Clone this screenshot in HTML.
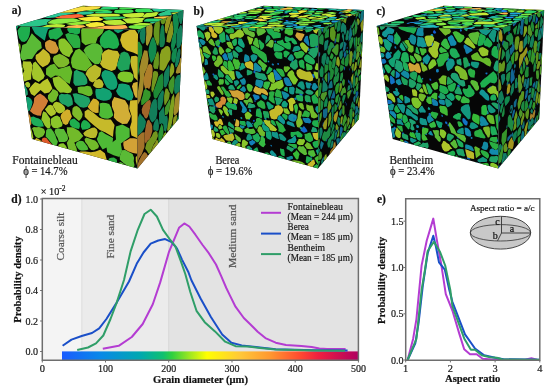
<!DOCTYPE html>
<html><head><meta charset="utf-8"><title>Figure</title>
<style>html,body{margin:0;padding:0;background:#fff;width:550px;height:389px;overflow:hidden}svg{display:block}text{font-family:"Liberation Serif",serif;stroke:#1a1a1a;stroke-width:0.22px}text.g{stroke:#555}</style>
</head><body>
<svg width="550" height="389" viewBox="0 0 550 389">
<defs>
<linearGradient id="cbar" x1="0" x2="1" y1="0" y2="0"><stop offset="0.000" stop-color="#1a5cff"/><stop offset="0.128" stop-color="#0a88e8"/><stop offset="0.263" stop-color="#00a8b0"/><stop offset="0.341" stop-color="#10c070"/><stop offset="0.371" stop-color="#30d040"/><stop offset="0.432" stop-color="#a0e820"/><stop offset="0.489" stop-color="#ffff00"/><stop offset="0.601" stop-color="#ffc838"/><stop offset="0.702" stop-color="#ff9830"/><stop offset="0.803" stop-color="#ff4a30"/><stop offset="0.864" stop-color="#f02040"/><stop offset="0.931" stop-color="#d01050"/><stop offset="1.000" stop-color="#b00060"/></linearGradient>
<clipPath id="kaf"><polygon points="16,26 138,30 137.5,168.5 32,139"/></clipPath>
<clipPath id="kar"><polygon points="138,30 183.5,10 178.5,119 137.5,168.5"/></clipPath>
<clipPath id="kat"><polygon points="83,5.7 183.5,10 138,30 16,26"/></clipPath>
<clipPath id="kbf"><polygon points="196.5,26 318.5,30 318,168.5 212.5,139"/></clipPath>
<clipPath id="kbr"><polygon points="318.5,30 364,10 359,119 318,168.5"/></clipPath>
<clipPath id="kbt"><polygon points="263.5,5.7 364,10 318.5,30 196.5,26"/></clipPath>
<clipPath id="kcf"><polygon points="376.7,26 498.7,30 498.2,168.5 392.7,139"/></clipPath>
<clipPath id="kcr"><polygon points="498.7,30 544.2,10 539.2,119 498.2,168.5"/></clipPath>
<clipPath id="kct"><polygon points="443.7,5.7 544.2,10 498.7,30 376.7,26"/></clipPath>
</defs>
<polygon points="16,26 138,30 137.5,168.5 32,139" fill="#060606"/>
<g clip-path="url(#kaf)">
<path fill="#12a272" d="M116,91.1l1.8 3.4 2.9 2.6 3.8 1.2 3.8 2.3 3.6-.7 1.5-3.2-.7-4-1.9-3.9-1.5-3.6-3.6-1.2-3.6-.4-3.5 .5-.8 3.7zM115.2,18l-1.7 4-.1 4.2 .9 4.7 3.7 2.4 4-2 3.6-2.5 3.8-2.7-1.3-4.2-2.1-3.6-3.5-3.3-4.1 .3zM22.9,95.9l-2.1 1.4 .5 3.7-.3 3.3 1 3.3 2.8 1.9 2.7 1.9 2.1-.9 1.3-2.4 1-3.1 .6-2.9-1.4-3.2-2.6-1.8-2.7-.2zM7.5,15.4l-.7 3.1-.2 3.2 0 3.5 2.2 2.3 2.7 1.7 2.8 1.4 2.5-1 1.3-2.8 1.3-2.8-1.3-3.6-2.5-2.7-2.4-1.2-2.6-.4zM95.8,88.7l-.5 3.1 .3 3.3 1.1 3.4 3.6 1.4 3.2 .9 3.3-.3 3-.9 1.8-2.7 .4-3.2-2-3.1-3.7-1.8-3.4-1-3.1 1.3zM101.3,75.7l1.6 4 1.6 3.9 2.3 3.8 3.5 2.4 3.4-.1 2.8-1.9 1.1-4.2-1-4.3-1.5-3.9-2.6-3.2-3.8-1.5-3.7-.6-2.8 1.9zM32.8,22.2l-.9 5.6 3.1 5.7 5 3.8 4.8 3.4 1.6-6.7 1.6-4.7 4.4-2 4.1-3.1-1.2-6.9-5-4.4-5.4 .7-2.5 5.7-4.8 1.4zM148,13.5l-.5 5.5 2.1 4.9 1.1 5.1 2.3 5.3 4.8-.7 2.7-4.5 1.7-4.6 1-5.5-1.9-5.1-4.2-3.4-5-.7zM16.6,13.6l.3 3.4 1.8 3.2 2 3.2 2.8 .8 2.5-1.3 .3-3.4-2.6-2.9-2.4-2.7-2.5-1.4z"/>
<path fill="#2aae42" d="M108.1,166.4l1.4 2.4 2.7 1.4 2.4-.1 .7-2.9 .8-2.4 1-2.4-.3-3-2.9-1.8-2.9 .1-2.1 .7-.5 2.6-.4 2.8zM136.9,21.6l-1.4 4.4 2 4.5 2.3 4.3 4.3 1 4.3-.2 2.3-3.4-.6-4.7-1.4-5-2.8-4.2-4.8 .7zM59.1,15.6l-.8 3.6 1.7 3.6 1.4 3.9 3.2 .5 2.8-.7 2.8-2.2 3.2-1.9 .9-3.7-1.6-3.9-1.7-3.9-3.1-1.3-3 2-2.6 2.4zM68.2,32.9l-3 1.5 1.6 4.3 1.9 3.1 2.4 3.1 2.4 3.2 2.9 0 3.7-.4 .3-4.1-.3-4.1-1.4-3.7-3.4-1.6-3.5-.2z"/>
<path fill="#d2ae36" d="M128.3,105.4l-3.2-5.2-5.5-1.8-5.4-1.5-2.3 4.9 .1 4.9 2.2 5.5-.4 5.2 3.4 3.7 5.2 3 4.8-.3 2.4-4 1.4-3.9-2.2-5.3zM133.4,83l-1.5 3.2 1.1 4 .9 3.9 1.6 3.4 3.4 .7 2.9-1.5 2.8-2 2.8-2.4 1.7-2.9-.7-3.9-4.1-1.7-3.8-1.7-3.7-.1z"/>
<path fill="#d2ba2a" d="M103.5,166.6l3.9-2.5-1-5.7-1.5-5.2-4.7-3.5-4.7 1.8-4.6 .7-5.5-.6-5.6-.2-.7 4.4 3.4 4.2 5.9 3.1 5 1.8 5.3 1.2zM36.4,137.9l-1.5 1.5 .4 2.8 1.3 3.1 1.4 2.7 1.4 3.3 2.5 .8 1.7-1.4 1.6-1.4-.7-2.7-1.6-2.5-1.5-3-2.2-1.6zM146.6,113.9l-3.1-8.5-6-5.5-7.3 .6-1 7.9 2.4 7.5 0 6-1.6 5.4 1.4 8.1 6.8 3.1 6.2-.4 4.5-3.8 .3-6.9-2.4-6.8zM122.5,46.8l4.2 3.8 6.4 1.8 5.8 2.7 7 3.7 2.7-6.7 2.8-5.9-3.2-6.6-5.9-1.8-4.6-4-4.3-6.2-5.7 3.5-5.9 2.9-1.7 6.1z"/>
<path fill="#72ba2a" d="M49.6,101.2l2.5 1.5 2.2-1.4 2-1.2 .8-2.8 1.4-2.6-.8-3.2-2.7-1.8-2.3-.6-1.6 2.8-1.6 1.6-1.5 1.8-.2 3zM66.8,127.2l.3 5.8 2.1 5.8-2.4 3.9 1.4 5.5 1.5 6.7 4.5 2.6 3.6-2.5-1.2-6.8-2.3-5.8 5-2 4-4.3-4.4-5.4-6.2-3.4zM33.9,126.9l-1.9 1.4 1.5 3.3 .7 2.9 1.7 2.5 2.6 1.3 2.3-1 2.1-1 1.2-1.9 1.1-2.5-1.2-2.8-2.5-1.3-2.5-.8-2.6 .2zM86.4,137.6l-1.9 1.4 .7 3 2.2 2.8 1.7 2.9 2.2 2.3 2.6 .2 2-1 2.3-.9 .8-2.4-1.6-3.1-2.2-2.3-2.7-.8-2.8-1z"/>
<path fill="#d29636" d="M22.5,119.4l1.1 2.5 2 1.8 2.4 1.7 2.4 .2 1-1.8-.4-3.1-.2-3-1-2.6-2-2.2-2.1 .4-1.1 1.9-.9 2.1zM45.1,42.6l-.1 3.4 .9 3.2 2.7 2.2 2.2 2.1 2.6 .3 2.7-.4 1.8-1.7 .9-2.9-1.9-3.5-1.4-3.3-2.8-1.1-3-1.2-2.4 1.1z"/>
<path fill="#d27e36" d="M29.9,110.9l3.5 3 4 1.6 3.5 .3 .9-4.3 2.4-3.2 2-3 2-4.5-3.9-4.6-4.2-2.7-3.1 1.8-2.8 2.8-.4 4.5-1.5 3.9z"/>
<path fill="#aec62a" d="M19.7,77.3l1.8 3 3.3 1.3 3-1.4 3.3-.8 .2-4.7 .7-4.5 .7-5-2.2-3.8-3.8 .1-3.7-.2-.5 4.5 1.8 4.9-1.5 3.1zM54,102.7l-1.2 2.5 1.7 3.4 1.9 3.3 2.7 1.6 2.4-.5 2.4-1.2 1.4-2.2-.7-2.9-2.2-2.3-3.1-1.8-3-.9zM52.9,105.8l-2.6-1-2.2 .7-1.5 1.9-1.7 1.9 1.8 2.8 2.1 2.4 2.3 2 2.2-1.2 2-1 .8-2.4-1.9-2.8z"/>
<path fill="#66ba2a" d="M75.4,50.2l-2.1 4-1.9 3.8-.4 4.7 1.4 4.8 4.4 1.9 4.4 .8 4.6 1.1 2.9-3.2 3.7-3.2-3.1-5-2.5-4.6-3.7-3.2-3.7-3.7zM81.6,42l3.9 3.2 4.8-1.5 5.4-.1 2-6.2 4.8-4.1 2.3-6-5-4.7-4-4.6-4.7-.7-3.6 3.6-3.4 4.4-3 4.7 .2 6zM77.7,87.2l0 2.8 .7 2.9 3.7 .8 3 1.2 3.5 1.4 2.5-.6 1.6-2.3-.5-3.5-1.7-3.4-3.3-.8-2.9 .7-3.4 .2zM54.3,63.8l-4.1 1.2-4.1 3.5-.1 6 4.9 3.5 4.3-2.4 4.6 .4 5.6 5.8 4.3 2.1 1.3-5.4 1.3-6.5-2.5-6.2-6.1 1.7-5.3 1.4z"/>
<path fill="#96c62a" d="M52.5,77.7l.7 4.4 1.2 3.9 2.5 3.6 3.1 3.1 3.6-.1 4 .6 3.2-.7 1.3-3.3-3.1-3.8-3.2-3.3-3.4-3.2-3.4-3-2.9 1zM46.1,112.4l-2.8-1.2-1 2.8-.4 2.9-.6 2.7 1.9 3 1.7 3.2 2.7 2.6 2.5-.6 .6-2.8-.8-3.6 .2-3-1.9-2.7z"/>
<path fill="#bac62a" d="M31,94.1l3.4 1.9 3-3.1 3.2-2.9 4 3.5 4.7-1.1 3.1-3.9-2-5.1-2.9-5-4.5 2.5-3.1 3.2-4.7-2-3.2 3.2-3 3.7z"/>
<path fill="#4eba36" d="M116,139.5l-4.9 3.8-4.6 4.2 .8 4.8 6.3 2.9 5.8 1.7 2.6-6.1-1.1-7.4 4.7-3.5 4.1-2.9-.1-8.5-7.3-3.9-6.4 1.9-.4 6.3zM76.6,142.5l-1 2 1.5 2.7 1.7 2.4 2.4 1 2.6-.1 2.3-.2 2.3-.9-1-2.9-2.1-2.7-2-2.6-2.5-.5-2.4 .6zM48.1,128.5l-1.9 1.7-.3 3.3-.3 2.9 2.8 2.8 2.2 2.9 2.6 2.8 2.6 1.3 1.4-2.1 .7-2.5-1.5-3.2-1.1-3.4-1.8-3.3-2.5-3.1zM101.6,131.2l-2.7 1.5-.6 3.3-1.5 2.9 1.5 3.8 1.9 3.1 2.4 3.7 3-1.5 2.6-1.4 2.5-2.4 2-2.5 .4-3.7-4.2-2.2-3.5-1.8zM102.5,102.7l-3.1 .7 .6 4.4-.3 3.4-.7 3.8 2.3 2.6 3.2 .9 3.5 .2 3-1.2 2.3-2.3-1.2-4-1-3.8-1.9-3.4-3.3-1z"/>
<path fill="#8ac62a" d="M51.2,125l1.7 2.4 2.3 .9 2.6-.4 2.3-.7 2-1 .5-2.5-1.5-3-1.2-3.5-2.7-1.8-2.6 .8-2 1.3-1.9 1.5 0 3.1zM58,147l-.2 2.6 2.7 2.3 2.5 2.6 2.7 2.3 2.3-.1 .6-2.2-.8-2.9-.6-3-1.3-2.9-2.4-2.5-2.7 .3-2.1 1.1zM58.6,40l-.2 3.8 .3 3.5 1.6 3.8 2.3 3.2 3.3 1.7 3.4 1.3 1.6-3.2 2.1-2.6-.9-3.9-2.4-3.5-2.6-3.1-2.6-2.5-3.1-.1z"/>
<path fill="#5aba36" d="M19.7,56.3l2.9 4.4 5-1.6 4.5-.1 2.5-3.9 2.9-4 4.3-3.1-.8-5.8-4.5-4.3-4.7-4.6-3 5.7-2.6 4.6-3.9 1.5-1.1 5.6zM55.3,129.2l-.8 2.5 1.4 3.3 1.8 3.1 1.3 3.9 3.1 0 2.6 0 2.3-1 1.1-2.3-.5-3.2-2-3.3-1.8-3.2-2.8 0-3.2-.7zM119.8,175l2.9 .1 2.1-1.3 2.1-1.1 3-1.2-1.6-2.9-2.6-2.2-2.3-2.8-2.9-1.7-2.2 1.2-1.1 2.2-1.1 2.5-.2 2.6 1.2 2.6zM85.8,47l-2.3 3.3 2.2 4.3 3.1 3.9 3 3.2 3.4 2.6 3.8-.4 2.2-3.1 .3-5 1.4-4.8-1.6-5-4-2.6-4.1-.1-4.1 1.8zM119.7,156.5l.2 3.3 3.3 3 3.3 2.5 3.3 2.8 3.8 .5 .9-3.5-.8-3.8 .4-3.5-1.5-3.8-3.8-2.1-3.6-1.9-3.3 .3-1.1 3.3z"/>
<path fill="#baba2a" d="M94.1,82.3l-1.1 3.2 2.8 2.3 3.3 .4 3.4-.8 1.2-3.1-1.5-3.5-2.9-2.1-3.1 1.3zM86.9,70.8l-1.4 3.4 2.4 3.3 1.7 3.4 2.8 1.6 2.9-1.5 2.2-2.8 2.4-2.2 .9-3.5 .6-4.1-3.4-1.8-3.1-2.1-3.2 1.8-2.7 2zM97,129.4l-2.3-2-2.7 .3-2.6 1.3-2.4 1.1-1.8 1.2-2 1.9 1.6 2.7 2.8 1.1 2.8 1 3 0 2.4-.5 1-2.3 .9-2.9zM95.4,11.4l.9 3.6 2.3 3.2 2.5 3 2.3 3 2.7 1.9 3.7 .7 2.2-3.2-.8-4.7-1.3-3.2-3.4-2.5-3.1-2.5-3-1.9-2.9-.2zM154.2,165.7l3.1-2.6-1.8-4.6-2.2-4.5-4.5-2.5-4.1-.2-3.1 2.1-3.6 1.3-2.3 2.5 .1 3.9 1.1 3.9 4.4 1 4.1 .5 4.3-.8z"/>
<path fill="#1eae4e" d="M68.1,26.1l-.9 3.6 2.1 3.3 3.9 .4 3.7 1.3 2.9-1.5 .5-4.1 .2-4.2-3.1-2.5-3.5-.5-3.1 1.8zM17.5,30.8l.6 3.5 1.1 3.9 2.3 3.2 2.9 .5 2.3-1.3 1.7-2.7 1.2-3.3 .4-3.4 0-4.5-3.1-1.7-2.8-.4-2.7 1.4-2.2 2.1zM80.9,126.8l1.4 3 2.8-.2 2.5-.7 2.4-1.2 .8-2.3-1.7-2.7-2.7-2.1-2.6-.5-1.8 1.6-.9 2.3zM74.2,118.6l-2.5 .6-1.9 1.6-.2 2.7 1.1 2.5 2.5 1.5 2.9 1.1 3 .3 .8-2.6-.3-3.3-2.7-2.3zM100.4,37.6l-.8 3.9 1.2 4.3 3.7 2.7 4.3-.7 4.4 1.3 4-.9 2.1-3.6-1-5.1-2.1-4.5-3.3-3-3.7-2.2-3.8 1.5-2.9 2.9zM49.3,30.3l-.9 2.7 .3 3.2 1.6 2.7 3.1-.1 2.7 1 2.4-1.6 2.2-1.7 2.5-2.5-1.6-3.3-1.3-3.1-3.2 .3-2.6 .5-2.5 1z"/>
<path fill="#1ea272" d="M22.7,83.2l-2.1 .5-.8 2.5-.1 2.9-.1 2.8 1.7 2.2 2.4 1.1 2.6 .5 1.6-1.3-.2-2.8-1-3.1-1.8-3.2zM133.6,169.9l0 2.9 2.8 2.8 2.7 2.8 2.9 2.1 3.7 2.4 2.3-1.9 2.2-1.7-1-3.4-1.6-3.3-1.8-3.4-3.5-1.3-3.2 .3-4.1-.8z"/>
<path fill="#7eba2a" d="M72.6,108.3l-.3 2.6-.1 3 1.6 2.7 2.4 1.8 2.8 2.5 1.9-1.8 1.2-2.1 .6-2.7-1.3-3.4-1.8-3-2.8-1.8-2.5 .5zM54.1,55.9l-1.3 2.5 .8 3.4 2.3 3.1 2.7 2.7 3-.2 3.2-.7 2.7-1.4 2-2.2-.7-3.8-2.9-2.2-2.9-1.9-3.4-1.5-2.9 1.2zM15.1,54.9l2.1 2.3 1.4-2.4 .7-2.3 1-2.5 .4-2.9-.3-2.7-2-1.5-1.9 .4-1.7 1.5-1.6 1.7-.6 2.8 1.3 2.8zM17.4,72.6l1.9 1.8 2.2 .3 1.2-2.6 .6-2.7-1.3-3.2-1.3-2.9-2.1-2-2.1 .3-1.5 1.6 .3 3.1 1.4 3.2z"/>
<path fill="#7ec62a" d="M120.1,72.3l-2.3 2.1-.2 3.7 2.9 2.7 3.4 1.3 3.9 .5 3.7-.6 1.9-3 0-3.9-2.9-2.9-3.7-.4-3.7-.4z"/>
<path fill="#de5a2a" d="M42.2,138.5l-.6 2.1 2 2.9 1.6 2.5 1.6 2.9 2.5 1.6 2.2 .4 1.7-1 1.5-1.6-1.9-2.9-2.2-2.3-2-2.3-2.2-2.8-2.3-.4z"/>
<path fill="#c6ba2a" d="M100,63.8l2.8 3.6 4.1 1.8 4.6 1.8 3.9-1.6 1.8-4.5 1-5 1.6-4.8-2.3-4-4.6-.7-4.5-1.1-3.9 1.7-2.7 3.1 .2 5zM136,55.7l-4.8 .6-1 4.9 1.1 5.9 1.7 4.7 1.2 5.7 4.1 3.9 5.5 1.7 4.4-2 .7-5.5 2.3-4.6-1.6-5.4-3.8-4.9-5.2-1.4zM99.3,117.8l-5.9-5.1-5.4-3.5-3.4 2.3 .1 5.3 4.7 4.8 5.3 4.4 5.1 4.1 5.7 2.5 7.5 4.3 .5-6 1.1-6-3.7-5.4-6.2-.1zM35.8,55.1l-.3 3.4 1.9 3.4 2.6 3 2.8 2.3 2.4-1.3 2.8-1.3 1.9-2.9 .6-3.6-1.2-4.1-3.1-2.9-3-2.3-2.5 2.7-2.3 1.9z"/>
<path fill="#1ea25a" d="M124.1,51.4l-3.4 1.7-1.2 4.3-1.3 3.9-1.3 4 1.3 3.4 3 2.6 4.1-1.2 3.9-.7 .5-4.2 .8-4.1-.6-4.4-1.9-3.7z"/>
<path fill="#1ea266" d="M61.3,93.8l-2.3 1.6-.2 3.1 .8 3 2.1 2.2 3.3 1.3 3 1.9 2.4-.9 2.5-1.5-.2-3.3-.7-3.3-1.6-3.2-3.1-.7-2.9 .3zM4.8,27.4l.6 3.9 1.4 2.9 1.2 3 1.9 3.1 1.9 2.4 2.6 1.1 1.5-2.5 1.8-2-1.2-3.4-1.3-3-2.5-1.6-2.5-1.9-2.3-.8zM76.1,93.3l-3.6 .5 1.5 4.3 .5 3.7 2.8 2.8 2.8 2.5 3.4 .6 3.4-.6 2-2.9 1.4-2.9-1-3.5-3.4-1.5-3.3-1.3-3.3-.7zM76.4,69.8l-2.4 1.8-.4 3.7-.1 3.6-.2 3.8 1.9 3.1 3.3-.1 3-.5 3.5-.2 2.4-1.8-.2-3.7-1.6-3.7-2.4-3-3.3-1.4z"/>
<path fill="#d2ae2a" d="M63,123.4l2.7 1.5 2.2-.8 1.1-2.8 1.6-2.1 1.3-2.7-1.1-2.8-.9-3.5-2.8-.9-2.3 1.5-2.1 1.7-1.6 1.9-.6 2.5 1.2 3zM96.4,99.3l-3.2-.8-2.1 2.7-1.7 2.7-1.8 2.9 2.2 3 3 2.1 3 1.1 2.8-.3 0-3.7 .1-3.3 .4-3.8z"/>
<path fill="#a2c62a" d="M33.4,137.6l-.9-4.4-1.4-4.8-3.8-2.5-4.2-3-1.6 3.5-.3 3.9 .5 4.1-1.9 3.3 .6 4.1 4.1 2.1 3.8 3.8 1.9-3 1.2-3.9zM32.8,78.4l3.1 1.8 2.8 1.7 2.2-1.6 2.5-1.5 1.4-3.1-1.9-3.9-1.9-3.5-2.5-3.2-3-3.7-2.4 1.7-.2 4.1-.8 3.4-.1 3.9zM30.1,86.5l.1-2.7-2-2-2.1 .4-1.2 1.9 1.4 2.7 2.1 .9z"/>
<path fill="#1eae5a" d="M33.5,116.5l-2.4 .4-.2 3 .7 3.1 2 2.3 2.4 .8 2.6 .7 2.4-.1 2.9-.1-.9-3.2-1.2-3-3-1.8-2.7-.9z"/>
<path fill="#d2a236" d="M123.4,141.7l-.1 3.4 1 3.9 4.3 2.6 4.4 1.5 4.2 .7 3.7-1.5 3.6-2-.4-4-2.1-3.9-3.1-3.2-4.9-1-4 .1-3.1 2z"/>
<path fill="#42ba36" d="M153.8,91.6l-4 1.2-2.9 2.2-2.4 2.5-2.5 2.4 1.1 3.3 1.3 3.9 3.3 2.5 3.6-.9 3.8-.3 2.8-2.2 .8-3.4-1.6-3.7-.6-3.9zM35.6,142.9l-2.1-2.4-1.8 1.3-1.2 1.5-.9 2.3-.6 2.2 1.1 2.5 2.2 1.4 2.4 1 2.6 .5 1.3-1.5-.9-3-.8-3z"/>
</g>
<polygon points="138,30 183.5,10 178.5,119 137.5,168.5" fill="#060606"/>
<g clip-path="url(#kar)">
<path fill="#72961e" d="M165.6,88.6l-.9 3.7-.6 3.7 0 3.8 .1 3.4 .6 2.2 1.3-1.5 1.3-2.3 1.3-2.2 .8-3.1 .3-3.4-1.1-1.3-.7-2.3-1.1-.8zM146.6,142.5l-1.5 6.1 1.9 2.4 1.4 2.6 1.8 .2 1.7-5.1 1.9-4.8 2.3-3.1 1.9-4.9-.7-3.8-1.6-1.1-2.4 1.5-1.7 4.1-2.4 2.8zM154.7,70.8l-1.5 1.3-.7 4.4-.4 4.4-.5 4.3-.3 4.4 .8 2.9 1.6-2.3 1.2-4.5 1.2-3.2 1.1-3.5 1.1-4.4-.7-2.9-1.5-.5z"/>
<path fill="#8a961e" d="M172.9,121.2l-.1 3.4 .2 3 .5 1.9 .9 .3 .8-4.3 .9-3.3 .8-3.9 .1-3.6-1.1 .3-1.2 1.2-1.2 1.2zM153.2,145.7l-1.4 4.1-1.7 5.2-.8 5.3 .8 2.8 2-2.2 1.6-1.9 1.7-3 1.6-2.7 .9-4.5 .3-4.4-.3-3.6-1.1-1.4-1.9 3.9zM166.8,36.9l-.4 5 1.6 .3 1.3 .9 1.4-1.5 1.1-3.8 1.2-3.9 .4-4.8-.6-3.6-.3-4.3-1.3 .3-1.1 2.8-1.1 3.9-1.3 4.4z"/>
<path fill="#2a962a" d="M133.7,95.2l1.6 1.8 1.8-3.3 1-5.7-.5-4.4-2.1 1.1-1.7 4.7z"/>
<path fill="#127e5a" d="M178,7.9l-.9 4.4 .4 4.1 1.2 2.6 .6 3.1 .9 2 1.3 0 1-3.7 .7-4 .4-4.3-.5-3.5-.9-2.3-1.2-1.3-1.4 1.9zM154.2,122.3l-1 3.7 .1 3.4 1.1 1.1 1.3 0 1.3 .9 1.5-1.3 .5-4.1-.3-3.2-.5-2.9-1.1-1.3-1.4 1.2zM159,112.7l0 6.7 .4 5.1 2.4-1.2 1.4 1 .8 5.9 1.8 1.9 1.7-6.2 .3-7.1-.7-3.2-2.1 .6-.6-4.9-.5-5-2.1 2.6zM176.4,76.5l-1.4 3.2-.8 5.2-.1 5.1 .6 3.3 1.3 .8 1.7-1.5 1.6-1.2 1.4-4.2 .5-5-.1-4.5-.3-3.4-1.6 .8-1.4-.2zM139.7,-30.2l-3.7-3.4-.2 14.8-.5 11.1 .4 12.5-.8 12.9 .4 9.2 1.7 8.7 3.8-5.1 3.1-9.9 .7-9.4-.6-10.1-1.4-11.3-1.5-10.1zM163.7,86l1.1 1.6 1.4-.7 1.4-2.8 1.3-3.4 .3-4.7 .5-4.9-.1-4.1-.8-2.4-1.6 2.9-1.5 2.2-1.4 2.9-.7 4.4 0 4.7zM164,92.2l-.8-2-1.3 .4-1.6 2.6-1.5 2.7-1.1 3.4-.2 3.9 .1 4.1 .7 2.4 1.1 .9 1.5-2.4 1.4-3.1 1-4 .2-4zM153.3,99.7l-1.7 3.4-1.4 5-1.3 6 .7 4.2 1.2 2.5 1.4 1.8 1.9-1.7 2-2.2 1.1-4.7 .2-4.5-.4-4.4-.2-5.2-1.6-1.1zM177.4,30.1l-.7 4.9 0 4.6-.3 5.3 .8 3.4 1.4 .2 1.5-1.8 1.4-3.3 1-4.7 0-4.9-.2-4.8-.6-3.6-1.3-.7-1.5 3.3zM142.7,43.9l1.8-1.1 .8-4.9 .3-5.6-.3-4.9-1.6-1.3-2 2.5-1.9 4.3 0 5.2 1.2 3.6zM178.4,49l-1.1 3.2-1 4-.8 4.3-.5 4.1 .4 2.7 1-.1 1.3-1.6 1.1-3.4 .9-3.5 .5-4.1 .2-4.4-.8-2zM136.2,132.6l.6 3.9 2.3-2.1 2-1.5 2-2.3 2-3.8 .9-5.3-1.4-2.5-1.4-1.7-1.6-1.7-1.7-2.3-1.7 3.7-.9 5-.7 5.4z"/>
<path fill="#a27e2a" d="M180.1,3.4l1.5-5.2-.4-7.9-.2-8-.7-5.8-.1-9.7-2 2.6-1.1 7.9-1.3 7.4-1 8.1-1.3 7.9 .3 6.1 2 1.4 2.2-1.8z"/>
<path fill="#42962a" d="M171.4,94l1.3-.3 1-4 .4-4.5 .5-4.6-.2-3.5-.8-1.4-1.2 1.1-1.4 2.3-1.5 1.8-1.1 3.9 .3 3.5 .7 2.3 1 1.7zM170.2,103.4l.2-4-1.3 .3-1.4 3.1-1.3 2.2-1.5 2.8 0 3.8 .1 3.6 1.4-.5 1.2-.5 1.2-2.7 .9-4.1z"/>
<path fill="#1e8a36" d="M135.9,41.6l-1.8 8.3 .2 8.1-.9 8.3-3.7 7-3 8.9 3.1 3.5 3.7 0 3.4-6.2 2.2-7.9 .3-8.3 2.7-8.3 .2-8.6-2.9-4.6zM167.8,135.3l-.9 4.6 .7 2.1 .9 1.2 1.1-.3 1.4-3.2 1.1-3.4 1-3.9-.4-3 0-4-1-.6-1.4 4.1-1.1 3.2zM153.2,92.1l.5 4.3 1.2 2.3 2.1-.7 2.1-4 1.9-2.8 2.2-3.2 .1-5.5-.1-5-.5-4.6-2.2 1.8-1.8 1.8-1.6 5.1-1.8 5z"/>
<path fill="#a2962a" d="M148.4,20.7l-1.8 2.4-.5 5.5 .2 5.4-.5 5.5 .2 4.9 1.4 1.5 1.7-3 1.3-3.4 1.6-3.4 .5-4.6 .1-4.5-1-2.9-1.4-2.7z"/>
<path fill="#a28a2a" d="M134,109.9l-4.2 4-4.6 6.2-4.9 5.3-5.4 6-3.2 6.9 2.1 5.4 3.7 .5 5-1.2 4.8-1.2 3.8-2.9 4.3-4.8 1.4-11.1 1-11.1zM173.4,112.7l.8 2.8 1.5-.7 1.5-1.8 1.5-2.1 .8-5.1 .1-4.3 .1-4.5-.2-4.7-1.3 0-1.6 2.1-1.3 3-.8 4.6-.5 5.2zM137.2,106.1l3.1-5.7 2.7-10.3 .8-8.2 .5-7.9 3.3-7 1-8-1.2-8.3-3.3-.5-2.8 9.3-2 10.2 .7 8-1.4 9.7-1.9 11.3zM181.3,45.3l-.4 4.2-.1 4.1 .4 3.2 1.1 .9 1.1-.3 1.1 .1 .8-3.3 .3-4.4 .3-3.8-.4-2.7-.8-1.7-1.2 0-1.1 .8zM176.7,68.2l-1 4.4 1.2 1.2 1.2-.2 1.3-.5 1.3-.3 1.1-2.9 1.2-3.9 .8-4.5-1.1-1.6-1-1.9-1.4 0-1 5.1-1.3 2.7z"/>
<path fill="#a2662a" d="M149,119.6l-1.8 1.2-1.4 5.3-.8 5.1 0 4.4-.5 5.7 1.2 2.1 2-2.9 1.9-1.2 1.5-3.8 1.2-4.5 0-4.6-.8-2.9-1.2-1.5zM143,105.7l-1.3 3.9 .4 3.7 1.3 1.6 1.2 2.6 1.5 1.2 1.7-1.7 1.3-4.1 1-5 .8-5-.7-3-1.6 .4-1.9 1.1-1.9 2.3z"/>
<path fill="#a2722a" d="M131.6,171.9l2.5 0 2.4-6.1 2.5-7.4 2.9-4.3 2.6-7 .1-7.1 .2-7.8-2.7 .2-3.2 2.9-3.3 4.1-.7 8.6-2.2 7.9-.4 7.1zM142.2,177.4l3.1-4.2 2.2-5.4 1.3-6.7-.7-5-1.7-3-2.2-1.2-2.6 3.6-2.7 5.2-2.6 7.3-1.3 6.8 .2 5.9 .8 5.6 3.2-4.2z"/>
<path fill="#128a4e" d="M174.9,129.7l-.3 3.6 1.1-.7 1.1-1.2 .9-3 .7-3.5 .7-3.3 .4-3.9-.4-2.6-1.1 1-.9 3-.8 3.4-.6 3.5zM174.4,11.5l-1.7 4.8 .5 7.9 .6 7.3-1.9 7.2-1 6.8 1 6.2 2.6-4.2 1.8-5.8 0-7.1 1.6-5.2 1-5.8-.7-6.9-1.7-3.1zM149.2,45.7l-.8 5.4 .7 4.8 .8 3.8 1.2 3.3 1.9-1.9 1.7-3.2 1.4-4.5 .5-4.8-.3-4.3-1.2-3.3-1.1-3.5-1.7 .1-1.7 3.3zM172.5,51.2l-.9 3.2-.3 4 .6 2.7 1.1 1.1 1.1 .9 1.2-2.2 .9-4 .5-3.8 .4-3.9-.7-2.2-1.4 1.5-1.3 .4z"/>
<path fill="#127e4e" d="M159.3,43.7l.8 3.3 1.6 .2 1.6-.5 1.4-2.8 .4-4.4-.5-4.1-.2-3.9-.3-4.4-1.1-2.6-1.6 1-.9 4.1-.4 4.2-.5 4.8z"/>
<path fill="#96961e" d="M170.2,9l-1.4 3.4-1.2 3.4-1.4 3.9-1.2 4.7-.2 5.3 .8 3.3 1.3 .4 1.2-3.8 1.1-3.7 1.2-4.2 .8-4 1.2-5.3-.6-3.5z"/>
<path fill="#8aa21e" d="M163.6,70.9l2.4-3.5 1.9-4.1 2.4-3.9 .5-7.1-1.1-4.9-1.8-1.5-2.2 .3-2.1 2-2.2 1.6-1.6 5.4-.3 7.3 0 7 2.1 .7zM172,62.8l-1.1 1.4-.7 3.6-.4 4-.1 4 .8 1.9 1.3-1.9 1.2-1.5 1.2-2.6 .1-3.6-.5-2.6-.8-1.6z"/>
<path fill="#66961e" d="M160.2,11.5l-1.2 4.9 1.2 3.9 1 3.1 1.7 1.2 1.7-1.2 1.5-3.5 1.1-4.6 1.3-4.4 0-4.9-1.8-.9-1.3-1.6-1.7 3.4-1.8 1.8zM156.6,44.2l1.6 1.8 1.1-5 .2-5.3 0-5 .4-5.2-.3-5.2-1.5-.9-1.7 2.2-1.8 2.4-.8 5.2-.2 5.1 .8 4 1.2 2.8zM158.9,54.2l-.9-3.2-1.6 2.5-1.4 4.1-1.3 4-.5 4.8 1.3 2.5 1.7-.1 1.7 .3 1-4.8 0-5.2z"/>
<path fill="#7ea21e" d="M162.9,136.1l-1 4.2 .6 3.1 .5 2.8 1.1 .3 1.5-1.5 1.2-3.8 .2-4.1-.4-3-.8-2.2-1.5 1.4zM172.9,117.3l.6-6.4 .7-6.8 .4-5.6-.8-5-2.1 4-1.3 6.4-1.4 6.9 0 6.1-.9 6.4-1 6.2 1 2.5 1.7-2.7 2-5.5z"/>
<path fill="#ae7e2a" d="M144.9,73.8l-1.5 5.6 .6 5.2 1.1 4.4 2.3-1.2 1.8 1.4 1.6-3.6 .6-5.5 1-5.6 .3-5.4-.7-3.8-1.6-1.6-1.9 .9-2 4.6z"/>
<path fill="#36962a" d="M145.6,88.5l-1.9 2.3-1 4.9-1.6 4.8 .1 4.6 1.9-.4 2.1-1.9 2-1.6 1.9-1.8 1.7-3.6-.4-4.1-1.7-.9-1.5-.9z"/>
<path fill="#2a9636" d="M157.9,150.7l1.4 .3 1.7-.1 1.6-3.4-.5-4.9-.6-3.5 1.8-4.6 .2-4.6-.7-3.6-1.2-2.8-1.9 5.7-1.4 4.8 0 5.6 .3 4.3z"/>
</g>
<polygon points="83,5.7 183.5,10 138,30 16,26" fill="#060606"/>
<g clip-path="url(#kat)">
<path fill="#2ac68a" d="M164,11.8l-3.9 1.3-2.3 1.7 2.7 1.3 9.6-.8 1.9-1-1.7-1.7 6.3-.6 7.6-.6 5.4-1.2-3.2-1-5.9-.8-8.6 .8-5 1.1zM52.1,19.5l-7-.4-9.5 .7-9.4 1-8 1 .6 1.4 1.2 1.4-3.3 1.6 8.6 .3 8.5 .3 7.6-1 6.4-1.4-.8-1.6 1.7-1.6z"/>
<path fill="#2ac696" d="M54.3,12.5l-8.4 .5-5.9 1-.9 1.1 .8 1.2 3.5 .9 4.5 .8 6.9-.5 3.6-1.3 5.7-1 6.3-1 5.6-1.1-6.2-.5-8.6 .2zM156.3,8l-4.6 .4-.3 .7 1.7 .8 .2 .9 1.5 .7 3.8 .3 4.1-.4 2.3-.7 2.7-.8 3.2-.8-2.2-.6-3.4-.4-4.5 0zM152.5,21.7l-2.7 .7 .8 .7 3.5 .4 3.9 .5 4.5-.5 3.3-.6 3.9-.8 .6-.8-4-.3-4.1 .1-5.1 .3zM87.2,11.4l-4.7 0-3.5 .8-2.6 .7 .3 .8 2.8 .5 3.4 .5 4.8-.3 4.1-.7 2.2-.7-.2-.8-2.4-.6z"/>
<path fill="#36d266" d="M106.6,16.9l-4.1 .6 .2 .8 1.7 .7 1.8 .8 5 0 5.5-.5 5-.6 4.1-.8-1-.8-3.2-.5-4.4-.2-5.5 .3z"/>
<path fill="#36de5a" d="M135.9,9l-.4 1-.8 .8 1.1 .9 2.2 .8 5.6-.2 5.4 0 4.5-.6-1.3-.9-.4-.8-1.7-.8-.9-.8-3.8-.4-5 .4z"/>
<path fill="#c6ea36" d="M98.8,16.7l6.3 0 6.3-.3 7.2-.2 2-1-1.6-.9-3.7-.5-6.6-.1-6-.2-6.3 .1-5.8 .7-4.4 1 .5 1 6.2 .2zM174.8,12.5l-3.8 .5 1.1 .8 1.9 .7 1.1 .7 2.9 .7 4.6-.2 3.8-.5 2.2-.7 .9-.7-1.7-.7-1.2-.8-3.3-.3-4.5 0zM53.9,5.2l-6.2 .8 6.2 .5 5.1 .5 6.8 .2 5.6 .4 6.5-.5 7.1-.6 1.6-1-2.8-.9-3.7-.6-6 0-7.3 .3-7.4 .4zM125.5,13.7l-3.3 .9 1 1 1 1 2.9 .7 4.7 .5 6.3-.3 4.3-.7 .9-1.1 1-1.1 .1-1-1.8-.8-6.1 .1-5.3 .4z"/>
<path fill="#36d25a" d="M55.4,6.9l-4.8 .5-1.2 .7-.1 .8 .7 .9 1.1 .8 2.4 .6 5.6-.3 4.7-.6 4.1-.8 3.3-.9-2.6-.6-4-.3-4.5-.2z"/>
<path fill="#42de4e" d="M121.4,6.8l-1.4 .7-.6 .7-.3 .7 3.5 .4 5.1-.2 4.7 0 3.6-.5 3.1-.6-1.1-.6-1.8-.6-3.4-.3-3.2-.5-4.2 .3zM115.4,10l-1.1 .9-.2 .9 .1 .8 2 .7 4.7 .2 5.1-.3 5.3-.5 2-.8 .4-.8-.8-.8-1.7-.7-5.3 0-5.4-.1zM89.9,10.1l-3.8 .7 3.3 .5 3.5 .3 5.1-.2 4.6-.3 4.5-.2 4.2-.6-1.9-.6-3.8-.3-3.7-.2-4.2 .1-4.2 .3z"/>
<path fill="#2ad266" d="M103.8,5.3l1.4 .6 3.9 .3 3.7 .1 3.8 .3 4.7-.2 2-.6-.8-.6-1.4-.5-2.1-.5-2.6-.4-3.7-.3-3.2 .6-2.2 .6z"/>
<path fill="#ff6636" d="M61.6,15.6l-2.5 1-4.3 1 2.2 .7 5.3 .1 5.8-.1 6.1-.3 5.6-.6 4.6-.9-1.4-.9-1.1-.9-3.4-.7-6.3 .4-5.3 .5z"/>
<path fill="#2ad272" d="M108,6.3l-4.3 .4-1.8 .7-1.5 .8 1.1 .7 3.8 .4 4.3 .2 4.2 0 4-.4 .1-.8 .5-.8-2.5-.5-3.4-.4zM151.6,18.5l-4.7 .3-2.3 .9-.4 .9-.3 1 4.4 .2 5-.2 5.4-.3 5.3-.4 1.3-.8-.2-.9-4.7-.3-4.3-.3zM98.7,11.5l-4.2 .7 1.5 .7 4.4 .3 4.8 .1 6-.1 .9-.9 .6-.8-3.5-.5-5.3 .1z"/>
<path fill="#baea36" d="M39.9,27.4l.8 .9 4.9 .4 4.1 .5 6.1-.8 5.5-.6 2.9-1 .9-1-.1-.9-3.6-.6-5-.3-5.9 .4-4.2 .8-2.5 1.1zM15.9,26.9l-5.7 .4-2.3 1-3.9 1 2.2 .7 3.3 .6 6.3-.3 5.9-.3 6-.8 4.2-.8-2.3-.7-3.4-.4-5.5-.1zM145.1,18.4l-3.6-.7-6.7 .3-6 .2-6.6 .5 1.2 1.2 1.4 1 .9 1.1 1.4 1.3 4.9 .1 5.9-.5 4.9-.9-.3-1.3 1.1-1.1zM159,12.8l-2.5-.7-5.5 .6-4.3 .4-1.7 .9-.8 .9-.8 .9-1.5 1.2 2.6 .7 5.6-.7 4.4-.6 2.2-.9 .3-.8 .7-.9zM103.1,21l-.5 1.1 2.3 .9 .8 1.1 3.4 .6 6 .3 6.8-.3 4.5-.9-.8-1.1-1.5-1-2.1-.9-1.4-1.1-5.7 .2-6.4 .3z"/>
<path fill="#f6ea36" d="M100.6,22.5l-3.7-.6-4.9 .6-3.3 1-3.3 1 .6 .9 .9 .9 2.5 .7 5.1 0 5.2-.5 4.6-.8 .4-.9-.3-.9-1.7-.8zM94.7,21.1l5.8-.4 2.1-1 .5-.9-3.1-.8-.8-1-4.8-.4-6 .3-5.7 .5-4.3 .8 .1 .9 2.9 .9 2.9 .7 4.7 .6z"/>
<path fill="#ffae4e" d="M72.3,30.4l6.5 .9 12.6-.5 8.8-.2 9.6-.5 9.1-.5 8.8-1.3-.6-1.8-1.8-1.4-10.5 .4-8.9 .3-8.4 1.4-8.5 .3-9.9 1z"/>
<path fill="#ffba4e" d="M81.9,27.8l4.1-1.3-2.4-1.2-6.8-.3-8.4 .7-2.8 1.5-4.9 1.1-10.3 1-3.5 1.5 2.5 1 7.8-.1 8.5-.2 5.6-1.5 3.4-1.4z"/>
<path fill="#aeea36" d="M135.9,23.7l-3.4 .9 3.6 .5 5.6 .1 4.3 .2 4.6 .2 4.3 0 4-.5-.1-.8-2.4-.5-4.3-.3-4-.3-3.8-.3-4.5 .2z"/>
<path fill="#ffc642" d="M154.1,17.3l-.1 1 6.1 .3 5.5 .4 1.9 1.2 5.1 .7 6.3-.4 3.5-1.1 3.4-1.2-1.1-1.2-5.4-.7-5.9-.3-6.6 .2-6.5 .3z"/>
<path fill="#8aea42" d="M58.2,18.8l-5.8 .9-2.2 1.2-2 1.3 0 1.2 5.9 .5 7.7-.1 6.8-1 7.2-.8 5.8-1-2.7-1-2.1-1-3.7-.7-7.5 .3z"/>
<path fill="#f6de42" d="M59,11.4l.2 1.3 10.4-.1 9.3-.8 5.2-1.1 8-1 7.1-1.1 1.3-1.3 1.1-1.4-8.9 0-8.9 .9-7.9 .8-4.7 1.3-4.9 1.2z"/>
<path fill="#96ea36" d="M84.8,21.2l-5.4 .5-4.9 .6-4.8 .7-3.9 .8 2.3 .7 3.4 .4 5.2 0 5.5-.4 3.6-.8 3.6-.8 2.1-.9-2.3-.5z"/>
<path fill="#72ea42" d="M135.8,25l-5.5 .4-1.7 1.1-.1 1 1.8 .8 3.2 .5 4.4 .3 5.1-.2 3.9-.9 3.6-.8 4.1-1-4.1-.5-5-.1-4.5-.3z"/>
</g>
<polygon points="196.5,26 318.5,30 318,168.5 212.5,139" fill="#060606"/>
<g clip-path="url(#kbf)">
<path fill="#128aa2" d="M206.8,82.5l.9 .9 .1 .8-.4 .7-.8-.6-.2-.9zM212.4,138.5l.8 .7 .5 .8-.5 .4-.7-.2-.3-.9zM285.4,103.3l-.7 .6-.8-.5-.3-.8 .4-.9 .9 .7zM264.8,124.1l-1.1 .3-1.4-.7 0-1.6 1.2-.5 1.2 1.1zM215.7,28.9l.4 .7-.3 .7-.7 .3-.2-1 0-1zM311.8,157.7l-1.2-1-.8-1.1 1-.3 1.2 .2 .5 1.2zM251.1,111.9l-1.3 .2-.9-1.3 0-1.3 1.2-.4 1 1.4zM256.2,79.6l-.6 1.5-.2 1.9-.2 1.9 1.5 1.2 1.8 .7 1.8 1.5 1.5-1 .9-1.5 .3-1.9 .6-2.1-1.7-1.6-2-.2-1.9-.4zM235.1,119.2l.2 .9-.4 .6-.7-.4-.4-.8 .5-.5zM260.8,135.8l1.1-.6 1.5 .8 .2 1.6-1.2 .2-1.1-.7zM238.1,68l-1.1-1.5 .8-1.3 1.3 0 .8 1.5-.3 1.6zM263.6,114.5l-.6-1 .1-1 .9 .2 1 .7-.6 .8zM318.5,109.4l1.1 1.4-.1 1.6-1.5 0-1.9-1 1-1.4zM199.3,39.4l.3 1.4 .6 1.4 1 1.5 .9 1.2 1 .1 1.1-.3 .7-1 .7-1.2-.6-1.3-1.1-1-1.3-.8-1.2-.4-1-.1zM240.4,124.9l-.7 1 .4 1.3 1.2 1 1.3 .6 .9-.5 1.1-.8 0-1.2-1.3-.6-1.4-.2zM302.7,28.3l.9-.6 .5 1.1-.2 1.1-1 .1-.5-.9zM266,117.9l.8 1.1-.6 1-1.2-.4-.7-1.1 .4-1.2zM254,63.4l-.2 2 0 2.1-.3 2.2 1.1 1.5 1.8 .1 1.9 .5 2 .3 .8-1.6 .8-1.9-1.4-1.8-1.5-1.4-1.7-1.6-1.7-1.4zM288.8,114.9l-.5 1.8 0 2.1 1.1 1.5 1.8 1 2 .5 1.6-.2 1.2-1.3 .7-1.8 .2-1.6-.7-1.8-2.1-.7-1.9-.8-1.7 .7zM243.2,86.2l-.9 .5-.6 1.2-1.1 .7-.8 1 1 1 1.2 .7 1.3 .4 1.3 .5 .8-.9 .6-.8-.2-1.4-.7-1.3-.6-1.2zM209.5,124.6l-.2 .8 0 1.1 0 1.2 .6 .8 .9 .3 1 .1 .7-.3 .3-.9 .1-1.1 .2-1-.9-.7-.9-.3-.9 0zM312.9,83.4l-.4 1.4-.4 1.4-.5 1.5 .6 1.3 1.3 1 1.4 .5 1.1-1 .8-1.2 1.3-.8-.6-1.4-1-1.3-.8-1.6-1.4-.1zM244.1,61.1l1 1.1 1.5-.4 1.5-.4 1.3-.6 .3-1.4-.2-1.7-.7-1.7-1.5-.9-1.4-.9-1.2 .2-.3 1.6-.3 1.7-.1 1.9zM281.7,91l-.2 1.5 .9 2.1 .4 1.7 .6 1.7 1.3 1 1.6 .2 .9-1.5 1.4-1 .8-1.4-1.2-1.5-1.4-.9-1.7-1-1.6-.3zM300.6,167.9l-.9 .8 .4 1.7 .5 1.5 1.4 1.1 1.7 .9 1.3-.1 .2-1.4-.2-1.6-.2-1.5-1-1.3-1.7 0zM239.9,79.7l.2 1.4 .9 1.4 .9 1.3 1.3 1 1.3-.1 .9-.7 .4-1.4 .1-1.3-.5-1.5-.7-1.4-1.2-.4-1.2 .9-1.1 .5z"/>
<path fill="#1266c6" d="M253.5,71.1l1-.7 1.1 1.1-.1 1.3-1 .7-1.1-1.1zM218.6,39.6l1.4-.1 1 1 .1 1.6-1.2 .3-1.4-.8zM235.5,102.9l.8 1.4-.5 1.3-1.3-.6-.8-1.3 .5-1.1zM231.2,140l.7 .2 .3 .7 0 .7-.7-.1-.3-.8zM215.6,110.7l-.3 .4-.6-.3-.2-.8 .5-.4 .5 .6zM311.1,85.7l-1.6-.1-1.6-1.5 1.3-1.4 1.6 .3 1 1.3zM300,95.7l-.8-1.6 .9-1.3 1.7 .5 1.1 1.7-1.1 1.5zM230.6,132l1 1 .6 1.2-.8 .4-1.2-.4-.4-1.5zM315.2,46.6l.2-1.4 1.3 .5 1.1 .9-.8 1.2-1.4 .2zM247.3,125.3l1.3 .3 1 1.3-.7 .8-.9-.1-.7-.9zM215,105.7l.8 1.2-.7 .7-1.1-.2-.7-1.4 .6-1zM213.6,73.5l.9 .8 0 1.3-1 .1-1-.9 .1-1.3zM280.2,125.8l.1-.8 .8 .1 .6 .7-.1 .8-.8-.2zM294.3,119.8l-.9-.9-.1-1 .7-.9 .9 1.1 .2 1zM292.7,90.9l-1.6-1.6 0-2 1.9-.7 1.4 1.7-.1 1.8zM242.5,84.8l-.8 0-.2-1 .3-.7 .8 .4 .5 .8zM258.7,97.3l.4 .7 .1 .9-.8 .2-.6-.8 .2-.8zM216.9,99.4l1 1-.3 1-.7 .4-.7-.9-.2-1.1zM208.1,98.7l.1 .6-.3 .6-.6-.5 0-.7 .3-.3zM312.7,78.4l-1.9-1.6 .7-2.1 2-.9 1.3 2-.3 1.7zM206,27.5l.7-.3 .6 .4 0 .9-.4 .6-.6-.7zM278.7,25.8l.5 1.5-.8 1.4-1.4-.7-1.1-1.7 1.5-.8zM304.5,126.4l-1.2-.2-.7 1.4-1.1 .8-.6 .9-.4 1.3 1.5 .9 1.4 1 1.4 .2 1.1-.6 1.5-.4-.1-1.3-.9-1.4-1-1.2z"/>
<path fill="#127eba" d="M260.5,109.3l.3 1.3-.7 .8-1.4-.4-.3-1.5 .6-1.5zM307.1,102.4l-1.5-1.4-.5-1.9 1.7-.8 1.6 1.3 .3 1.9zM287,83.1l-1.1-1.2 .1-1.5 1.3 0 1.2 .7-.2 1.5zM235.7,10.4l0 1.7 1.6 1.7 1.4 1.9 1.6 1.3 1.5 1.9 1.5 .4 .1-2.2-.4-2.2-.6-2.5-.9-2.2-.9-2.3-1.8 .5-1.9 .7zM249.3,141.3l-.2 1.3 .6 1.4 1 1.2 1.1 .2 .9-.4 .9-.7 1-.7 .9-.7-.4-1.3-1.5-.9-1.1-.9-1.1 .7-1 .4zM196.2,34.8l1.3-.3 .8 1.7 0 1.8-1.4 0-.8-1.6zM230.2,135.9l-1.2-.2-1.1-.5-.2-1.5 1.1-.1 .9 .9zM269,62.5l-.8-.2-.5-.8 .4-.9 .9 .3 .4 .9zM215.6,43.8l-.1 .9-.5 .1-.5-.4-.2-.9 .7-.4zM257.4,133.2l.5 .8-.4 .8-.9-.6-.5-.8 .5-.5zM232.8,80.1l-.9-.2-.4-.9 .2-.9 .9 .2 .7 1zM271,144.8l.7 .5 .5 .9-.7 .4-.9-.6-.2-.9zM291,64.9l1 .8-.1 1.1-.9 .3-.8-.7-.4-1.3zM294.9,99.5l-1-1.3 1.2-.8 1.5 .1 .2 1.6-.6 1.1zM298.2,162.9l.8-1.1 1.4 .4 1.2 1.1-.6 1.4-1.5-.6zM252.5,95.1l.9 1.7 .6 1.6 .8 1.5 1 .7 1.1-.5 .9-.8 1.3-.7 .5-1.2-.5-1.6-1.5-.5-1.5-.4-1.5-.6-1.1 .1zM208.6,110.7l-.2-.7 .3-.7 .7 .5 .3 .9-.4 .4zM246.5,133.1l-.5 .1-.4-.7 0-.8 .8 .2 .5 .8zM222.1,55.5l.5 1.6 .8 1.4 .8 1.5 1.3 0 1.4 .5 1.3-.3-.2-1.6-.5-1.6-.6-1.6-.5-1.4-1.2-.9-1.2 .5-.8 1.1zM212.3,45.1l-1.3-.5-.5-1.5 .6-1 1.1 .2 .7 1.4zM275,154.7l0 1.2-1 .4-1.1-1 .2-1 .8-.3zM273.1,70.1l.5 2.6 .7 2.5 .2 2.4 .6 2 1.4 1.1 1.9-.8 2.3-.2 1.2-1.4-1.3-1.9-1.4-1.9-1.6-1.8-1.5-1.9-1.6-1.6z"/>
<path fill="#125ad2" d="M254.5,121.6l-.8 .5-.6-1.1 0-1 1-.3 .8 1.1zM248.3,122.8l.7 1.6-.6 1-1.3-.1-1-1.5 .8-1.1zM238.4,55.7l-1 .8-1.4-.8-.3-1.9 1.3-.8 1.5 1zM214.8,28.2l-.6 .9-.9 .1-.3-1.2 .2-1 .9 .1zM229.2,98.5l.3-1 .8-.7 .7 1.2 .3 1.3-1.1 0zM255.3,101.9l-.6-.1-.6-.8 .4-.7 .9 .1 .3 1zM216.1,43.8l.9 .4 .6 .9-.4 .8-.9 .1-.3-1.1zM217.5,106.7l0 .9-.7 .2-.8-.7 0-1.1 .8-.2z"/>
<path fill="#127eae" d="M272.7,65.6l-1-.7 .2-1.4 1.1 0 1.1 .9-.4 1.2zM206,78.1l.7-.3 .9 .2 0 1-.5 .5-.7-.4zM223.1,117.7l-1-.6 .1-1.1 .7-.3 .8 .7 .3 1.2zM209,103.3l.6-.2 .6 .9-.3 .7-.6-.1-.7-.7zM293.7,61l.3 1.5-1.2 .8-1.1-1-.4-1.5 1.2-.8zM322,166.4l-.6 1.2 .1 1.5-.5 1.4 .7 1.4 1.8 .8 1.7 .8 1.6 .7 1.1-.7 .2-1.5 .1-1.4-1.1-1.1-1.7-.8-1.5-.8zM283.5,78.6l.5 2.1 .6 2 .9 1.9 1.5 1.4 1.9 0 1.9-.1 1.4-.7-.5-1.7-1.3-1.9-.8-2-1.2-1.7-1.7-.7-1.7 .3zM306.5,35.7l-1.1 .8-.8 1.8-.9 1.6 .2 1.7 1.5 1.1 1.2 1.4 1.4 1.5 1.6 .4-.4-2.3-.2-1.7-.4-2-.4-1.7-.2-2.3zM303,117.8l-.5 1.1 .9 1.7 1 1.6 1.4 .9 1.7-.1 2 .6 1-.7 .9-1.3-.7-1.7-1.2-1.3-1.5-.8-1.7 .3-1.7-.2z"/>
<path fill="#1272c6" d="M199.2,41.9l-1.1 1-1.3-1.4 .4-1.6 .9-1 1.4 1.3zM275.8,42.5l-.8-.1-.8-.9 .7-.9 1 .2 .4 1zM278.5,63.1l.7 .9-.6 1-1-.3-.5-.9 .5-.9zM253.2,124.3l-.7-.2-.5-.7 .4-.6 .7 .1 .4 .7zM269.5,134.7l1.1 .2 .9 .7-.2 .9-.8 .1-.9-.7zM232.3,28.1l.4 1.8-1.4 .8-1.3-1.2 0-1.8 1.2-.3zM250.7,147.6l1.1 .4 .6 1.2-.6 .9-1.1-.6-.9-1.3zM224,99.1l.1-.5 .6-.1 .5 .7-.1 .8-.8-.1zM218.4,47.4l-1.1-1.1 .1-1.5 1.1-.2 .8 1-.1 1.2zM222.5,134.9l-.5 .3-.6-.6-.1-.8 .5-.2 .5 .6zM317.3,73.7l-.2 1.1-1.2 .1-.7-1 .4-1 1 .1zM309.1,48.2l.7 1.3-.7 1.4-1.5-.3-.8-1.5 .6-1.9zM191.6,41.8l.7 1.7 .5 1.6 1.1 1 1.3 1.3 1-.7 .4-1.2-.4-1.8-.1-1.7-.2-1.8-1.2-.4-1.2 .5-1.1 .4z"/>
<path fill="#128aae" d="M233.9,82l.3-1.1 1.2-.4 1 1.6-.7 1-1 .2zM220.5,47.4l-.9 .7-1.1-1 .1-1.3 .9-.3 .8 .5zM294.3,51l-.9-1.1 .2-1 .8-.4 1 .5 0 1.4zM241.4,101.3l-1.7 .2 .3 1.9 1.2 2 1.2 2.2-.4 1.9-.6 2.6 2 1.2 1.7-.5 1.6-1.3 .2-2.2-.9-1.9-1.6-1.8-1.6-2.5z"/>
<path fill="#1266d2" d="M234.5,27.8l-1-1.6 .6-1.9 1.4 .7 1 1.1-.3 1.9zM293.2,147.5l.6-.8 1.3-.1 .8 1.4-.8 .8-1.3 0z"/>
<path fill="#129696" d="M240.7,117l.9 0 .8 .9-.2 .9-.9 .4-1-1.1zM269.8,151.9l.2 1.3 1.1 1.6 .8 1.5 1.4 1.1 1.4 0 1.6 .3 .3-1.4-.2-1.4-1-1.4-1.4-1.3-1.1-1.4-1.3-.5-1 .6zM279.3,115l-.9 1.3-.7 1.4-.5 1.6 1.6 1.3 1.4 1.3 1.7 1.4 1.6 1.1 1.2-.7 .4-1.8-.4-1.6-1.1-1.5-1.3-1.5-1.3-1.4zM217.5,120.3l.4-.7 .8 .6 .6 .8-.5 .6-.7-.4zM240.8,26.6l.5 1.9-.8 1.2-1.5-.1-.7-1.9 1-1.1zM306,82l-.6 1.3 .7 1.9 .1 1.7 .7 1.3 1.5 .4 1.7-.1 .3-1.8 0-1.7 .4-1.6-1.4-.5-1.6-.5zM287.1,121.8l-.6 1.3 .9 1.3 1.3 .6 1.5 .6 1.6 .6 1.5 .6 1.7 .5-.6-1.7-.5-1.5-.8-1.3-1.6-.5-1.5-.5-1.7-.8zM266.5,156.9l.1 1.2 .3 1.3 .8 1.1 1.1 1.1 1.4 .4 .4-1.2 .5-1.1 .3-1.1-.8-1-1.3-.2-1.4-.3zM195.7,20l.8 1.4 1.1 1.5 1 1.4 .9-.1-.2-1.7-.3-1.7-.5-1.6-.7-1.7-1.3 .3-1.1 .4zM294.9,143.1l.9-1.5 .7-1.8-.6-1.8-.5-2.5-1.6 .7-1.4 1.5-1.4 1.2-1.7 .3-1.3 1-.8 1.6 1.6 .9 2 .2 2.1 .2zM206.8,72.5l-1.1 .5-.7 1.4-.9 1-.8 1.2-.5 1.2 .6 1.6 1.6 .4 1.2 .1 1.2-.2 1.2-.5 0-1.4-.3-1.8-.6-1.9zM334.2,50.1l-1.5 1-1.1 1.6-1.3 1.2-1.8 1.4 .7 1.8 1.9 .6 1.8 .5 2-.1 1.1-1.1 .7-1.7 .7-1.9 .1-1.7-1.5-.8zM227.3,148.1l.9 1 .7 1 .7 1 .9 .5 .7-.6 .5-.6 .1-.8-.5-1.1-.8-1-.9-.3-.8 .3-1 0zM235.5,71.3l.2 1.7 .3 1.7 .6 1.8 .8 1.5 1.4 .9 1.3-.8 1.4-.5 1.3-.6-.7-1.7-1.4-1.4-.9-1.7-1.5-.8-1.6-.5z"/>
<path fill="#12968a" d="M300.5,75.3l0-1.5 1-.8 1.3 .8-.1 1.3-.9 .5zM299.6,126.8l1.5 .1 1.6 .9-.7 1.3-1.2 .4-1-1.1zM301.5,64.6l-.8 .9-1.1-.7-.2-1.2 .9-.7 1.2 .5zM230.6,59.6l.3 1.1 0 1.2-1.1-.2-.7-1.2 .5-.9zM220.7,141.2l.8 1.2-.6 .7-1.1-.4-.5-1.2 .5-.7zM191.5,50.2l.4 1.3 .6 1.4 .6 1.6 .8 .9 .8-.6 .5-1.4 .5-.9-.4-1.5-.4-1.4-.5-1.6-1.2-1-.7 1.2-.8 .7zM322,47.1l1.6 1.8 .8 1.9 1.4 1.2 1.2 1.8 1.6-.7 1.5-1.5 .8-1.8 .5-1.6-1.2-1.7-1.5-1.7-2.1 .3-1.9-.1-2.2 0zM251.8,9.7l-.3 1.4 .7 1.8 .9 1.4 .5 2.1 1.1-.2 .6-1.4 .5-1.8 .5-1.5-.2-1.8-.6-1.6-1.3 0-1.3 .8zM246.2,121.7l.4 1.7 .5 1.5 .5 1.5 1.4 .7 1.2 0 1.2 0 1.3-.2 0-1.3-.8-1.5-.9-1.2-1.3-1.2-1.2-.5-1.3-.2zM226.4,34.3l-.5 1 0 1.3 .3 1.5-.1 1.5 .7 .9 1-.1 1.3 .4 1-.4-.5-1.5-.6-1.4-.7-1.4-.7-1.1zM289.4,86.9l-.4 1.5 .2 1.7-.2 1.8 .7 1.6 1.5 .7 1.6 .4 1.2-.7 .3-1.6 .2-1.7 .1-1.8-.4-1.4-1.6-.4-1.6-.3zM250.3,55.9l.5 1.8 .2 1.9 1.2 1.3 1.3 1.2 1.3-.7 .9-1.2 1-1.2 .5-1.4 .3-1.8-1.5-.9-1.6-.6-1.6-.1-1.2 .7zM227.3,53.2l.2 1.8 .4 1.8 .6 1.7 .6 1.8 1.4 .3 1.2-.4 .8-1.3 .6-1.3-.3-1.8-.5-1.9-.6-1.9-1.5 .8-1.3 .3zM316,106.4l-.6 1.5-.2 1.8 1.1 1.6 1.2 1.6 1.5 1.5 1.5 1.1 1-1.4 .8-1.6 .1-1.7-.5-1.7-1.1-1.6-1.4-1.3-1.7-.1zM261.3,95.6l.4 1.5 1 1.1 1.1 .9 1.2 .9 1.1-.5 .9-.7 .2-1.4-.6-1.1-1.1-.8-1.3-.4-1.3-.7-1.1 0zM271.7,131.5l-.1 1.7 .3 1.7 .6 1.6 1.6 .7 1.7 1.1 1.6 .4 1.8 .4-.8-2.1 .1-1.6-.6-1.8-.9-1.5-1.7 .2-1.7-.4z"/>
<path fill="#1272ba" d="M210.7,105.3l-1-.6-.3-1.3 .9-.4 1.1 .7-.2 1.1zM227.2,108.9l1.1 1.1 .8 1.5-1.2 .5-1.4-.7 0-1.5zM230.9,126.1l-.5-1.1 .4-.7 .8 .1 .5 .9-.4 .6zM260.6,154.5l-1.1-1 .3-1.2 1.2 .1 .7 1 .2 1.3zM207.8,51.9l-.7 .2-.5-.8 0-1 .8 0 .5 .7zM311.9,161.5l-1.1-1.1 .7-.9 .9-.1 .7 .8 .3 1.3z"/>
<path fill="#128a96" d="M224.3,58.6l-.9-.5-.3-1.1 .6-.7 .8 .6 .5 1zM310.2,159.8l-.6-1.2 .1-1.1 1.2 .2 1 1-.5 .9zM286.3,157.5l.4 1.2 .6 1.3 1.1 .2 1.2-.3 1.2-.5 1.3-.3 .9-.4 0-1.2-.7-1.4-1.5 0-1 .2-1 .5-1.3 .2zM247.3,118.3l.1-1.5 1.5 .2 1.3 1.3-.5 1.6-1.5-.3zM205.6,58.8l-.7 .6-.2 1.4 .1 1.5-.4 1.4 .4 1.2 1 .3 1.1-.4 1.1-.2 .1-1.2-.2-1.5-.3-1.4-.8-1.4z"/>
<path fill="#a2c62a" d="M326.6,160.3l.4 1.7 .8 1.5 .9 1.8 1.2 1.6 1.2 1.8 1.7-.6 1.3-.5-.4-1.8-.3-1.8-.4-1.7-.5-2-2 .2-2-.3zM209.4,145.7l2.2 .7 2.3 .4 .9-1.8-.8-2.1-.3-2.5 0-2.6-2.2-1.9-2.3-.9-.1 2.7 .7 2.2 2.1 1.6 .1 1.4-1.5 1.3zM211.7,21.5l-1.4 1.9 1.8 2.4 1.6 2.2 .7 2.6 1.8 1.9 2.3 1.5 2.3-.7 1.8-2 .7-2.5-2.2-2.2-2.5-1.9-2.2-1.5-2.3-.7zM233.9,98.3l-.2 1.4-.2 1.1-.5 1.3 .8 .8 1.1 .7 1.1 .5 .8-.2 .5-1 .2-1.1 .5-1.2-.6-1.4-1.2-.7-1.1-.3zM204.3,32.6l.5 2.1 .3 1.9 .9 1.6 .4 2.4 1.3 .5 .9-1.9 .9-1 1-1.2-.2-2-.2-2-1.5-1.1-1.5-.4-1.2 .9z"/>
<path fill="#1eae4e" d="M202.8,16l-2 .4-1 1.5-.3 2.5 .6 2.8 1.7-.1 1.5-1.3 1.7 .9 1.8 1.3 1.5-1.4 1.1-2-1.2-2.2-1.8-1.2-1.8-1.5zM256.7,108.8l-.5 1.5-.3 2 0 1.9-.1 2.1 2 .4 1.8 .8 2 .9 .5-1.4-.2-1.8-.1-2-.7-1.8-1.2-1.7-1.7-1.2zM306.3,156.3l-.2 1.7-.1 1.3-.3 1.5 .2 1.5 1.3 1.2 1.1-.8 1.1-1 1-.9 1.1-1 .9-1-1.4-1-1.5-.9-1.7-.7zM292.7,166.1l.4 1.5 1.4 1.4 1 1.3 1 1.8 1.5 .5 1.4-.4 .2-1.4-.4-1.6 .2-1.5-1.1-1.4-1.4-.8-1.5-.4-1 .9zM297.2,137l2.6 .6 2.1-.3 .8-2.3-2-2.3-2.7-1.8-2.2 .9-2.5 .1-2.6 0-.2 2.3 .6 2.7 1.9 .1 1.5-1.7 1.6-.8zM314.9,147.9l2.5-.3 2.5-.8 1.4-2.2 1.8-1.6 2.2-1.7 .9-2.3-3.1-1.2-2.2 .6-2 1.4-2.2 1.2-2.3 .3-2 1.3 .6 2.8zM240,120.7l-.4 1.1 .3 1.7 .8 1.2 1.5 .4 1.5 .6 1.5 .4 .9-.5-.5-1.7 0-1.6-1.1-1.3-1.6 .1-1.3-.1zM271.5,119.8l-.5 1 0 1.5 .7 1.4 1.3 1 1.3 .6 1.1 .7 .8-.4-.6-1.6-.7-1.5-.6-1.6-1.3-.7zM311.6,95.9l0 2 .3 2 .6 1.8 .7 1.9 1.8 .2 1.8-.2 1.9-.4 .3-2-.2-1.7-1.5-1.7-1.1-1.8-1.4-2-1.5 1.1zM281.9,114.8l.1 1.3 1.3 1.3 1.1 1.1 1 1.4 1.1-.3 .8-.8 .2-1.3 .2-1.5-.9-1.2-1.4-.5-1.4-.8-1.2 .5zM274.1,53.9l.7 1.8 1.2 1.7 1.3 1.2 1.8 .1 1.7 .3 1.7-.5-.3-2.1 .2-2.1-.6-1.9-1.8-.2-1.7 0-2-.4-1.3 .6zM269.5,66.5l-1 .9-.6 1.5-.6 1.4-.7 1.4-.5 1.5 1.1 1.3 1.4-.9 .9-.9 1-.8 1-.9 .9-1-.1-1.5-1.4-.8zM313.1,120.5l-.9 1.4-.2 1.8 .8 1.6 1.8 1.2 1.9 .4 1.7 .1 .9-1.6 1.1-1.4 .3-1.8-.2-1.6-1.6-.6-1.9 .3-1.9-.1zM317.5,80.9l.5 2.1 1.5 2.2 1.8 1.8 2.4 .2 2.5-.1 2.4-.7 0-2.5-.1-2.4-.1-2.3-2.1-.7-2.3-.6-2.2 1.1-1.9 1zM280.4,148.3l-.5 1 .3 1.7 .2 1.6 .4 1.4 .8 1.2 1.5 .8 1.5 .3 .1-1.4 0-1.6-.3-1.6-.1-1.4-.8-1.2-1.5-.2zM203.1,139.7l-.2 .9 .5 1.3 .9 .8 .9 .6 1.1 .3 1 .5 .5-.5-.4-1.3 0-1.1-.3-1.3-1.1-.2-1 .2-.9-.1zM299.1,60.8l-.5 1.3 .4 2 .4 1.8 1 1.5 1.7 .3 1.9 1.6 .7-1.5-.3-2-.2-1.7 .2-2.1-1-1.6-1.3-1-1.6 .5zM282.6,39.6l-2.2 .9-3.3 .5-.2 2.1 2.4 1.4 3.1 1.5 2.5 1.7 2.7 1.5 2.8 .3 .6-3.2-.4-2.8-1.8-1.9-2.4 1.5-2.1-.1zM224.5,27.5l1.6 .9 2.2-.7 2-.2 2.1-.6 .8-2.2 .5-2.7 0-2.8-1.8-1.4-2.1 .1-1.5 1.2-.1 2.7-1.6 1.7-1.5 1.5zM248.7,26.5l-.5 1.8 1 1.7 1.5 .4 1.6 .3 1.5 .4 1.7 .3-.2-2.3 .6-1.9-.1-1.8-1.1-1.5-1.6 .6-1.5 .6-1.3 .9zM224.8,79.1l0 1.3 .1 1.4 .2 1.4 .8 1.1 1 .8 1.1 .2 .9-.7 .8-.8-.9-1.2-1-1-1-1.2-1.1-1.1zM283.4,51.8l0 1.7 .4 1.5 0 1.8 1.3 .4 1.4 .5 .8-1.6 1.1-1 1.1-1.2 .2-1.3-1.2-.9-1.4-.8-1.4-.5-1.1 .5zM270,157.1l.3-2.4-2.4-2.3-2.5 .2-1.4 1.4-3-.7-2.4 .2 .1 2.5 .8 3.1 2.2 2.2 2.4-.6 2-1.2-.6-2.9 2 .1zM321.2,101.1l-.9 1.7 .4 1.8 1.4 1.8 2.3-.1 1.9-.3 2-.4 2.4-.4 .6-1.6-.7-2-1.9-1.2-2.1-.5-2.2-.8-2.2 .5zM272.9,29.8l-1.6-4.4-2-4.3-2.4 2.8-2.4 2.4 1.7 3.3 1.7 3.7 3.1 2.3 2.2 3.2 3.2-.6 4.3-.4 .2-4.2-2.4-1.4-4-.4zM259.2,39.4l-.9 .8 .3 1.9 .7 2.2 .3 1.9 .5 1.7 .6 2.2 1.4-.5 1.1-1.3 .9-1.6 .2-1.7-.6-1.8-1.7-1-1.4-1.6zM203.4,122.4l.4 1.7 1.1 1.9-.4 1.3 .2 1.5 1.2 2.1 1.3 1 1-.6 0-2 .3-1.5-.4-1.9-.4-1.8-1.2-1.8-1.4 .5zM218.2,16.3l-.3 2.3-.1 2.2 .6 1.7 1.4 1.4 1.4 1.4 1.7 1.7 .7-1.8 .4-1.8-.8-2.3-.4-2.1-.4-2.4-1.2-1.8-1.6 .3z"/>
<path fill="#12967e" d="M279.6,133.7l-1 .5 .8 2 .1 1.6 .5 1.8 1.8 .7 1.7 .8 1.4 .1 .8-1 .8-1.2-1.1-1.5-1.5-1.4-1.2-1.3-1.8-1.1zM213.9,75l-.4 1.1 0 1.3 1 .9 1 1 1 .7 1 .1 .3-1.2 .5-1-.8-1.4-.6-1.3-1-.6-.9 .4zM208,99.4l-.3 1.3 1 1.8 .7 1.6 1 1.2 1.4 0 1.4 .2 1.4 0-.2-1.9-.8-1.8-.6-1.8-1.2-1.4-1.4 .1-1.5 .1zM292.2,50.8l.9 1.1 1.6-.4 1.7-.4 1.8-.4 1.8-.6 .8-1.3-1.1-1.8-1.4-1.2-1.7 .3-1.8 .2-1.3 1.2-.3 1.7zM291.9,54.3l-1.3 0-1.1 1.2-1 1.5-1 1.5 1 1.6 1.6 .9 1.4-.2 1.4-.7 1.3-1.2-.4-1.6-.8-1.8zM300.2,81.6l-1.3 .8-.9 1.6-.8 1.6 1.2 1.2 1.7 .8 1.4 1.4 1.6 .7 1.5-.5 .1-1.9-.1-1.8-.7-1.7-.5-2-1.6-.5zM196.9,21.9l-1.2 1.5 .1 2.3 1.5 1.8 2.1 .8 2 1.5 1.8 .9 1.6-1 1.1-1.6-.7-2.7-1.5-2.2-1.8 .6-1.7 1.6-1.4-1zM234.4,82.1l-.3 1.3 .5 1.3 .7 1.5 1 .4 .7-1.3 .8-.6 .7-.9 .9-.8-.6-1.4-.8-1.2-1.2-.3-.9 .3-.8 .9zM196.4,39.2l.1 2.1 0 1.6 .2 1.8 .4 1.6 1 1.1 1.4-.1 1.3 0 1-.4-.4-1.6-.8-1.5-1-1.6-.9-1.6-.9-1.1zM232.1,142.9l-.8 1.9-.5 1.9 1.7 2 1.7 1.4 2.3 .9-.2-2.3-.9-2.4-.1-1.7 1.7-1 1.3-1.5-1.9-2.2-1.9 0-1.3 1.4zM323.6,23.5l.3 2 1.1 2.1 1 2 1.9 .2 2.1 .2 1.6-1.1 1.3-1.5-.1-2.3-.2-2.3-2.1-.8-1.9-.9-2.2-1.1-1.1 2.1zM247.8,134.3l-.6 1-.4 1.3-.5 1.2 .1 1.4 1.2 1.3 1.4 0 1.1-.5 1-.6 1.4-.3-.3-1.6-.7-1.5-.9-1.5-1.5-.5zM278.7,160.7l-.3 1.1 .3 1.3 1.4 .9 1.2 .4 1.4 .4 1-.6 .8-.9 .4-.9 .5-1.1-1.3-.3-1.5 0-1.2-.1-1.3 0zM204.1,114.4l.5 1.3 1 1.3 .8 1.3 1.1 .8 .9-.6 .9-.4-.6-1.5-.5-1.4-.8-1.3-1.2-.8-1-.1-1.1 0z"/>
<path fill="#d2ae36" d="M255.5,86l-1.4 2.3-1 2.8 1.9 1.9 2.4 1.1 2.9 .7 1.3-2 2.5 1.1 3.6 1.9 .4-2.5-1.9-3-2.3-1.7-2.8-.2-2.7-.7zM236.3,119.1l-.5 1-.2 1.5-.3 1.4-.4 1.3-.1 1.5 1.2 .7 1.3 .3 1.4-.2 .4-1.5 .2-1.3-.1-1.4-.3-1.6-1.2-1z"/>
<path fill="#4eba36" d="M260,59.5l-1.6 1-.8 2.2 1.7 1.8 1.5 1.6 1.2 1.9 0 1.8 2 1.7 1.3-1.4 .6-2.3 1.4-1.8-1.7-1.7-1.8-1.4-1.9-1.4zM246.5,86l.5 1.7 .4 1.8 1 1.4 1.5 1.1 1.3-.4 .9-1 .2-1.8 .7-1.5-.5-1.4-1.3-1.1-1.7-.9-1.4-.2-1 .9zM218.3,81.6l.4 1.5 .3 1.6 1.4 .1 1.1-.3 1.3-.1 .7-.9 .4-1.3-.1-1.7-.6-1.4-1.4 .1-1.2-.3-1.2 .2-.5 1.3zM209.3,9.3l-1.8 1-2.1 1.1-1.2 2.4 1.7 1.9 2.4 1.2 1.8 2.2 2.2 1.6 2.6 1.1 1.1-1.8 0-3-1.1-2-2.2-1.1-2-1.7zM292.7,167.5l-1.1 .4-.7 1-1.2 .8 .9 1.4 1.4 1.1 1.4 1.3 1.4 1 1.5 .4 .4-1.4-.7-1.6-1.3-1.4-1-1.4zM226.8,149.1l-.9 0-.7 .6-.5 .9-.9 .6-.3 .8 .8 .9 1.1 .9 1.2 .7 .8-.6 .7-.6 .6-.8-.1-1.1-.7-1.3zM254.7,38.3l-.5 2.1-1 1.6-.3 1.9 1.2 1.4 1.6 1.2 1.5 .7 1.7 1.4 .5-1.4-.5-2.1-.4-2.1-.4-2.2-.5-2.2-1.4-.9zM247.5,127.5l-1.3 .9-1.9 1 .4 2.2 2 1.3 2.2 .5 1.9 .7 1.8 0 1.9-.6 1.2-1.1-.9-2.1-1.3-1.8-2.3 .4-1.9 .1zM322.8,121.2l-1.1 1.1-.4 1.8 .6 1.8 .9 1.6 1.6 1.4 1.4 2 1.5 .4 1.2-1.2-.2-2 .4-1.8-.3-1.9-1.8-1.3-1.8-.6zM308.4,150.6l-.2 1.4-.2 1.5 .6 1.6 1.7 .7 1.7 .7 1.7 .5 1.1-1 1.2-1-1-1.8-.5-1.6-.9-1.7-1.9 .4-1.6 .2zM273.7,29.1l0 1.9 1.5 .5 1.7-.1 1.8 .5 1.3-.3-.2-1.6-1.2-1.5-1.1-1.6-1.4-.1-1.2 .9z"/>
<path fill="#72ba2a" d="M220.8,142.5l-1 .1-.9 .6-.7 .7-.9 .4-.4 .7 .9 1 .8 1.2 1.1 1.1 1 .2 .1-1.1 0-1.1 .1-1.1 .1-1.2zM217,87.4l.6 1.5 1 1.4 .9 1.5 1.1 1.4 1.1 1.6 1.4 .2 .5-1.4-.5-1.6-.8-1.4-1.1-1.4-1-1.9-1.1-1.2-1.3 .2zM306.3,104.3l-.1 2.8 .8 3 2.8 1.5 .8 2.3 .5 3.3 2.9 1.2 2.7-.9 1.4-1.5-1.8-2.2-2.3-2.5-.5-2.8-.9-3-2.9 0zM204.6,133.8l.8 2 1.1 1.7 1.3 1.8 .3 1.7 .5 2 1.1-.4 1.4-.5-.5-1.6-1.7-1.3-.4-1.5 .2-1.7-.7-1.9-1.5 .4zM221.4,63.9l1.4-1.9-.2-2.3-1.2-2.4-1.8-1.8-1.9 .3-.7 1.9-.4 2.4-1.7 1.5-1.1 1.8 1.1 2.3 2 1.2 1.8-.1 1.1-1.8zM226.8,42l-.3 1.5 1.1 1.8 .8 1.6 1.4 .8 1.4 1.1 1.7 .5 .6-1.6-.9-1.9-.5-1.9-1-1.6-1.4-.7-1.5 .3zM202.1,75.2l.9 .4 .7-1.5 .7-.9 .8-.9 .5-1.3-1.1-1.4-.6-1.9-1.1-1.1-1.1 .8-.5 1.3 .2 1.7 .3 1.5 .1 1.6zM201.7,64.3l.7-.4-.5-1.7-.2-1.3-.2-1.5-.4-1.5-.9-.2-.8 .9-.6 1 .3 1.2 .8 1.1 .9 1.1zM202.5,47.6l.3 2.2 .6 2.1 1.8 .7 1.6 .7 1.9 1 1.6 .6 .8-1.3-.9-2-1.3-1.8-1.1-1.9-1.3-1.6-1.4-.4-1.4 .7zM315.4,92.2l-.3 2 1.7 1.9 1.4 2 1.6 1.9 1.9-.6 1.3-1.6 0-2.1-.5-2.2 .2-2.5-.8-1.8-2-1-1.6 1.3-1.7 1.2zM261.4,126.7l-2-.8-1.1 1.4-.8 1.8-.2 1.6 1.3 2.1 1.2 2.1 1.6 1 2.1 .7 1.3-.6 .1-1.8 .1-2-1.7-1.3-.9-2.1zM298.5,103.5l.2 1.3 .3 1.4 .9 1.4 1.2 1.2 1.1 .8 1.2 .1 .9-1-.6-1.6 0-1.4-.5-1.3-.7-1.2-1.5-.1-1.3 .2zM218.7,48l0 1.4 .1 1.7 .5 1.7 .8 1.4 1.4 .7 .9-1.3 1-.7 1.1-1-.7-1.7-.9-1.3-1-1.3-1.1-1.1-1.1 .6zM196.7,80.8l.2 1.3 .7 1.2 .8 1.1 1 .7 1 .4 .6-.3 .1-1.3 .2-1.3 0-1.4-.8-.9-1-.2-1.1 0-1-.1zM289.4,161.4l.6 2.2 2.6 2.3 2.6-1 2.3 .2 2.4 1.5 2.7 .4 2.7-.7-.6-2.5-2.6-1.7-3-1-2.7-.6-2.3-.3-2.4 .6zM306.9,142l-.8 1.4-1.1 1-.5 1.3 1.3 1.4 1 1.7 1.6 .3 1.8 .2 1.5-.4 1.9-.1-1.4-1.9-1-1.5-.8-1.7-1.6-.8z"/>
<path fill="#36ba42" d="M225.6,49.7l-.1 1.5 1 1.2 1.2 .3 1.3-.3 1.1-.6 1.2-.5-.2-1.5-1-1-1.4-.6-1.2-.1-1 .7zM264.9,138.5l-1.8-1.5-2.3-.5-.4 2.2 0 2-1.1 1.4-.9 1.5 1.7 1.6 1.9 1.5 1.6 .6 1-1.6 1.1-1.3-.8-1.7 .2-2.2zM195.8,99.6l.8 1.3 .8 1.2 .9 .8 1 .5 1.2 .9 .7-.8-.1-1.3-.7-1.4-.3-1.5-.8-1.2-1 .1-1 .3-.8 .4zM264.3,82l-.6 1.7-.4 1.7-.1 1.6 1.3 1.2 1.6 1 1.6 .3 .6-1.7 1-1.3 .3-1.7 .9-1.7-1-1.6-2 .1-1.6 0zM231.5,152.5l.5 1.4 .7 1.5 1.6 .9 1.5 .8 1.4 .4 .5-1 .3-1.3 .3-1.3-1.1-1.5-1.2-1-1.4-.2-1.4-.3-.8 .9zM205.7,98.3l-.9 .3-.3 1.4-.1 1.4-.3 1.1 .5 1.1 1.1 .7 1.2 .5 1.2 .7 1.2 0-.5-1.6-.9-1.6-.6-1.4-.6-1.4zM294.1,105.5l-.1 1.5 .3 1.6 .3 1.6 .4 1.5 .7 1.7 1.3-.1 .3-1.4 .3-1.3 .3-1.6 .1-1.4-.4-1.8-.8-1.9-1.5 .5zM306.6,62.9l-.8 1.3 .3 1.9 .2 1.7 .1 1.9 1.5 .7 1.8-.4 1.7 0 1.1-1.2-.1-1.9-.6-1.4-1.8-.7-1.6-.7z"/>
<path fill="#1eae5a" d="M323.6,13.5l1.3 2.6 .9 2.5 2.3 1.3 2.4 1.3 2.5 .4 1.7-2.1 .9-2.6 1.3-2.2-2.2-1.6-1.8-1.8-2.3-1.2-2.8 .5-2.4 .8zM278.5,156.3l-.8 1-.1 1.2 .8 1.3 1.4 .2 1.3 .3 1.3-.1 1.6 .2 1.5-.1-.7-1.5-.7-1.4-1.6-.7-1.5-.6-1.5-.3zM228.1,101.6l-1.4 1.1-1.4 1.7 1.7 2.3 1.8 1.9 2.2-.2 2.2 1.1 2.2 .5 1.5-.2 .2-2.2-.8-2.3-2.4-1.2-2.2-.4-1.8-.6zM283.3,165.1l.9 1.7 1.2 1.6 1 1.6 1.6 .2 1.3-.6 .7-1.3 1.1-1.1 0-1.4-1.4-1.6-1.6-1.5-1.6-.8-.9 1.2-1 1.1zM234.2,25.4l0 2 1 1.8 1.4 .4 1.5-.5 1.4-.9 .9-1.3 .7-1.8-.2-1.7-1.3-.9-1.8-.5-1.7-.8-1.1 .8-.5 1.6zM253.5,149.4l.2 1.3 1.3 1 1.4 .9 1.1 .2 1.2-.2-.2-1.5-.3-1.4-.4-1.3-.6-1.1-.9 .2-.9 .6-.9 .7zM295.7,95.8l.2 1.5 .9 1.7 .9 1.7 1.6 .3 1.7 .5 1.7-.1 .5-1.4-.2-1.8 .2-1.8-1.5-.8-1.6-.4-1.8-.2-1.5 .1zM232.1,41l-.1 1.5 .8 1.5 .6 1.7 1.2 .4 1.1-.7 1-.9 .2-1.5 0-1.5 0-1.7-.5-1.4-1.1 0-1.2 .9-1.1 .8zM225.1,77.5l1.2 1.5 1.4 1.2 1.2 1.6 1.2 .8 1.5 .6 1.3-.4-.3-1.8-1.3-1.6-1-1.6-1.1-1.4-1.1-1.4-1.5-.2-1.1 1zM285.4,36l-.8 2.2 .3 2.6 1.8 2 2.2-1.4 2.2-1 1 2.4 2.3 1.7 2.9-.5-.9-2.8-1.9-2.2-2.1-1.5-2.1 .6-2.4-1zM304,57.4l.2 2.2 1.5 2 2.2 1.1 2.2 1.1 2 .8 1.9-.3 1.1-2-.5-2.3-1.5-1.7-2.2-1.7-2.1-1.6-1.9-.8-1.7 1.3zM303.7,14l-2.5 1.7 1.6 3.9 1.3 3.1 .5 3.1 .2 3.8 1.2 2.8 3-.4 2.7-1.2 .1-3.2 .5-3.4 0-3.8-2.9-1.7-2.8-2.7zM202.9,53.2l.8 1.7 .9 1.5 1 1.2 1.3 .6 1.2 .3 .8-.9 1-.8 .4-1.2-1.4-.7-1.1-.6-1.3-.5-1.4-.7-1.3-.6zM197.9,37.5l1.4-.2 1.4 0 1.9 1.3 1.2 .5 .6-1.2-.2-1.9-1.1-2.4-1.4-1.6-1.4-1.6-1.5-.1-1.3 1-1.1 1.6 .8 2.4zM286,86.8l-1.1 .6-.7 1-.7 1.1 .6 1 1.5 .6 1.4 .7 1.1-.3-.3-1.6 0-1.4-.4-1.4zM275,43.1l-1.2 1.5-.3 2.3 .1 2.3 .6 2.3 2.3-.1 2.2 0 2.1-.1 1.5-.8 2.4-1.4-1.3-1.9-2.2-1.1-2.1-1-2.1-1.3zM325.9,162.3l-1.2-.2-.6 1.2-.6 .9-.8 1 .9 1 1.4 .8 1.3 .7 1.6 1.2 1-.4 .2-1-.6-1.3-.9-1.3-.8-1.5zM252.3,135.6l.5 2 .7 1.9 1.7 1.4 1.7 1.6 1.5-.5 1-1.1 .4-1.6 .5-1.8-1.1-1.7-.8-2.1-1.5-.1-1.5 .7-1.3 .8zM218.9,34.9l.3 2.2 .4 2.2 1 2.3 1.4 1.4 1.8-.8 1.7-.4 0-2.3-.2-2.3-.2-2.3-.3-2.1-1.4-1.5-1.5 1.8-1.5 .7z"/>
<path fill="#1ea266" d="M323.7,89l-.7 2 .1 2.6 .6 2.4 .4 2.7 2.7 .7 2.6-.2 1.7-1 .7-2.2 .6-2.5-.6-2.5-1-2.4-2.4-.6-2.6 0zM195.2,56.6l.4 1.1 1 .7 1.1 .5 .9-.7 .6-.9 .6-.9 .2-1-.6-.8-1.3-.1-1.1-.5-.6 .9-.6 .8zM216.3,96.5l-.9 .4-.6 .9-.6 .9 .2 1.3 .5 1.3 .6 1.3 .9-.5 1-.4 1-.6 .6-.7 .1-1.3-.5-1.3-1.2-.7zM198.1,91.5l.5 1.5 .6 1.6 .6 1.8 1.3 .4 1.3-.2 1.2-.2 .6-.9-.2-1.6-.3-1.6-.8-1.6-1.2 0-1.2 0-1.1 .5zM209.1,107.3l.5 1.8 .3 1.8 1.3 1.2 1.3 1.1 1.3 .2 .9-.8 .4-1.3 0-1.6 .2-1.6-1-1.6-1.5 0-1.4 0-1.6-.5zM228.5,127l-.4 .7 .7 1.5 .3 1.3 .6 1.3 .9 1 1.1-.2 1.2 .1 1-.5 .1-1.4-.6-1.3-1.5-.5-1.1-.6-1.2-.9zM247.3,69.4l-.5 1-.1 1.5 .2 1.5-.1 1.7 1.1 .3 1.1-.3 1.2-.3 1.2-.6 .9-.9 .2-1.5-1.1-1-1.5-.3-1.3-.6zM246.4,146.8l.3 1.3 .2 1.3 .3 1.4 1 1.1 1.1-.1 .9-.7 .8-.7 .6-.6-.3-1.3-.7-1.3-1.1-1.1-1.1-.3-1 .5zM310.3,48.6l-.7 2.4-1.7 2.1 2 1.7 1.9 1.5 2 2.1 1.7-1.2 1.3-1.6 .8-2.6 .7-2.3 .8-2.2-1.4-1.2-2.4 .1-2.5 .6zM291,62.6l-1.2 1.8 .3 2.1 1.8 1.4 1.6 1.5 1.8 .4 1.5-1.5 1.2-1.3-.2-2-.4-2.1 0-2.4-1.6-1.6-1.8 1.5-1.5 1.1zM232.4,52l.4 1.7 .4 1.7 .4 1.7 1.3 .7 1.3-.2 1.7 .7 .1-1.8 .3-1.6-.7-1.5-1.1-1.2-1.3-1-1.2-1-1.1 .4zM287.7,145.6l-.8 .8-.3 1.3 .1 1.3 1.7 .8 1.3 .8 1.4 1.2 1.1-.4 .8-1 .9-.8 .1-1.1-1.8-.7-1.5-.6-1.5-1zM275.4,97.3l-.9 .9 .9 2.1 .4 1.7 .1 2.2 1.6 .7 1.7-.2 1.3-1.1 .8-1.5 1.2-1.4 0-1.6-1.8-.7-1.9-.6-1.8-.2zM229.3,121.4l-.8 .7-.4 1.2 0 1.5 .4 1.1 1.5 .6 1.2 .9 1.2 .5 1.6 1 .4-1.2-.6-1.7-.7-1.2-1.4-1-1.1-1zM247.7,153.2l-.9 .8-.5 1.1-.8 .8-.3 1.1 .9 1.4 1.2 .5 1.2 .5 1.4 .1 1.4 0 0-1.1-.4-1.2-1.1-1.4-.9-1.2zM296.4,87.3l-.6 1.3 .1 1.8-.6 1.6 .5 1.6 2 0 1.6 .2 1.7 .3 1.9 .2 .9-1.3-1.3-1.7-1.2-1-1.7-.8-1.5-.8zM242,8l.1 1.8 .4 2 .7 2 .5 1.8 .8 1.8 1.4-.9 .8-1.3 .5-1.7 .2-2 0-1.8-1.2-1.3-1.5-1.3-1.6-.4zM266.6,35.8l-.5 1.5-.1 1.7-.6 1.7 0 1.3 0 2 1.3-1.2 1-1 1.1-1 1-1.1 .8-1.2-.5-1.4-.8-1.4-1.4-.7zM195.5,73l.2 1.3 .7 1.6 .7 1.4 .9 1.1 1.1-.1 1.3 .4 .8-.4-.1-1.4-.9-1.1-.9-1.1-1.1-1.1-1.2-1.2-1.1-.6zM214.7,126.6l-.6 .5-.1 1.2-.5 .9 .4 1.2 .9 1.1 1 .3 1 0 .9-.2 .6-.5 0-1-.5-1.2-1.1-.8-1-.9z"/>
<path fill="#66ba2a" d="M338.4,65l-1.4-2.5-2-1.8-2.7-.3-1.9 1.1-.9 1.9 2 1.9-.6 2.5-.5 2.3 .4 2 2 .2 2-.6 2-1.7 .3-2.6zM325.5,20.1l-1.9-2.9-2.9-2-3.6 1.5-2.2 2.6 2.2 2.1 3.1 2.6-1.1 4-1 3.4 1 3.5 3.1-2.1 3.3-1.8-1.5-4.1-1.3-3.4zM269.9,19.8l.5 1.8 .7 1.7 .8 1.4 .7 1.6 1.2 .5 1-1.2 .6-1.6 .2-1.5-.6-1.9-.5-1.6-.8-1.7-1.6 .5-1.5 .3zM283.7,67.8l.1 1.7 .8 1.8 1.1 1.3 1.3-.6 1.2-1.2 1-1.3 1.2-1.3-1.2-1.5-1.5-.4-1.6 .1-1.8-.1zM208.2,41.6l.9 1.4 .9 1 1.5 .9 1.2 .6 1.6 1 .8-1-.7-1.9-.5-1.6-.7-1.5-1-1.3-1.2-.6-.9 1-.9 1z"/>
<path fill="#42ba36" d="M227.4,142l-.6 .7-.3 1-.3 1 .5 1.2 1 .1 .9 .1 1.1-.1 .5-.9 .4-.9 .7-1-.9-1.1-1-.9-1.1 .4zM201.2,129.2l.2 1.2 1.1 1.1 .9 .7 1.1 .1 1.1 .2 .2-.9-.9-1.2-.8-1.4-1-.3-1 .1zM186.5,31.6l-.3 1.3 .9 .9 1 .9 1 .5 1 .3 .2-1.2 .1-1.4 0-1.3-.5-1.5-.8-1-.9 0-1 .1-.4 1.2zM287.6,25.9l-1.3 1.6-1.1 2.1-.7 1.9 .2 2 2.1 .6 1.7 1.2 1.9 .3 1.9-.5 .8-2.1-.1-2.1-.6-2.2-1.2-1.9-1.8-1.4zM314.5,158.1l.9 1.9 .9 1.7 1 1.9 2.1 .9 1.7 .1 .7-1.6 1.2-1.1 1-1.4-.6-1.7-2-1.2-1.9-.5-2.1-1-1.4 1zM238.3,59.4l-2 .2-2.3-1.3-1.3 1.6-.1 2.3 1 2.1 .8 2.3 .5 2.2 1.8 .7 1.8-.2 .7-1.7 .5-2 .9-2-1.1-1.7z"/>
<path fill="#2aae42" d="M260.5,50.5l-3.3-2.4-3.1-2.2-3.2-.4 .3 3.6 2 3.9 3.7 1.3 1.9 2.5 2.7 2.2 3.3 3.6 2.5-.4-.4-4.7-.7-2.9-2.4-2.4zM283.4,125.6l-1.9-1.9-2.1-1-2.3-1.9-1.7 .8 1.2 2.7 1.3 2.4 .7 2.2-.4 2.3 2.2 .8 2.2 .7 1.7-1.1 1.7-1.4-1.6-2.4zM223.6,86.8l-2.1-.3-.3 1.5 1.6 2.3 1.5 2.1 .6 2.1 1.6 1.9 2.1 .5 1.7-.4 1.1-.9-1.9-2.3-1.4-2-1.6-.6-1.5-2.2zM274.6,95.4l1.1 1.4 1.9 .3 1.8 .4 2.1 .9 .7-1.2-.6-1.9-.3-2-.6-2.1-1.6-1.3-1.8-.8-1.3 1.1-.5 1.8-.6 1.7zM206.5,81.1l-.2 1.1 .8 1.5 .6 1.4 1.1 .3 1.2 .2 1.2 0 .9-.2-.2-1.1-.5-1.2-1-1.2-.8-1.3-1.1 0-1.1 0zM225.3,29.4l-.3 1.8 1.9 1.2 1.3 1 1.7 0 1.7-.1 1.4-.3 1.4-.7-.5-2-.6-2-1.8 0-1.4-.1-1.5 .6-1.6 .3zM303.6,111.9l-.5 1.5-1 1.5-.4 1.6 2 .3 1.7 0 1.7 .4 1.7 0 .6-1.3 .5-1.7-.1-1.7-1.9-.9-1.6-1.2-1.7 .2zM210.7,112.9l-1.7 .3 0 1.7 1.2 2 .9 1.7 1.9 1 1.7 .9 1.6-.1 1.2-.7 .1-1.8-.8-1.7-1.4-1.7-1.6 .3-1.5-.6zM261.4,14.6l-.6 2.4-.2 2.5-.1 2.3 .6 2.3 2.1-.1 1.6-1.3 1.8-1.2 1.6-1.5 1.3-1.9-.7-2.2-1.6-1.9-1.9-1-1.9 1zM215.2,41l0 1.4 .4 1.5 .5 1.4 1.1 .9 1.1-.2 .8-.9 .6-.8 .4-1.2-.3-1.4-.8-1.3-.8-1.1-1 .6-.9 .8zM273.5,96.6l.6-2.2 .7-2.5-2.1-.7-2.4 .2-1.6 1.3 .7 2.5-.6 2.2-.2 2.4 2.1 1.7 2.1 1.5 2 .8 0-2.1-.7-2.7zM222.9,128.6l1.1 1.7 1.2 1.6 1.1 1.2 1.3 1 1.5-.1 .3-1.3-.9-1.9-.7-1.7-.6-1.6-.9-1.7-1.5-.3-1.1 .6-.9 .8zM260.9,125.3l1.4-1.6 .5-2.2-1.2-2.2-2.2-1.3-2.5-.1-.9 1.3 0 2.4-1.7 1.3-.8 1.8 1 2.3 1.7 2 1.3-1.3 1.2-2.3zM264.4,102.2l-1.7-1.3-1.8-.9-1.3 1-1.6 .9-1.2 1.2 .5 2 1.2 1.6 1.9 .9 1.6 .8 2.1 .5 1.3-.6 0-1.8-.4-2.1zM294,52.8l-.3 1.8 1.5 1.8 .9 2.1 2.2 0 1.9-.6 2.1-.5 1-1.6 1.5-1.8-1-2-2.2-1.2-2 .3-1.9 .8-2.4 0zM313.6,171l-.9 .6-.5 1.1-.3 1.1 .1 1.1 1.1 1.1 1.3 .5 1.4 .2 1.5 0-.1-1.4-.6-1.3-.4-1.2-1.3-.8zM223.8,15.6l-.4 1.3 .5 1.8 .4 1.8 .4 1.7 .9 1.1 1.1-1 .7-1.2 .1-1.5-.1-1.6-.9-1.2-1.3-.8zM224.2,60.5l-.7 1.4-.6 1.4 0 1.5 1.2 1.2 1.3 1.4 1.2 1 1.4 .6-.5-2.3 .1-1.5-.1-1.8-.4-1.7-1.4-.4zM276.2,68.6l-.1 1.5 1.8 1.8 1.3 1.6 1.2 1.7 1.4 1.6 1.4 0 1.7-.6-.4-2.2-.5-1.9-1-1.8-1.2-1.3-1.7-.2-2.1-.3zM304.4,134l.4 2.2-.1 2 1.3 1.9 1.7 1.2 2.1 1 1.7-.9 1.5-1 .1-1.7-.7-2-1.1-1.9-1-2.3-2 .4-1.7 .8zM202.1,137.9l.8 .7 .9 0 .9 0 1.1 .3 .1-.9-.6-1-.7-1.1-.7-1-.9-.9-.3 .8-.1 1.2-.1 .9zM316.6,163.9l-1.2 1-1.2 .8-1 1.2-1.1 1.2 1.3 1.6 1.7 1.1 1.8 1.3 1.7-.4 1.5-.5 0-1.7-.2-1.7 0-1.6-1.7-.9zM198.3,86.1l-.7 .4-.2 1.1-.3 .9-.1 1 .4 1.1 1-.2 .8-.1 .8-.3 .7-.3 .7-.4-.3-1.2-.9-.8-.9-.6zM288.3,143.7l-.2 1.1 1.2 .7 2 .8 1.5 .9 1.7 .8 1.7 .6 .8-1.2 0-1.6-.6-1.5-1.9-.3-1.6 .1-1.6-.2-2-.3z"/>
<path fill="#c6ba2a" d="M221.1,142.5l2 1.3 1.8-.4 .1-2.2-1.7-2-2.2-1.5-1 1.7-1.9-.5-2.1-1.3-.9 1.4-.7 2.3 1 2.6 2.3-.6 1.4-.7zM320.3,36.1l-.1 2.9 .8 3.2 2.3 1.5 3.1-.4 2.6-.8 2-1.9 2.5-2-.6-3.2-.8-2.9-1.9-1.4-2.7 .1-2.7 1.1-2 2.2zM314.2,159.6l-1.7 .4-1.1 .9-1.1 1.1-1.3 .9-1.2 1-.3 1.5 1.7 1.2 1.9 .6 1.3-.2 1-1.2 .9-1.2 .9-1.2-.5-1.6zM325.3,136.7l1.7-2.6-2.5-2.8-2.1-3.2-2.9-1.6-1.5 2.7 .7 3-2.6 .7-3.7 0 .4 2.6 1.4 3.2 2.8 1.7 2.5-2.1 2.4-1.7zM280.2,114.7l2-1.7 1.3-3.3-1.9-3.3-3.3-1.4-3 1.1-1.1 2.7-3 1-2 1.8 .7 3.6 1.1 3.2 3.1 1 2.7-.5 1.2-2.8zM245,62.8l-.5 1.8 1.4 2.1 1.3 1.4 1.9 .5 1.8 .7 2.3 1.2 0-2.4 .1-2.2-.1-2.2-1.3-1.7-1.8-.9-1.9 .6-1.8 .4z"/>
<path fill="#8ac62a" d="M247.5,35.9l-.3 1.5 .3 1.5 .9 1.8 .4 2 .7 1.8 1.3 0 1.2-1 .3-1.8 .8-1.5 .1-1.5-1.1-.9-1.5-.4-1.6-.9zM247.6,144.6l.4-2.3-1.9-1.4-1.9-1.4-1.7 .5-.5 1.6-.2 1.9-.2 1.8 .4 1.9 1.4 1.8 2 1.1 .5-1.3-.7-2.5 1.2-.9zM228.3,70.7l-2.7-2.7-2.7-2.6-2.5 1.2 .6 3.1 2.3 2.6 2.6 2.2 2.4-.3 2.2 3.1 2.3 3.2 2.4-1.7-.6-3.7-.5-3.8-2.9-.2zM228,109.3l-1.3-1.6-1.3-1.3-1.7-.7-.5 1.6-.6 1.6 1 1.7 .7 2 1.4 1.8 1.3 1.5 1.4 .7 .6-1.8-.7-1.8-1-2zM313.5,71.7l.2 1.6 .5 1.8 .9 1.5 .5 1.7 1.2 1 1.4-1 1.4-.7 1.6-.7-.6-1.5-.9-1.5-1.1-1.6-1.8-.1-1.8-.7zM239,142.8l-1 .4-1 .6-.8 .6-.8 .5 .4 1.2 .7 1.3 1.3-.4 1.1 .1 1.1-.2 .4-1.1 0-1.3-.4-1.1zM315.3,66.2l-.5 1.6 .2 1.5 1.2 .8 1.9 .1 1.6-.2 1.4-.8 1.8-.7-.1-1.7-1.4-1.2-1.4-1.1-1.7-.7-1.8-.9-.7 1.8zM298.5,139l-.3 1.5-1 1.3-.3 1.7 1.5 1.2 1.4 .6 1.7-.3 1.6-.1 .8-1.4 .8-1.3 .4-1.5-1.1-1.6-1.9 .1-1.7-.1z"/>
<path fill="#66ba36" d="M234.6,133.8l.2 1.6 .7 1.8 .1 1.5 1.2 1.4 1.3 1.1 1.4 .9 1.3-.1 .1-1.5 0-1.5-.8-1.2-1.4-1-1.2-1-1.3-1.1zM244,24.5l-1.4 1.8-.2 2.9 1.2 2.5 2 2.6 2.6 .7 3 1.7 2.8 .9 1.1-2.5-.8-2.9-2.7-.8-2.6-.8-1.2-2.3-1.9-2.9zM265.8,45l1 1.2 1.7 .4 1.5 1 1.8 .2 1.1-1 .3-1.9 .5-1.9-.1-2.2-1.6-1.1-1.3 .1-1.3 1-.9 1.7-1.2 1.2z"/>
<path fill="#1ea25a" d="M214.3,47.6l-.5 1.6-.6 1.3-.7 1.3 .2 1.4 1 .8 1.2 .7 1.3 .1 1.3-.3 .7-1.2-.5-1.7-.2-1.7-.6-1.4-1.2-1.3zM304.9,95.7l-.3 1.5 .2 1.8 .3 1.5 1 1.1 1.7 .1 1.7 .6 1.7 0-.4-1.8-.4-1.7 0-1.7-1.1-1.3-1.7-.5-1.6-.4zM218.1,68.9l-.2 1.8 0 1.9-.2 1.6 .7 2 1.1 1.5 1.5-.4 1.6 .4 1.1-.7 .4-1.5-.7-1.6-1.1-1.4-1.4-1.2-1.2-1.2zM263.1,111.1l-.1 1.5 .5 1.8 .2 1.6 .4 1.8 1.6 .3 1.6-.3 1.9 .6-.1-1.7 .1-1.6-.5-1.8-.6-1.9-1.8-.1-1.6-.2zM201.4,116.6l.1 1.3 .5 1.4 .5 1.4 1 .6 1-.2 .9-.2 .9-.3 .2-1.2-.9-1.2-.8-1.2-.8-1.2-.9-.3-.7 .7zM309.6,34.8l-.6 2.4 1 3.2-.1 3.1 .5 3.2 2.7 .6 2.9-1.1 2.5-.8 2.7-1.2-.6-3.2-1.4-2.9-1.4-2.6-2.8-1.5-2.9-.3z"/>
<path fill="#12a27e" d="M316.1,149.9l0 1.6 .9 1.7 .5 1.9 2.1 .2 1.9 .9 1.2-.7 .6-1.6 .4-1.5 .7-1.6-2.1-1-1.6-1.1-1.5 .2-1.6 .3zM261.7,125.3l.4 1.7 .7 1.7 .9 1.8 1.7 .7 1.5-.2 1.8 .1 1.1-.7-.5-1.7-1.1-1.4-1.7-1.2-1.4-1.2-1.5-1.6-1 .9zM284,100.8l-1 .6-.8 1.2-.5 1.2-.4 1.3 .9 1.4 1.4 1 1.5-.2 1.6 .2 .5-1.4 .5-1.2 .2-1.4-1.3-1.1-1.1-1.5zM239.2,69.9l1.3 .5 1.1-.6 1.2-.4 1.2-.9 1.5-.5-.5-1.7-.8-1.5-.7-1.7-1.4-.4-.9 .8-.4 1.6-.6 1.5-.3 1.5zM229.9,9.4l-.9 1.4-.8 1.3-.8 1.4-.8 1.8 1.5 1.1 1.4 .3 1.5 0 1.3-.5 .9-1.3 .3-1.7 .3-1.7-1-1.1-1.4-.5zM238.3,38.2l0 2.1-.4 1.7 .2 2 1.1 1.5 1.5 1 1.5 .9 1.7 .7 .8-1.7-.1-1.8-1-2-.9-1.8-.9-2-1.7-.3z"/>
<path fill="#7ec62a" d="M268.9,89.1l1.9 1.3 3.3-.5 2.6-1.5 2.8 1 2.3-1.1 2.1-2.2-.7-3-.9-3.6-3.2 1.2-2.8 1.1-2.3 1.4-2.9 .3-.5 2.8zM227,97.4l-.1 1.3 .6 1.6 .7 1.3 1.4 .8 1.1 1 1.1-.1 .3-1.4 .3-1.3 .4-1.4-.4-1.4-1.3-.2-1.4-.1-1.3 .1zM219.9,124.4l-.6 .6-.5 .8-.4 .9-.4 1 .8 1.1 .9 .6 .9-.5 .8-.2 .9-.3 .1-1.1-.5-1.1-.9-1zM294.1,72.4l-2-2.4-2.2 1-2 1.8-.8 2.5 1.7 1.6 1.3 2.5 1.6 2.6 1.5 2.4 2.2 0 1.4-2.2 1.4-2.4-2.2-2.5-1.6-2.6zM235.3,126.9l-.5 1.4-.2 1.6 1.8 .7 1.2 .6 1.6 .4 1.5 .5 1.3 .1 .8-.9 0-1.6-1.8-1.1-1.2-1.3-1.5-.4-1.4 .1zM244.6,114.4l.4 1.7 .3 2 1.3 1.4 1.6-.2 1.3-.4 1-1.2 .9-1.1 1-1.2-1.4-1.5-1.6-1.4-1.6-1.1-1.2 .9-1.2 1zM283.5,108.1l0 1.8 .3 1.8 1.1 1.5 1.9 .7 1.7 .5 1.4-1-.3-1.7-1.3-1.7-1-1.7-1.7 .2zM267.5,75.3l.2 2.2 .8 2.1 1.2 1.5 1.9 1.4 2.2 .8 1.3-1.6-.3-2.3-.7-2.3-.2-2.4-.5-2.1-1.4-.6-1.5 .5-1.2 1.9zM218.5,109l0 1 .4 1.2 .7 1.4 .8 1.2 .7 1.5 .8-.6 .4-1.1 .5-.9 .1-1.4-1.1-1-1-.8-1.3-.5z"/>
<path fill="#aec62a" d="M205.3,96.6l.8 1.1 1.1 .7 .9-.4 .9-.1 1.2 0 0-1-.5-1.2-1.2-.6-.9-.1-1-.2-1.1-.4-.2 1zM204.4,98.2l-.6-.9-1 .1-.9 .2-.8 .1-.5 .6 .5 1.2 .4 1.1 .3 1.3 .8 .7 .7-.3 .2-1.1 .3-1 .2-1zM273.1,158.5l-1 1.5-.2 2.3 .6 1.6 1.2 2.1 .7 2.2 1.7 1.3 2.2 .5 1.1-.8-.3-2.2-.2-2.2-1.4-1.9-.4-2.4-1.7-1.9zM270.4,120.6l-2.2-.2-2.9-.7-1.9 .9 1.5 3 1.7 2 2.4 2 1.4 2.8 2.7 .7 2.7 .1 1.3-1.8-2.1-2.5-2.1-1.6-2.4-1.8zM208.6,129.3l0 1.7 .1 1.7 .9 1.5 1.3 1 1.5 1.2 1.4 .5 1-.6 .1-1.3 0-1.6-.8-1.6-.9-1.8-1.5 0-1.6-.7zM210.9,91.6l-.5 .9 .1 1.3 .2 1.2 .6 1.3 .9 .8 .8 .3 .5-1.1 .6-.7 .7-.8-.3-1.3-.7-1.2-.8-.8-1.1 .2z"/>
<path fill="#36ba36" d="M219.9,130.4l-.1 1.2 .6 1.3 .7 1.2 .8 1.4 .9-.5 .9-.5 .9-.4 1-.5-1-1.2-.6-1.4-1-1-1 0-1.1 .2zM292.9,153.3l.4 1.7 1.1 1.6 1 1.6 1.5 1.5 1.3-.8 .5-1.4 .2-1.6 .7-1.5-.5-1.5-1.3-1.4-1.5-1.4-1 1.6-1.2 .7zM211.9,56.6l.1 1.3 .6 1.5 .5 1.3 .9 .6 .8-.5 .7-1 .9-.7-.2-1.4-.5-1.3-1.1-.6-1.2-.2-1.1 0zM195,58.8l-.5 .9 .8 2 .5 1.7 .3 1.8 1 1.3 1.4 .2 1.3-.1 .9-.8 .1-1.2-.8-1.4-1.3-1.4-1.1-1.5-1.2-.6zM317.9,172.4l-.2 1.9 .8 2.2 .8 2 1.6 2 2 .3 2-.6 1.8-.8 2.4-.5-.7-2.2-1.3-2-2.5-1.1-2.4-1.2-2.3-.5zM227.8,61.1l0 2.2 .1 2.1 .2 2.1 .1 2.4 1.3 1.3 1.8-.1 1.5-.8 1.8-.2-.4-2.3-.9-2.1-.8-2.2-1.2-1.7-1.9-1.3z"/>
<path fill="#1ea272" d="M228.3,110.9l.5 1.3 .6 1.3 .6 1.2 1 .6 1 0 .2-1-.1-1.3-.1-1.2 .2-1.3-.6-1-1-.1-1.2-.3-.5 .9zM306.9,89.9l-1.1 1.1-.5 1.6 1.3 1.1 1.7 .8 1.7 .3 1.7-.1 1.3-1 .6-1.5-1.5-1.2-1.7-1-1.8-.4zM203.9,90.4l.3 1.3 .6 1.3 .9 .6 1.2 .4 1.1-.1 1.3 .4 0-1.3 .2-1.3-.5-1.2-1-1-1.1-.1-.9 .4-1.1 .2zM313.1,126.8l-1 .6-.2 1.5-.7 1.3-.1 1.3 1.2 .8 1.7-.1 1.5-.1 1.7 .1 .3-1.3-.7-1.5-.7-1.3-1.6-.5zM278.7,25.1l-.3 1.4 1.1 1.6 1.2 1.6 1.2 1.2 1.1-.9 1-1.4 1-1.6 .6-1.9-1.7-.3-1.9 0-1.8 .1zM249,103l-.8 1.3-.1 1.6-.6 1.7 1.6 .7 1.3 0 1.4-.3 1.4-.3 1.6-.1 .7-.9-.6-1.6-1.3-1-1.5-.2-1.5-.6zM196.4,68.8l-.1 1.2 .9 1.1 .8 .9 .9 1 .9 .7 1.1 .7-.1-1.3-.2-1.5-.3-1.4 0-1.5-1-.5-1.1-.2-.9 .3zM255.1,72.1l0 2.4 .3 2.4 1.8 1.7 2.2 .4 2.3 .5 1.8 1 2.1-.3 1.5-1.4-1.3-2.7-1.2-2.1-2.5-.7-2-.1-2.6-.9zM228.5,89.1l1.2 .5 1.3 .1 1.3 0 1.3 .1 1.5 0-.2-1.4-1-1.5-.6-1.5-1.3-.5-1.3-.2-.9 .9-1.1 .7-.4 1.2z"/>
<path fill="#baba2a" d="M299.8,68.7l-2.9 1.6-.6 3 1.2 3 2.5 2.5 2.9 .5 3 .8 4 1.3 2.9-.8 .4-2.9-1.3-3.5-1.7-2.8-3.9 .4-3.2-1.4zM223.2,136.3l1.2 1.9 1.8 2 2.1 .6 2-.1 1.8 .6 1.3-1.5 1.1-1.6-.8-2.6-.9-2.2-2.4 .3-2 .7-1.9 .3-2.3 .5zM294.1,25.1l.2 1.8 1.3 1.8 1.1 1.6 1.8 .1 1.8 .3 1.9 .4 1.1-1.2-.4-2.3-.3-2-.7-1.7-1.9 .2-1.8 .6-2.1 0zM253.3,151.4l-1.1 .5-1.1 .3-.9 .6-.7 .9 .9 1.4 1.1 1.2 .9 1.5 .8-1 .9-.5 .6-1 .6-.8 .8-1.2-1.6-.8zM324.4,65.3l-.1 2.2 1.2 1.9 1.5 1.6 1.6 .8 .7-1.9 .7-1.8 .3-2.1-.7-1.9-1.8-1.6-1.6 1.8z"/>
<path fill="#d29636" d="M195,20.6l-1.1-2.6-2-2.5-1.9 .9-.7 3.1-.2 3 .6 3.1 .7 3.1 2 1.6 2.6 1.7 1.6-1.9-.7-2.9-1.9-1.7-.4-2.3z"/>
<path fill="#d2ba2a" d="M221.6,125.3l1.8-.9-.9-2.7-.9-2.3-1.8-.8-1.2 1.3-.9 1.7-2.1-.3-1.7 .6 .7 2.3 1.2 2.1 2 .4 .9-2 1.1-.9zM213.9,29.7l-1.6-1.9-1.7-1.8-1.7 .3-.1 2.4 .7 2.5 1.8 1.5 0 2.9 1.3 2 1.7 .5 2.2-.3 .9-2-1.1-2.1-2.2-1.5z"/>
<path fill="#12a272" d="M266.4,102.7l.1 1.5 .8 1.8 .4 1.7 .8 1.5 1.5 .3 1.2-1 1.5-.3 .9-1.2 0-1.6-2-1-1.3-1.2-1.4-1.3-1.6-.3zM325.4,158.7l1.5 .4 1.4-.2 1.6 0-.1-1.3-.3-1.4-.7-1.5-.5-1.7-1.5-1-1.4 .1-.4 1.6-.3 1.3-.5 1.2-.1 1.3zM235,48.7l.8 1.2 1.1 1.1 1.1 1.2 1.4 .3 1.3-.4 1.6-.3 .4-1.4-.6-1.6-1.4-1-1.4-1.1-1.4-.6-1.3 .5-1 1zM265.8,131.3l0 1.9 .2 1.7 0 1.7 1 1.7 1.8 .9 1.7 .9 .8-1 .5-1.7-.3-2-.3-1.8-.4-1.8-1.4-.9-1.8 .3z"/>
<path fill="#5aba36" d="M297.4,148.8l1.4 1.9 1.5 1.6 1.8 1.2 2 1.5 1.9 .1 1.2-1-.7-2.4-.1-1.9-1.5-1.8-1.5-1.9-2 .4-2.2-.5-1.2 1.1zM260.6,17.7l-2.5-3.6-1.8 2.9-1.3 3.9 1.6 3.6 .2 3.8-.3 3.9 1.5 3.8 3.5-.9 2.9-1.8 1.7-1.9-2.6-3.9-2.6-2.9-.7-3.2zM305.3,167.9l.3 2-.1 1.7 .2 1.6 .5 1.7 1.8-.1 1.8 .1 1.2-1 .4-1.6 .5-1.5 .2-1.8-2-1-1.8-.9-1.6 0zM253,103l-.3-2-1.1-2.4-1.4-1.7-1.3 1.8-1.4 1.2-1.5 .1-2.3 0-.1 1.7 1.9 1.9 1.3 2.5 1-2.1 .8-1.8 2.2 .4zM245.4,93.6l-.3 1.2 .1 1.5-.1 1.4 .8 .9 1.1 .5 .8-.9 .7-1.1 .9-.8 .6-1 .2-1.2-1.4-.6-1.2-.9-1.1 .4z"/>
<path fill="#96c62a" d="M216.1,133.3l-.3 .8 .3 1.3 .2 1.1 1 .9 1.1 .4 1 .6 .4-.9 .6-.7-.1-1-.4-1.2-.8-1.2-1.1-.4-1 .1zM240.9,148.3l-1.7-.3-1.7 .1-.3 1.4 .6 2 1 1.9 1.6 .9 1.7 .9 1.7 .3 1.1-1 .5-1.5 .4-1.3-2.2-.7-1.6-.9zM202.6,63.5l1-1.4 .6-2.4-.3-3.2-1.5-2.9-.2-3.1-1.4-2.2-2.6-.4-2.1 .8 .2 2.9 2.2 2.2 2.5 .6 .3 3 .6 3zM237.2,37.2l3.1 .7 2.2-1 1.8-2.2-1.2-3.3-2.8-2.2-2.5 .6-2.1 2.3-1.8 1.5-3.2 .2-1.2 1.1 .6 3.6 2.8 .8 2.1-1.6zM202.3,80l-.4 1.5 .2 2.2-.4 1.8 .4 1.8 .6 1.9 1.4 .2 1.4-.2 1.5-.3 .3-1.7-.1-2-1-2-.8-2-1.6-.9zM222.3,150.3l.9-.1 .6-.5 .5-.8 .7-.5 .5-.8-.5-1.3-1.2-.6-1-.8-.9-.2-.2 1-.1 1.1 0 1.2 0 1.2zM299.8,45l.9 2 1 1.9 1.5 1.4 1.5 1.8 1.6 .8 1.1-1.8 .6-1.9 .7-1.6-1.7-1.4-1.5-1.5-1.5-1.6-1.6-.8-1.8 .8z"/>
<path fill="#bac62a" d="M295.7,103l-.7-2.5-1.5-2.4-2.5-.4-1.8 1.3-1.8 1.6 1.6 2.4 .1 2.5-.2 2.6 1.5 3 2.6 .4 .6-2.2-.4-2.5 0-2.6zM314.5,20.5l-1.3 1-.2 2.1 0 2.6 .3 2.3-.1 2.3 1.1 1.8 2.1 1.2 1.1-2.1 .9-2.2 .2-2.4 .9-2.3-1.3-2.1-2-.9z"/>
<path fill="#d2a236" d="M295.2,35.5l.8 1.8 1.6 1.4 1.2 1.5 1.5 .9 1.7-.8 .6-2.1 1.1-1.8 .9-2-1.8-1-2-.2-1.9-.5-2.1-.4-.8 1.5zM228.6,90.1l2.1 3 1.1 2.8 2.5 1.7 2.7 0 2.6 2.4 2.9-.1 2.1-1.5 0-3.3-1.7-2.6-2.8-1.3-2.8-1.2-2.5 .5-2.5 .1z"/>
<path fill="#d28a36" d="M224.8,104.4l1-2.1 .4-2.7-1.7-2.6-2.2-.4-1.9 1.4 .1 2.8-1.8 1.3-2.2 1.2-1.2 2 2.1 2.1 2.5 .6 1.9-.7 .7-2.5z"/>
<path fill="#7eba2a" d="M300.7,117.4l1.1-2.7-.2-3.1-2.8-1.5-.6 3.3-.5 2.9-.3 2.4-1.3 2.5 .1 2.6 .9 3.1 2.3 .8 1.8-2.1 1.7-2.2-.4-2.7zM320.3,71.4l.1 1.7 1.6 1.6 1.1 1.7 1.9 .6 1.9-.3 2.2 .2 .4-1.7-1.3-1.9-1.4-1.6-1.3-1.7-1.8-.4-1.5 1.1z"/>
<path fill="#2aba42" d="M240.4,84.2l-1 .7-.7 .6-.7 .8-.9 .8-.5 .9 .7 1.1 1 .2 .9-.6 .7-.8 .6-.8 .9-.8-.1-1z"/>
</g>
<polygon points="318.5,30 364,10 359,119 318,168.5" fill="#060606"/>
<g clip-path="url(#kbr)">
<path fill="#125aa2" d="M328.9,111.3l.3-1.1 .4 0 .2 .8-.3 1.1-.5 .1zM345.2,101.4l.3 .5 0 1-.4 .7-.2-.3 0-.9zM336,75.8l-.4 1.1-.5-.3 .1-1.5 .5-.8 .4 .2zM323.6,160.3l-.6-.4 .1-2.2 .9-1.3 .4 .9 0 1.9zM327.2,35.6l-.3 0-.3-.7 .3-1.1 .4-.2 .2 .9zM340.6,123.4l.3-1.4 .4-.2 .3 .7-.4 1.3-.4 .2zM347.7,54.6l-.4 2.1-.6 .6-.3-1.3 .2-2.1 .6-.1zM337.6,112.5l-.1 1.6-.6 1.7-.3-1.1 0-1.3 .5-1.5zM344,67.4l.7-.8 .5 .6-.2 2-.7 1.5-.3-1.4zM333.4,50.6l.2-2.8 .7-2.3 .8 1.2-.1 2.4-.7 2.2zM357.1,73.5l.5-1.2 .1 1.6-.2 1.3-.4 1-.3-1.1zM356.3,28.7l0 1.9-.5 1.2-.6-.1 .1-1.9 .5-1.8zM333.6,115l.3-1.4 .4-.1 .3 .7-.3 1.5-.5 .2zM349.1,80.4l-.3 1.8-.6 1-.3-1.1 .3-1.6 .5-1.2zM345.6,129.8l.1 .7-.2 .9-.3 .5-.2-.4 .2-1zM331,75.1l.3 1.7-.4 1.6-.6 1.1-.4-1.3 .3-2.1zM337.2,105.4l.6-1.5 .6 0 .1 1.5-.5 1.8-.7 .1z"/>
<path fill="#127e72" d="M336.2,130.5l-.4-.6 .2-1.9 .7-.5 .3 .8-.4 1.4zM311.4,173.1l-.4 2.7-.3 2.7 1 0 1-.5 1.1-1.5 1.1-.9 .7-2.4 .1-2.3 0-2.2-.4-1.7-.9 .3-1 1.9-1 1.6zM351.2,90.8l.6-1.5 .5-.1 .2 1.3-.5 1.4-.5 .3zM331.1,99.6l-.4 1.5 .4 1.4 .4 1.3 .4 1.3 .6 .3 .8-1.2 .8-1.1 .1-2.1-.3-1.1-.7 0-.7-.3-.8-.1zM333.2,11.8l.4 2.2 .6 1.8 .6 1.6 .9 0 .8-2.2 .6-2.2 .7-2.1-.4-1.7-.6-.7-1-.5-.9-.7-.9 0-.8 1.7z"/>
<path fill="#125a96" d="M340.9,123.4l.7-1.2 .8-.4-.3 2.2-.5 1.3-.6 0zM338.4,77.8l-.5-.6-.2-1.6 .7-1.3 .6 .3 0 1.7zM347.3,49.1l-.5-.1 0-1.5 .5-.7 .3 .2 .1 1.3zM333.6,35.5l.4-2.2 .8 .7 .1 2.2-.7 1.2-.8 .3zM341.3,91.5l.2 1.4 0 1.9-.8 1-.2-1.5 .1-1.7zM337.9,127.8l.5-1.1 .4 .3-.2 1.5-.5 .9-.2-.6zM345.3,59.2l.4-1.7 .6 0 .2 1.4-.5 1.4-.5 .1zM359.3,47.6l.4-1.1 .3 .5 .1 1.2-.4 .8-.5 .2zM340.2,85.8l-.7 .1-.3-1.5 .5-1.7 .8-1.1 .1 2zM331.7,109.7l.7-1.4 .6 .7 0 2.4-.9 .7-.7 0zM342,51l-.2 1.3-.4 .7-.5-.5 .3-1.7 .5-.3zM360.1,52.8l.4-1.4 .4 .6 0 1.7-.5 .9-.5-.1z"/>
<path fill="#12668a" d="M350.6,38.5l-.5 1.9-.6-.4 0-1.6 .3-1.6 .7-.3zM354.3,93.1l-.7 1-.4-.8 .1-1.7 .5-.9 .6 0zM358,23.5l-.4 2.2-.6-.5-.2-1.5 .3-2.5 .7 .4zM355.9,94.2l0 1.8-.1 1.9 .3 .9 .5-1 .6-1.1 .7-1.5 .4-1.5 0-1.7-.5-.8-.5 .1-.6 0-.6 .7zM342.4,80.5l.7-.4 0 1.9-.5 1.3-.6 .4 0-1.6zM356.2,44.5l-.3-.6 0-1 .2-1.1 .3 .4 .1 1.1zM333.3,47.6l-.1-1.1 .2-1.7 .6 0 .2 1.5-.4 1.6zM347.6,39l-.2-1.4 .3-1.7 .5-.3 .3 1.2-.3 1.8zM346.1,138.2l.2 1.7 .3 1.5 .1 1.5 .7-.5 .8-.8 .6-1.6 .6-1.7 .4-1.9-.5-1-.4-1-.8 .7-.7 .7-.7 .7zM318.8,110.5l.5-.8 .2 1-.1 1.3-.5 .5-.2-.8zM356.8,73.4l-.4 .6-.3 0 .2-1.3 .2-.9 .4 .1zM361.2,1.9l-.4 .8-.3 1.7-.3 1.9-.2 1.7-.2 2 .4 .8 .5 .6 .4-.3 .4-1.4 .3-1.8-.1-1.6-.1-1.8 0-2.1zM320.1,52.2l.2 2-.5 1.7-.9 1.3-.4-2.4 .6-2.6zM360.7,71.3l-.4 1.3-.4-.1 0-1 .3-1 .3-.1zM355.6,25.1l-.2-1.4 .1-1.4 .5-.8 .3 .7-.1 1.8zM352.1,136.4l.2 1.4 .2 1.4 .5 0 .6 .4 .6-1.8 .4-2.3 .2-2.1 0-1.7-.3-1.2-.3-1-.5 1-.5 1.8-.5 2.1zM336.4,51.7l.1 1.7-.4 1.6-.6 .4-.2-1.7 .4-1.9zM360.3,60.1l.1 1-.2 1.2-.4 .9-.2-1.4 .3-1.6zM323.1,109.4l-.2 2.8 .1 2.6 .1 2.3 .9 1 .9 .2 1.1-.8 1-1.8 .4-2.4 .2-2.7-.2-2.6-1.1 .4-.9-.1-1 1zM328.5,72.1l-.4 1.4-.1 2 0 2.2-.1 2 0 2 0 2.2 .7-1.3 .6-1.7 .5-1.5 .1-2.1-.1-2 0-1.8-.5-1.3zM333.7,90.2l-.6 1.8-.7 1.7-.6 2-.5 2.2 .6 .6 .9-.2 .7-.1 .7 .5 .6-1.4 .3-2-.2-1.9-.3-1.6-.3-1.6z"/>
<path fill="#126696" d="M362.4,19.7l-.2-.8 .2-1.1 .3-.3 .2 .7-.2 1.1zM351.2,27.2l-.4 1-.3-.9 .2-1.8 .5-.8 .2 1.3zM345.2,45.2l.4-2.1 .7-.2 .2 1.5-.4 1.4-.6 1zM344.6,136.6l.7-.6-.2 1.9-.4 1.5-.6 .5 .2-1.9zM340.3,127.1l-.4 2 .1 2.3-.1 2.1-.2 2.2 .3 1.9 .7-.9 .7-2.4 .7-1.7 .6-2.1 .1-2.3-.6-.9-.4-.8-.7 .2zM363,17.7l.3-.9 .1 1 0 1-.3 .6-.2-.7zM322.6,80.7l-.5-1.1 .5-1.6 .6-1.1 .2 1.6-.1 1.8zM319.1,94.1l.1-2.5 1-.9 .7 1.2-.6 2.4-.9 2zM343.8,54l0 2 .4 1 .6 1 .7-1.5 .5-1.4-.1-1.9-.2-2-.5-.5-.8 1.6zM349.6,80.5l.4 .5-.1 1.3-.4 1.1-.3-.7 0-1.2zM349.2,49.8l.9-.3 0 2.2-.4 2.4-.7 .1-.1-2.1zM320.1,21.6l-.4 2.2 .5 2.3 .7 2 .5 2.3 .7 1.9 .9-1.3 .4-3.1 .5-2.8 .2-2.7-.7-1.3-1.2 .1-1.1 .2zM327.5,138.3l-.3 2.1-.8 1.3-.3-1.3 .2-2.2 .9-1.5zM355.9,16.2l.5-.5 .1 1.4-.2 1.5-.5 .1-.1-1.2zM328.7,45.7l-.1 1.7-.4 1.6-.7-.4 .1-1.7 .4-1.2zM324.8,94.4l0 2.3-.8 2.2-.8-.7 0-2.3 .8-1.3zM358.6,72l.4-.6 .1 1.1-.3 1.2-.4 .3-.3-.7zM358.2,113l-.2 .8-.3 .4 0-.9 .2-.9 .2 0zM319.1,149l.8 .3-.4 2.4-.8 1.9-.5-1.1 .1-1.8zM326.2,33.5l-.6-2 .4-2.5 .9-1.6 .5 2.3-.3 2.1z"/>
<path fill="#124ea2" d="M349.8,84l-.3 .4-.2-.3 .1-1.1 .4-.9 .2 .8zM349,121.8l-.1-1.6 .7-1.1 .4 .3-.2 1.8-.5 1.1zM353.1,122.6l.4 .2-.1 1.7-.5 .9-.3-.2-.1-1.3zM324,124.2l-.6 1.7-.9 .5 .1-2.1 .5-2.2 .7 .6zM350.9,93.7l-.3 .1 0-1.2 .4-.8 .4-.3-.1 1.4zM347.7,61.1l-.4 1.3-.4-.3-.1-1.5 .5-.8 .4 0zM340.6,138.7l-.2 2-.6 1.6-.6-.5 .2-2 .6-1.2zM343.9,48.3l-.1 1.6-.4 1.3-.5-.4 .1-1.7 .4-1zM348.7,114.5l.3-.4 .2 .4-.2 .9-.3 .7-.2-.6zM355.5,105.8l.6 .1 .2 .9-.3 2-.5 0-.4-.8zM357,92l-.3 2-.5 1.4-.5-.4 .1-2 .6-1.3zM352.4,114.6l.1-1.7 .2-1.8 .6-.3 .2 1.4-.4 1.9zM358.1,77l-.7 .9-.1-1.7 .2-1.6 .6-1.1 .3 1.3zM356.2,46.2l.4 0 .1 1.2-.3 1.7-.6 .3-.1-1.9zM336,41.4l-.7 2.2-.9-.4 .2-2.7 .5-2.5 .9 .9zM349.2,71l0-1.3 .1-1.2 .4-.2 .2 1-.3 1zM356.2,62.2l.6-.1 .2 1.6-.5 1.4-.5 .3 0-1.4zM357.9,96.3l.4-.7 0 1.3-.2 1.3-.4 .5-.2-1zM352.7,54.9l.6-.5 .2 1.6-.3 1.9-.6 .6-.1-1.8zM346,103.4l.5-.4 .1 1.1-.2 1.4-.4 .3-.1-1zM355.6,55.5l.3 .2-.1 1.4-.3 1-.4-.3 .1-1.4zM338,138.1l-.1 1.5-.4 1.4-.4-.5 .1-1.1 .3-1.1zM331.8,98.8l-.5-.2-.2-.7 .3-1.1 .5-.5 .3 .9zM345.9,134.5l0 1.2-.3 1-.4 .1 0-1 .3-.9zM361.4,17.4l0 1.4-.2 1.4-.5 .1-.2-1.2 .4-1.6z"/>
<path fill="#12727e" d="M360.9,40.5l.3 .7-.2 1.6-.3 .6-.4-.3 .2-1.6zM311,116.6l.5 2.5 .3 2.6 .9 .9 1.2 .4 1.2-1.7 .8-3.1 .6-3.1 .4-2.8-.7-1.6-.9-.5-1.3 .8-1.2 .2-1.1 2.1zM337,131.7l.3-2.1 .6-.8 .4 .3 0 1.9-.7 .7zM355,88.7l.1 1.5-.5 1.3-.3-.6-.2-1.1 .5-1.2zM353,68.2l.5 .8-.1 2-.6 1.9-.4-1.1-.1-1.9zM351.4,65.8l0 1.4-.4 1.3-.4-.5 0-1.4 .5-1.1zM329.8,104.8l-.9 .4-.3-1.7 .4-2 .9-1.3 .5 1.7zM364.4,7.3l0 1.9 .3 1.4 .3 1.1 .6 .2 .6-.4 .1-2.4 .2-1.9 0-1.9 0-1.9-.5 0-.5-1-.5 .6-.4 2.2zM353.2,99.3l.3 1.1 .2 1.3 .3 .9 .5 0 .5-1 .4-1.4 .1-1.7 .1-1.7 0-1.7-.5 .2-.6 .6-.5 .5-.5 1zM363.7,25.2l-.2 .7-.2-.1-.1-.8 .2-.9 .3 .1zM344.1,41.9l-.4 2.6-.3 2.3-.2 2.1 .2 2 .2 1.9 .7-1.3 .7-1.1 .6-1.9 .1-2.2 .2-2.4-.4-1.3-.6-1.1zM355.2,91.4l.4-.8 .4-.5-.1 1.5-.3 1.1-.4 .1zM349.5,29.2l-.2 3.1-.3 2.7-.3 2.9-.2 2.8 .6 .9 .9-2 .8-.9 .7-2.1 .8-1.9-.4-2.2-.2-2.4-.6-1.5-.7-1zM355.6,91.5l.2 .9-.4 1.5-.5 .5 0-1.5 .3-1.5zM357.6,52l.3-1.6 .5-.6 .3 .8-.3 1.6-.5 .8zM350.1,83.9l.3 1.7 .2 1.4 .3 1.6 .5-.2 .5-.8 0-1.4-.2-1.6-.3-1.5-.2-1.5-.3-.9-.4 1.4zM361,13.3l-.4 3.4-.4 3.3 0 2.9 1-1.1 .8-.9 .9-1.5 .6-2.6 .5-2.8 .3-2.7-.3-2.3-.8-.5-.8-.1-.8 1.9zM357,89.5l.4-1.8 .5-.7 .5 .5-.5 1.8-.5 .9zM347.1,126.8l.2-1.8 .5-1.5 .3 .7 0 1.3-.4 1.1zM336.5,138.8l-.3 1.8 .4 1.4 .3 1.3 .2 1.5 .5 .3 .7-1 .6-1.7 .7-1.6 .1-1.8-.5-.9-.4-.4-.8 .7-.7 0zM328.5,86l-.2 2.5 1-.2 .7 .1 .9-.3 .8 0 .8-.4 .2-1.8-.2-1.9-.3-2-.5-1.7-.9 .8-.8 1-.8 1.8zM356.2,106.3l-.5 1.8-.3 2.4-.3 2.2-.1 2 .4 .6 .8-1.6 .6-.7 .8-.5 .4-2 0-2-.1-1.8-.6-.4-.5-.4z"/>
<path fill="#127272" d="M335.1,132.9l-.5-.7 .7-2 .7-1.1 .2 1.6-.5 1.9zM335.6,130.9l-.5 1.9-.3 2.1-.3 2-.2 2 .1 1.8 .8-1 .7-.9 .5-2.3 .4-2 .5-2.2-.4-.9-.7 .2zM314.5,34.9l-.3 2.9-.2 3.2 .1 3.2 .1 2.5 .8 1.2 1.2-.8 1.2-.8 .9-1.8 .2-2.9-.1-3.1-.9-1.4-.9-1.7-1-.3z"/>
<path fill="#1e8a42" d="M324.4,130.9l-1.6 3.2-1 4 .8 1.9 1.4 1.1 1.4 .5 1.6-2.8 1.5-.9 1.6-2.3 .6-4.4-.5-3.4-1.1-.7-1.8 3.9-1.3 .9zM364.1,46.7l.4-3-.1-3.3-.4-1.9-.9-.2-.7 4.2-1 1.9-.6 3.7-.8 4 .2 2.6 .8-1.6 .8-3.7 .6-3.6 .8-.3zM311.8,73.1l1.5 1.6 1.9-2.6 1-4.4-1-4.4 .6-3.3 2-4.1-.3-4-1-3.3-2.2 1.7-.3 5.4 .4 4.5-1.2 3.1-1.1 5.6zM316.1,23.7l-.5 3.5-.4 3.6 .7 2.4 1 1.5 1.1 1.3 1.2 .6 1.3-1.9 1.2-2.2-.8-3-.8-2.6-.5-3.4-.9-1.5-1.3 .4zM360.3,95.8l0 1.7-.1 1.4 0 1.5 .4 .6 .3 .7 .4 .3 .3-1.7 .3-1.6 .2-1.5-.3-.8-.3-.5-.3-.6-.4-.4zM346.1,11.2l.3 1.7 .3 1.9 .6 1.4 .7-.6 .4-2.2 .2-2.6 .1-2.2 .3-2.7-.3-1.1-.7 .2-.7 1.4-.8 1-.7 1.6zM362.7,30.8l0 2.2 .2 2 .3 1.8 .5 .7 .6-.4 .6-.6 .7-1.4-.1-2.3 0-2.1 0-2.2-.8 .9-.6 0-.6 .7zM334.6,69.2l-.1 2.6 0 2.4 .6 1.1 .7 .7 .9-1.5 .8-1.7 .9-1.8 .2-1.8-.5-1.1-.8-.6-.5-1.4-.8-.5-.8 1.3zM334.2,85.8l1.1-1.1 .9-2.4 1.4-.4 1-1.7 .5-3.5 .1-3.3-.8-1.6-1.1 2.2-1.2 2.6-1.1-.7-1.1 1.5-.7 2.9 .4 2.9zM339.6,96.6l-.4 .9-.5 1.6-.3 1.8-.6 1.9-.1 1.8 .3 1 .3 1.2 .6-1.9 .5-1.8 .4-1.8 .7-1.7-.1-1.3-.3-1.2zM321.4,99.9l-.7 1.3 0 2.4 0 2.4 .2 2 0 2.3 .9-.5 .8-.8 .4-2.1 .3-2.4 .2-2.4-.7-.6-.7-.9zM330.2,42.2l-.9 2.7-1.1 3-1 3.5 .6 2.5 1.1 1.4 1.1-1.7 .9-3 .8-2.2 1.3-.9 1.1-1.8-.5-2.1-.9-.9-1.2-.7zM332.4,60.2l-.1 2.8-.3 2.8 .1 2.3 .9 .1 .8 .7 .9-1.6 .5-2.4 .4-2.4 .4-2.8 0-2.6-.8-.9-.9 .9-.9 1.4zM352.4,29.9l.1 1.8 .1 1.8 .3 1.3 .5 .6 .5 1.1 .6-1.5 .2-1.4 0-2-.1-2-.1-1.9-.2-1.2-.6 1.5-.6 .8zM312.7,98.5l.5 .9 .9-.3 .6-2.6 .5-2.1 .5-2.1 .2-2-.9-.3-.8-.3-.6 1.8-.3 2.5-.3 2.3zM349.2,42.1l.1 2.7 .2 2.3 .1 2.7 .9-1.2 .9-1 .6-2.1 .7-2.6 .6-2.7 .1-2.5-.9-.5-.6-.3-.9 1.4-.8 2zM355.4,19.8l-.4-.9-.8 1.7-.7 1.5-.7 1.2-.6 1.3-.8 1.4-.2 1.9 .6 .9 .7-.6 .6-1 .7-1.4 .7-1.3 .3-2.1zM350.4,135.8l.5 .5 .5 .1 .6-1.4 .5-1.7 .4-1.9 .6-2.1 .3-1.7-.6 0-.7 .7-.6 .1-.6 1.2-.3 2-.3 2.1zM361.4,92.7l.1 1.1 .3 .6 .3 .5 .3 .7 .3-.5 .4-1 .1-1.3 0-1.3 0-1.3-.1-1.3-.3 .3-.5 1.1-.4 1.2zM354.3,88.6l-.2 1.8-.1 1.6-.2 1.9 .3 .7 .5-.2 .5-.5 .5-.8 .3-1.5-.2-1.4-.2-1.2-.1-1.3-.6 .3zM319.2,37.5l-.1 2.8 .1 2.7 .7 1.3 1.1-.2 1 .7 1 .2 .5-2.7 .2-2.7 0-2.7-.6-2-.8-.9-1 .4-1 1.6zM340.7,73.3l-.3 2.1-.4 2.3-.1 2 .2 1.3 .6 .3 .8-.2 .7-1.3 .5-1.9 .4-2-.1-2-.2-1.6-.6 .2-.7 .5z"/>
<path fill="#12728a" d="M317.5,113.9l-.6 2-.6 2.1-.6 2.5 .7 .7 .9 0 .8 .2 .9-.3 .2-2.4-.1-2.3 .2-2.6-.9 .1zM320.1,144.9l.2 1.6 .1 1.5 .4 1.2 .7 .1 .8-1.6 .6-1.8 .8-1.8 0-1.4-.7-.2-.6-.5-.7-.6-.7-.6-.4 2.1z"/>
<path fill="#42962a" d="M360.1,73.1l.4-1.9-.3-1.6-.2-.7-.7 1-.6-.6-.5 0-.4 1.9-.3 2.2-.1 2 .6 .4 .4 .8 .5-1.9 .7-.7zM342.3,106.3l0 2.3-.1 2.1 0 2.2 .4 1.1 .5 1 .7-.1 .7-1.4 .1-2-.1-1.8 .1-2.1-.3-1.5-.5-.6-.7-.6zM336.2,55.5l1.4-.8 .8-3.1 .2-3.4 0-3.5-1-.6-1.3 .4-1.1 1.2-1.2 2-1.4 1.1-1 2.3 1.5 1.2 1.1 1.1 1 1zM320.1,151.4l-.9 1.4-.7 2.4-.8 2.3-.5 2.4 1-.2 .8 .2 .9-.4 .9-.1 .9-1.5 .3-2.2-.3-1.8-.2-1.6-.6-.8zM356.3,100l-.5 1.8 .2 1.3 .4 .7 .4 0 .5-.6 .4-1.9 .4-1.6 .4-1.6 .1-1.3-.2-1.2-.6 .7-.5 1.2-.6 1.3zM318.9,127.3l.6-4.1 1.6-3.8 .7-3.4 0-4.4-2 2.4-.6 4.1-.1 4.1-1.4-.1-1.7-.6-1 2.8-.3 4.7 .4 3.6 2-3.2zM318.5,99.2l-.4 3.5-.5 2.8-.7 3.2 .1 2.7 .6 1.7 1.2-.5 1.1-.5 .8-2.2-.2-3 .1-2.7-.1-2.6 0-2.8-.9-1.5zM357.4,45.9l-1 2-.1 2.5 .3 2.4 .8-.7 1-1.5 .7 1.1 .8 .6 .5-3.4 .5-3.1-.1-2.5-.7-1.4-1 2.9-.8 1.5zM346.8,93.4l.5 1.9 .2 1.7 .4 1.7 .6-.2 .8-1.5 .8-1.4 .5-2.2 .5-2.4-.4-1.1-.7 .2-.7 .7-.8 .4-.9 .5zM324.4,77.4l.1 1.5 .6 .9 .6 1.2 .6 .7 .6 .9 .3-2 .1-2.2 0-2.1 .2-2.3-.4-1.1-.7 .7-.8 .8-.7 1.2zM342.7,87.8l-1 2.3-1 2.6 .3 2.1 .7 1.4 .8-.8 1-2.1 .9-.2 1 .1 .8-1.5-.4-2.1-.6-1.5-.5-1.9-1 1.7z"/>
<path fill="#1e8a36" d="M345.2,58.7l-.2 2.7-.3 3.1 .4 1.8 1.1-.4 .8 .8 .9-1.7 .7-2.3 .2-3-.2-2.6 .1-2.9-.7-.3-1 1.3-.9 2zM362.1,0.3l-.2 2.1 .4 2-.1 2.3 .5 1 .7-.8 .6-.5 .4-1.9 .3-2.1 .2-2.4-.2-2-.6-.1-.6 .9-.7 .7zM332,62.4l-1.2-1.9-1.6-.2-.7 5.2 .2 4.6 1.4 1 0 4.3-.1 4.6 1.6-.6 1.5-2.9 .9-3.8-.3-3.3-1.5-.4-.5-2.5zM315.7,133.1l-.2 2 .3 1.7 .6 1.5 .7 .7 .9-.4 1 0 .3-2.2-.1-2.2-.1-2.2-.1-1.8-.4-1.5-1 2-.9 1.2zM324.7,34.2l-.1 2.2 .4 2.1 .9-.3 1-.5 1-.2 1-.6 0-2.9 .1-2.6 0-2.6-.7-.4-1 1.6-1 1.2-.9 1.5zM346,136.1l.7-.4 .6-.5 .7-.4 .7-.7 .4-2.1 .1-1.9-.4-.5-.5 0-.6 .3-.7-.3-.6 2.1-.3 2.1zM339.8,68.4l.4 1.6 .2 1.9 .8-.4 .8-.6 .7-.7 .9-1.2 .4-2.1-.4-1-.8-.3-.7-.2-.6-.5-.8-.7-.5 1.8zM316.2,164.2l0 1.6 .4 1.3 .4 1.1 .7-.2 .8-1.8 .6-1.6 .7-1.5 .5-2.3-.8 .2-.7-.1-.7 .4-.8-.2-.7 1.2zM335.1,18.5l-.3 2.7-.3 2.4 .1 2.3 .3 2 .6 1.9 .8-.4 .5-2.4 .4-2.5 .6-2.4-.5-1.5-.7-.8-.6-1.9zM341,61.4l.1 1.7 .4 .7 .6 .6 .7 .1 .7 .5 .7 .1 .2-2.2-.1-2.2 0-2-.5-1.2-.7-.4-.7 1.5-.8 1.4zM358.6,78.1l0 1.8 .2 1.1 .6-.5 .4 .2 .5-.4 .5-.7 .2-1.5 .1-1.7-.2-1.1-.2-1.2-.6 1.1-.5 .5-.6 .5zM324.5,66.8l0 2.6-.1 2.8 .5 1.5 1-1.1 1.1-1.1 1-1.4 .1-2.6-.1-2.2-.8-.7-.9-.1-1.1-.3zM319.8,95.2l1.1-2.4 .4-3.3 .4-3.4-.1-2.5-.7-1.2-1.1 1-.8 3.2-.8 3.1-1.2 1.8-.8 3.2 0 2.4 1.3-.5 1 .6zM352.7,108.9l-.7-.8-1.1 .4-1.2 1.4-.5 4.1 .1 2.3 .7 1.3-.3 3.8 .4 1.9 .8 1.6 1-3.9 .6-2.9-.6-2.1 .2-3.1zM324.9,22.7l-.9 2.3-.4 3.1-.4 2.9 .3 2.5 1.1-.6 1-1.5 1.1-1.3 .9-1.8 1.3-1.6 0-3-.9-1.6-1.1-.8-1-.3zM334.5,104.5l-.1 2.1-.1 2.1 .1 1.9 0 1.7 .7-.2 .7-1 .7-1.1 .6-1.1 0-1.7-.2-1.6-.5-.8-.6-.5-.6-.2zM340.7,140.9l-.2 1.5 .2 1.1 .2 1.1 .2 1 .3 .8 .4-1.9 .3-1.6 .3-1.7 .1-1.6-.7 .6-.5 .5zM361.2,83.6l0 1.6 .1 1.6-.1 1.8 0 1.8 .5-.5 .5-1.2 .5-1.5 .5-1.5-.2-1.3-.1-1.6-.3-1-.5 0-.5 .4zM312.1,102.9l.5 2.7 .2 2.3 .2 2.4 1.2-.8 1.1 .3 1-1 .7-2.5 .4-2.9 .3-2.8-1.1-.1-1 .2-1.1 .5-1.1 .5zM354.8,72.8l0 1.2 .2 1.1 .3 .9 .4 .4 .5-.7 .5-1 .2-1.8 .1-1.6 .1-1.4-.2-.9-.6 1.2-.5 .9-.5 .8z"/>
<path fill="#72961e" d="M357,18.9l-.1 1.5 .4 1.4 .1 1.5 .3 1.5 .5 .5 .6-.7 .5-.9 .4-1.5-.1-1.8-.5-.7-.5-.9-.5-.4-.5 .1zM349.7,52.7l-.3 2.7 .1 3.1-.3 3.4 .1 2.1 .5 2 1-.1 .8-2.3 .3-3.4 .3-2.8 .7-3.1-.6-1.8-.7-1.6-.9 0zM353.3,11.6l.1 1.8 0 2.1 .6 .3 .5 .1 .6 .2 .4-1.3 .1-1.8 .2-2-.1-1.8-.4-.8-.5-1.3-.6 1.4-.4 1.5zM335.4,126.8l.2 1.6 .3 1 .5 .1 .5 .4 .6 .1 .7-1.2 .3-1.6-.4-.9-.4-.7-.4-.9-.4-.6-.5-.4-.5 1.4z"/>
<path fill="#128a4e" d="M338.6,10.7l-.6 1.6-.6 1.8-.6 1.8 .2 1.6 .6 1.1 .6 .9 .7-.8 .8-1 .7-1.6-.5-2-.3-1.8-.3-1.8zM352.6,58.4l-.1 1.8-.1 1.9 .4 .6 .6-.5 .5-.1 .5-.7-.1-1.2-.5-.9-.3-.9-.3-.9zM362.5,57.4l-.3 2.1 .1 2 .4 1 .4 1.3 .6-.3 .6-1.7 .5-1.3 .2-2.1 .1-2.1-.5-1.1-.5-.6-.5-.5-.6 1.3zM316.6,149.8l-.5 2.1-.3 2.2-.5 2.4 .6 1 .3 1.4 .7-.7 .7-2.1 .7-2.1 .8-2 .2-2.3-.3-1.7-.5-.9-1 1.6zM319.3,70.8l.3 2.6 .3 2.2 .7 1.4 1-.1 1 .6 .7-2.3 .4-2.3-.2-2.5 0-2.4-.8-1-.8-1.4-.8 .8-.7 2.4zM342.4,97.7l-.3 1.9 .4 1.5 0 2.2 .6 .4 .7-1.5 .6-1.9 .6-1.9 .5-2 .2-1.8-.8 .3-.6-.3-.7 .3-.7 1.2zM333.5,123.9l-.6 .9-.5 2.3-.5 1.9-.5 2.2-.2 1.8 0 2.1 .8-2 .7-1.7 .6-1.5 .8-1.5 .4-1.8 0-1.5-.6-.5zM333.3,140.2l.9-3.9 .5-4.2-.4-2.9-1.2 2.5-1.6 3.7-1.6 2-1.5 1.9-1.2 4.3 .6 2.9 1.2 1.5 1.2-1.9 .8-4.9 1-2.1zM346.4,49.7l-.3 1.4 .3 1.6 .2 1.4 .5-.2 .6-.7 .7-1.1-.3-1.1-.5-.4-.6-.3zM324.4,101.5l-.3 2.5-.2 2.2 .4 1 .9-.5 .8 .1 .9-.4 .4-2.5 .5-2.2-.2-1.8-.2-2.2-.4-1.7-.9 2.4-.9 1.1z"/>
<path fill="#66961e" d="M339.9,83.2l-.3 2.1-.2 2-.1 2-.2 2.1 .3 1.8 .7-1.1 .6-1.4 .7-1.5 .5-1.8 0-1.8-.1-1.9-.5-.7-.7 .3zM331.1,111.2l-1 1.7-1 1-.6 2.6 0 2.2-.2 3-.3 2.9 0 2.1 .8-.5 1.1-2.8 .8-2.1 .8-2.6-.2-2.2-.2-2.4zM338.4,108l.4 1.1 .3 1.3 .7-.9 .7-1.4 .7-1.2 .4-1.4 .1-1.7-.3-1.4-.1-1.6-.6-.1-.5 1.3-.6 2-.5 2zM327.5,106.9l.3 2.1-.1 2.9 .3 1.6 1-1.8 .8-1.7 1-1.2 .7-2.1-.3-1.8-.6-1.4-.4-1.4-.6-1.3-1 .8-.4 2.7zM362.3,49.3l-.5 .1-.5 2.1-.3 2.2-.4 2.1 .5 .6 .6 .6 .6-.3 .4-2-.2-1.9-.1-1.7zM347.3,119.8l.1 1.8-.1 1.7 0 1.8 .1 1.7 .5-.6 .7-1.6 .6-1.2 .2-1.8 .1-1.9 0-1.4-.4-.8-.5-.5-.7 1.2zM345.7,13.8l-.6 .4-.5 2-.5 2-.7 1.8-.2 2 .9 .2 .6 .6 .6 .6 .6-.6 .4-1.7 .3-2.3-.1-1.9-.4-1.5zM351.3,67l.3 1.4 .3 1 .5 .8 .4 .8 .5 0 .3-1.9 .2-2 .3-2 0-1.4-.4-.5-.7 .5-.6 .2-.5 1.3zM344.5,8.4l-.8 1.2-.8 1.7-.7 1.8-.9 1.6-.4 2.4 .3 2.4 .4 2.3 1-.5 .7-2.2 .6-2.6 .8-2.1 .8-2.5-.3-2.2z"/>
<path fill="#127e5a" d="M343.6,131.9l-.5 1.7-.2 2.2 .1 1.8 0 1.7 .8-.8 .6-.9 .8-.4 .6-.9 .2-2-.1-1.5-.5-.3-.5-.4-.6 .1zM337.2,121.2l.2 1.4 .4 1.1 .5 1 .5 .9 .6 .9 .4-2.1 .2-2-.1-2.1 .2-2.2-.7-.4-.5-.6-.7-.6-.6 2.4zM364.7,45.7l.5 .3 .6-1.4 .5-1.5 .3-1.8 .3-1.9 .2-1.9-.4-.4-.5-.4-.6-.6-.5 1.6-.2 2-.1 2 0 2zM364.2,48.5l-.2-1-.3-.9-.5-.4-.4-.5-.3 1.6 0 1.6 .1 1.5 .1 1.7 .1 1.2 .4-.1 .5-1.1 .3-1.9zM310,82.8l.6 1.4 .8 .8 .8 .7 .8 0 .9-.3 .2-2.5-.2-1.9-.3-1.9-.5-1.1-.8-.1-.9 .6-.6 2.1zM347.1,30.6l-.5 2-.5 2-.5 2.3-.3 2.3 .6 .8 .7 .4 .7-.5 .8-.3 .3-2.2 0-2.4 .5-2.7-.3-1.8-.7-.2zM354.9,49.7l-1.2 2.3-.3 4 .8 3 1 1.1 .7-3.2 .1-4.4-.6-3.4 0-4 .1-4.9-.3-3.5-1.4 1.9-.1 3.9 .7 3.9zM358.5,109.7l-.5 2.3 .4 1.2 .2 1.1 .7-.6 .6-.7 .7-1 .4-1.8 .2-2.1 .2-2.3-.4-.4-.6 .8-.6 1.4-.7 .8zM321.8,56.5l-.3 3.2-.1 3.1 1 1.1 .8 1.7 1 1.4 .8-3.1 .5-2.7 .7-2.9 .4-3-.5-2.2-1.2 .2-1-.3-1 1.7zM339.3,112.3l-.5 1.8 .3 1.1 .6 .6 .5 .4 .5-.4 .6-1.3 .5-1.3 0-1.8 0-1.6-.2-1.3-.5 .6-.6 1-.6 1.1zM348.2,85.6l-.5 1.8-.2 1.8-.3 2 .7-.4 .7-.6 .6-.3 .6-.7 .5-1-.2-1.3-.2-1.3-.4-.6-.7 .5zM327.1,56.3l-.6 1.7-.5 2.5-.2 2.5 .7 .9 .9 .5 .9 0 .6-2.4 .5-2.8-.5-1.8-.9-.8z"/>
<path fill="#127e66" d="M323.6,79.2l-.7 2.6-.4 3.2-.1 3.5-.2 3.2 1 .3 1.3-.6 1.3-.2 1.1-.7 1-2.6-.6-2.6-.8-1.7-1-1.4-.9-1.8zM331.8,140.4l-.5 1.5-.2 1.8-.6 1.9-.2 1.8 .2 1.3 .7-.7 .6-.6 .7-.3 .4-1.8 .5-2 0-1.7-.5-.5-.5-.5zM339.3,54.1l-.1 1.8 .6 1.5 .4 1.6 .6 .5 .8-.8 .8-1.6 .5-1.9-.1-2.2-.1-2.2-.6-.8-.7 .7-.9 .5-.8 .8zM351.6,3.4l-.2 2.1-.1 2-.1 2.2 .3 1.5 .7-.2 .6-.5 .5-1.9 .3-1.8-.3-1.3-.6-1-.5-.6zM359.7,12.5l-.5 1.2-.6 1.3-.2 1.7 .5 .7 .4 .8 .5 .3 .4-.7 .3-1.8 .2-2-.5-.6zM343.4,41.5l-1.3 .7-1.4 .8-.8 2.3 0 4 1.3-.4 1.4-2 .9-3.5 .6-2.8 0-3.4-.5-3.6-1.1-.6-.7 3.2 .8 2.8zM337.4,147.9l-.8-.9-1.3 2.3-1 2.5 0 2.7 1-.3 .9 .6 .2 3.1 1-.1 1-2.9 1-2.6-.1-1.8-.9 .1-1.3 .5zM328.1,93.6l.3 1.7 .3 1.7 .4 1.9 .9-.9 .7-1.9 .7-2 .7-2.2 .4-2.3-1.1 .6-.8 0-.8-.1-.9-.2-.7 1.3zM316.1,141.3l-.4-2.9-.7-3.3-1.4 2.2-1 2.3 .3 4.5 0 3.4-.7 3.8-.3 3.7 1.2 .9 1.5-.9 .9-3.3 .2-3.7-.1-3.1zM354.5,117l.1 2.2 .1 1.9-.1 2.3 .6 .1 .7-.5 .6-2.1 .5-2.1 .4-2.3 .4-2.4-.4-.5-.7 .8-.7 .4-.7 1.1zM342.7,22.6l-1.2 1.5-.7 4 0 3.8 1 .9 1.2-1.5 .9 1.2 .6 2.2 .7 .2 .9-3 .3-3.6-.5-2.8-1.1-.9-1-1.6zM360.4,36.4l0 2-.1 2 .4 .9 .5 .5 .5 .6 .5-1.2 .3-2.1 .1-1.8 0-1.7-.1-2-.4-1-.6 .5-.5 1.7zM319.9,127.8l-.5 2.1 .1 2.3 0 2.4 .2 1.7 .2 2.5 .8-.3 .7-2.1 .7-2.2 .6-2-.1-1.7-.4-1.7-.5-1.4-.9 .4zM321.1,162.5l.3 1.3 .3 1 .5 .7 .5 .7 .7-1.5 .4-1.7-.3-1.4-.2-1.3-.2-1.6-.4-.7-.6 1.1-.7 1.4zM324.1,45.4l.1 2.6 .1 2.7 1.1-.6 .9 .5 .7-2.4 .7-2.3 .4-2.3 .5-2.3-.5-1.5-.8 0-1.1 .9-1 .1-.7 1.9z"/>
<path fill="#8aa21e" d="M354.3,119.2l-1.2-.2-.9 3.5-.7 3.5 .4 1.8 1.3-.9 1-.1 .5 2.5 .6 2.3 .8-2.8 .1-3.9-.1-2-1.3 1.7-.4-2.4zM354.2,71.5l.6-.9 .6-.7 .7-1.2 .6-1.2 0-1.9 .1-2-.2-1.6-.7 .2-.5-.1-.5 2-.4 1.8-.3 2.3-.2 1.8zM336.9,57.7l-.5 2.2-.2 2.9 .2 2.1 .9 .4 .6 .7 .7 1.1 .6-.8 .6-2 0-2.6-.2-1.6-.6-1.4-.4-2-.8 .1zM351.1,77.7l.1 1.8 .2 1.5 .2 2 .3 1.2 .4 .9 .3-1.9 .3-2.1 .1-2.3 .3-2.2 .2-2.3-.4-1-.6 1.2-.7 1.8z"/>
<path fill="#8a961e" d="M361.9,59.5l-.8-.9-.8 2.5-.6 3-.7 3.2 .7 1.2 1-1.4 .2 2.3 .2 2.9 .7-.4 .8-2.8 .4-3-.7-1.8-.5-1.6zM360.7,23.6l-.3 2.1 .4 2 .3 2 .3 2.1 .8-.7 .7-1.3 .4-2.6 .2-2.7 .1-2.3-.1-2.5-.7 .1-.7 1-.8 1.5zM359.1,-0.1l-.5 1.6-.5 1.9-.2 1.8-.3 2.1 .6 .5 .5 .6 .6 .1 .4-2 .4-1.8 .4-2.1 .2-1.8-.4-.9-.5-.4z"/>
<path fill="#36962a" d="M343.9,116.3l-.6 2.6-.5 2.7-.7 3.1 .8 .7 .5 1.2 1-1.8 .8-2.2 1.1-1.5 .7-2.2-.4-1.8-.7-1.1-.3-1.7-.9 .5zM347.7,127.8l0 1.2 .6-.4 .4 .1 .5 0 .5-.5 .5-1.3 .2-1.3-.3-.4-.3-.6-.5 .1-.5 1-.4 1zM346.6,122.6l-.6 .2-.7 1.5-.7 1.3-.6 1.5-.5 1.9 .3 1.4 .5 .5 .7 0 .6-.1 .6-.5 .4-2.1 0-2 0-1.8zM319.7,177.2l1.2-3.9-1.6-.9-1-1.8-1.4-.4-1.1 4-1.5 3-1.6 2.2-.2 3.9 .2 3.6 1.5-.8 1.2-5.1 1.3-2.3 1.7-.8zM357.6,60.6l0 1.8 0 1.8 .1 1.6 .4 .4 .5-1.2 .4-1.7 .4-1.7 .4-1.8 .2-1.5-.2-1.4-.5-.3-.5 1.4-.6 1.4zM358.4,114.3l-.7 2.3-.6 2.8-.4 2.8 .8-.2 .8-.5 .6 .5 .6-1.3 .7-2.3 .9-2.5-.1-2-.2-1.9-1 1.9-.8 1zM328.5,7.6l-.2 3.5-.2 2.9-.4 3.1 .2 2.8 .9 1.4 .9-1.6 .8-2.3 1-2.1 .8-2.5 0-2.8-.5-2.1-1.1-.3-1.1 0zM342.3,81.4l-.1 1.8 .3 1.5 .3 1.1 .6-.1 .6 0 .6-1.6 .2-1.9 .1-1.8-.4-.7-.4-.8-.6-.2-.5 1.4zM335.8,41.3l.8 .6 .8 0 .8 .7 .8-.6 .4-2.5 .3-2.4 .3-2.4-.3-1.6-.9 .6-.8-.1-.9 .2-.5 2.1-.4 2.7zM338.2,146.1l-.5 2 .2 1.2 .5 .2 .6-.3 .6-.1 .5-.2 .6-.8-.1-1.3-.4-1.3-.1-1.3-.2-1.7-.5 .4-.7 1.7z"/>
<path fill="#a2961e" d="M359.8,97.5l-.6 .6-.6 2.6-.5 2.2-.3 2 .5 1.2 .1 1.9 .6-.4 .7-1.5 .8-1 .5-1.8-.6-.8-.5-.7-.1-1.8zM333.5,117.5l.2 1.9 .4 1.8 .8 .3 .6 1 .9-1.5 .7-2.4 .6-2.5 .3-2.5-.2-2.1-.7-.5-1.1 1.7-.9 .8-.8 1.6z"/>
<path fill="#4e962a" d="M355.9,78.3l-.3 2-.2 2-.3 2.2 .1 1.7 .6-.5 .6-1 .7-1.1 .6-1.4 .2-1.7 0-1.7-.3-1.2-.5-.6-.6 .3zM338,132l-.4 1.6-.5 1.8-.3 1.8 .4 .3 .7-.6 .6-.4 .6-.3 .1-1.7 .1-1.7 .1-1.7-.1-1.3-.3-.5-.5 .8zM317,140l-.7 1.9-.5 2.5-.1 2.1 .4 1.3 .9-.4 .9-.6 .9-1.2 .7-2 .3-2.3-.2-1.7-.7-.5-1 .9zM320.5,96.2l.5 2.2 .9 .9 .9 1 1 .7 1-2.3 .9-2.2 1.2-2.1-.1-2.4-.7-.4-1.3 .7-1 .3-1.1-.1-1.2 1z"/>
<path fill="#5a961e" d="M322,7.8l-.9 2.4-.7 2.4-.5 2.9-.6 2.5-.3 2.9 1.1 .2 1.2 .1 1.1-.3 1.1-.2 .1-2.8-.3-2.7-.3-2.6 0-3.5zM330.7,38.9l1.1 1.2 1.3 .9 1.4 .6 .6-2.8 .5-3.5 .2-3.4-1-1.6-.6-3.5-1.3 .2-1.5 .2-1.2 1.6-.2 3.9 0 3.7zM352.2,114.7l.1 1.2 .3 1 .3 .5 .5-.3 .5-.5 .4-1.4 .1-1.5-.2-.9-.4-.5-.4-.7-.3-1-.4 .7-.2 1.8z"/>
<path fill="#a27e2a" d="M335.9,146.2l-.3-2.5-.5-2.4-1.4 2.3-.8 4.2-1.4 1.5-1.3 1.9-.9 3.8 0 2.7 1.3 .3 1.1 0 1.2-2.9 .2-4 1.3-2.3z"/>
<path fill="#7ea21e" d="M326.3,153.8l-1.5 1.6-1 3.1 .7 3.4 1 .9 .8 1.5 .1 3.6 1.4 .3 1.6-1.6 .6-4.5-.5-1.9-1.1-.9-1.3 .3-.4-3.3zM314.7,86.1l.3 1.7 .9 .6 1 .3 1-.1 .6-2.7 .8-2.5 .4-2.3 .1-2.2-.8-1.2-.9 1.2-1 1.2-1 1.9-.8 1.7zM340.8,117.9l-.2 1.8 0 1.7-.2 1.9 .1 1.3 .7-.7 .6-.4 .4-1.6 .3-1.8 .3-1.7 0-1.3-.3-.9-.5 0-.6 .5z"/>
<path fill="#127e4e" d="M333.1,13.7l-.9 .4-.9 2.8-.8 2.8-.7 2.4-.8 3.3 .8 1.8 1-.1 1.2-.8 1.2-.6 1-1.4 .3-3.4-.1-2.9-.7-2zM332.2,118.5l-1.3 4-.6 3.8 .5 3.1 1.2-2.6 .9-4.5 .1-2.8 .2-3.4 .5-3.9 .2-4.2-.5-2.8-1.5 2.9-.2 3.8 .2 3.2zM352.4,87l.6 .5 .7 1 .8-1.4 .5-2.5 .2-2.8 .2-2.7-.2-1.9-.6-1.2-.5-1.5-.6 1.3-.3 2.9-.2 2.9-.3 2.6zM353.1,101.3l-1 .8-.9 2.3-.7 3 .7 .7 1.1-.7 .6 .3 .5 1.9 .6 1.1 .7-.7 .4-3.1-.1-2.4-.7-.8-.8-.3zM338.5,21.6l-.7 2.4-.6 2.8-.3 2.4 .1 2.6 .9 .1 1-1 .8-.2 .7-1.5 .2-2.8 .3-2.6-.3-2-.4-2.3-.8 .4zM323.5,8.1l-.1 3.3 .4 2.9 .2 2.9 .1 3.6 1 1.1 1.2-1.3 .8-2.3 .1-3.6 .3-3.2 .1-3-.6-1.8-1-.7-1.3 1.1z"/>
<path fill="#5a962a" d="M359.4,122.9l-.2 1.7 .3 .7 .6-.5 .5-.6 .5-.6 .3-1.9 .5-1.8-.3-1.1-.2-.9-.2-1.5-.5 1.6-.5 1.5-.4 1.8zM356.4,53.7l-.2 2.3-.2 2.2 .1 1.8 .6 .1 .7-.4 .6-1.5 .8-1.3 .6-1.7 .1-1.9-.5-1.3-.4-1.3-.7 1.1-.8 .8z"/>
<path fill="#2a962a" d="M355.9,36.7l-.3 1.5 0 2.4 0 2.1-.1 2.3 .1 1.8 .3 1.1 .6-1 .7-1.8 0-2.4 .2-2.3 .1-2.4-.5-.6-.5-.9zM335.2,87.8l-.1 2.4 .5 1.8 .2 2.2 .8-.3 .9-.8 .9-1.3 .2-2.5 .3-2.5 .3-3.1-.6-1-1 .8-.9 .7-.8 1.2zM321,164.4l-1.3 2.5-.4 2.8 1 1.2 .9 1.1 .5 1.9 1.4-.7 1.5-.8 1.2-2.5-.1-3.3-.2-3.1-1.6 1.7-1.3 2.9-.8-1.3z"/>
<path fill="#96961e" d="M324.6,120.4l-.8 2.3-1 2.7 .5 1.8 .5 1.8 .9 .2 .9 .1 .8-.6 .4-2.4 .4-2.8 0-2.4 .3-3-.8-.5-1.1 2.4z"/>
<path fill="#2a9636" d="M329.8,56.9l.3 1.6 .8 .2 .6 .7 .7-.4 .7-1 .6-1.4 .1-1.6-.6-.6-.6-.8-.7-.3-.7-.1-.4 1.9zM335.3,99.3l-.2 2.2 .6 .7 .6 .4 .6 .8 .7-1.4 .5-2.1 .4-2.1 .6-2.4-.4-1.1-.7 0-.7 .9-.9 .6-.7 1.4zM356.1,86.4l-.2 1.7 .3 1.3 .1 1.5 .6 .1 .6-.2 .5-.8 .2-2.1 .1-2 .2-2.2-.1-1.8-.6 1-.6 1.1-.6 1.1zM340.1,139.8l.3 .7 .8-.6 .8-.6 .7-1 .2-2.1 .2-2.3 .1-2.1-.7 .9-.6 1.3-.8 2-.7 1.9zM358,38.3l-.4 1.5 .1 2-.2 2.2 .3 .7 .5 .6 .5-.6 .5-1.6 .3-1.9 .2-2.1 0-1.9-.6 0-.6 .3z"/>
<path fill="#a28a2a" d="M340,5.4l-.5 2.9 .6 2.2 .2 2.8 .8 .8 .9-1.4 .8-2.1 .9-1.8 .7-2.2-.7-2-.4-2.3-.7-1.7-.9 1.1-1 1.6z"/>
<path fill="#2a8a36" d="M356,16.5l.5 .6 .7-.6 .6-.5 .6-1.7 .6-1.6 .3-1.8-.5-1.2-.4-.9-.7-.3-.6 0-.6 1.2-.1 2.2-.4 2.4zM356.1,19.4l-.6 2.2-.4 2.5-.2 2.5 .1 2.6 .1 2.6 0 2.8 .7-.3 .7-1.4 .5-2.7 .5-2.5-.3-2-.4-1.7-.3-2.5z"/>
</g>
<polygon points="263.5,5.7 364,10 318.5,30 196.5,26" fill="#060606"/>
<g clip-path="url(#kbt)">
<path fill="#1e96ea" d="M354.7,12.7l.3-.3 2-.2 .7 .3-.7 .2-1.6 .2zM276.7,6.9l1.3 0 1 .1-.6 .2-1.4 0-.9-.1zM245.5,27.5l.7 .2-.4 .3-1.8 .1-.7-.2 .7-.3zM271.7,27.4l1-.4 2.3 0 .7 .3-1.2 .5-2.4-.1zM297.6,15.8l-1.4 .2-1-.2 .5-.2 1.5-.1 1.3 .1zM233.5,20l-.2 .2-1.5 .1-1-.2 .5-.2 1.6-.1zM300.1,20l-1.9-.1-1.3-.2 1.4-.3 1.8 0 .6 .2zM263.6,6.1l-1.2 .1-.8-.1 .5-.2 1.5-.1 .8 .2zM250.4,27.5l-1.3 .3-2.2 .1-.7-.4 2-.3 1.7 0zM323.1,29.6l-2.5 .2-1.8-.1-.1-.4 2-.3 2 .1zM277.2,24.8l1-.3 1.2 0 .8 .2-1 .2-1.1 0zM340.9,17l-1.1 0-.5-.1 .6-.2 1.3-.1 .2 .2zM289.9,24.7l-.1 .3 1 .3 1.6 .2 1.3 .2 1.4 .3 2-.3 .3-.3-.2-.4 0-.4-.8-.3-2.2-.1-2.3 .3z"/>
<path fill="#1e8af6" d="M327.8,16.7l.9 .2-.4 .2-1.4 .1-.9-.1 .5-.3zM330.6,10.8l-1.6 .2-.8-.3 .7-.2 1.8-.1 .9 .2zM342,15.5l-1.8-.3 1.1-.4 2.3-.1 1.1 .2 0 .4zM257.1,16.4l.5 .3-1.7 .1-1.8 0 .2-.3 1.4-.1zM341.9,17.3l-1.2-.1 .2-.3 1.4-.1 .8 .2 .4 .2zM253.8,28.1l-1.2 .2-1.6 .1-.6-.2 .6-.3 1.7 0zM294.4,15.6l-1.2 .1-.8-.1-.1-.2 1.7-.1 1.1 .1zM279.2,28.1l2.3 .2-1.6 .5-2 .2-2.2-.1 1.4-.4zM298,27.9l.9-.4 2.1 0 1.6 .2-1.5 .4-2.6 .1zM344.4,15.2l.9 .1 .2 .3-1.6 0-1-.1 .4-.2zM345.4,9.2l-1.1-.1 .1-.2 1-.2 1 .1 0 .2z"/>
<path fill="#1ebaba" d="M296.2,27.7l-1.4 .3-1.8 .1-.5-.3 1.3-.4 2 0zM326.2,20.3l-2.1 .3-1.9 .4-2.1 .4-1.2 .4 .3 .4 2.1 .2 2.6 0 2.7-.1 2.5-.2 .4-.5 .9-.5 .2-.5-2.3-.1zM228.1,21.6l.7-.4 2.2-.2 2.5 0-1.3 .5-2.1 .3zM268.5,20.5l.2-.4 2.9-.3 1.3 .3-1.1 .4-2.1 .2zM319.9,14.8l1.4 .2-.6 .3-1.8 .1-1.5-.1 .6-.4zM320.6,25l-2 .1-2.3 .2-2.3 .2-2.5 .2 .8 .3 1 .3 .9 .4 1.5 .2 2.3-.2 2.1-.2 1.1-.4-.2-.4 .2-.4z"/>
<path fill="#1e72f6" d="M291.9,7l-1.2 .1-.6-.2 .3-.1 1.3-.1 .6 .1zM344.2,9l0 .2-1 .1-1.1 0-.1-.3 1.2-.1zM283.1,7.7l-.8 .3-1.9 0-.9-.3 1.3-.2 2-.1zM344.7,17.2l-.4-.3 1-.4 2.7 0-.2 .4-1.1 .4zM285.4,8.1l-.4 .3-1.1 .2-1.5-.1-.1-.3 1.6-.1zM239.9,25.8l-2.5 .3-1.3-.3 1.8-.4 2-.1 2.1 .1zM311.7,15l-1.9 .2-.8-.2 .3-.3 1.8-.2 1.4 .2zM287.7,13.7l-1.1 .3-2.2 .1-.4-.4 1.8-.2 1.8 0zM257.2,27l-.1 .3-1 .3-1.8 0-.3-.3 1.5-.3zM263.1,19.9l0-.3 1.1-.3 1.7 0 .6 .3-1.5 .2zM214.2,26.7l-1.9 .3-2.3 0 0-.4 2.4-.4 2.4 .1z"/>
<path fill="#1ea2d2" d="M276.4,18.7l.4 .4-1.7 .3-2-.1-.7-.3 1.8-.4zM327.4,24.6l1.1 0 .7 .1-.8 .2-1.2 .1-.3-.2zM333,13.9l-2.2 .2-1.4-.2-.6-.3 2.2-.2 1.9 .1zM257.4,18.6l1.2 .2-.5 .3-1.5 .1-1.3-.1 .6-.2zM298.4,28l1.3-.2 1.4 0 .2 .3-1.2 .2-1.3-.1zM335.2,21.1l1.5 .2-1.6 .4-2.2 .1-1.1-.3 1.5-.4zM239.5,13.3l1.1 .2-1.3 .3-2 .1-.4-.2 .9-.3zM240,25.3l-1.5-.2 1.8-.3 2.1-.1 .9 .2-1 .5zM295.8,8.4l-.1 .4-2.6 .1-1.6-.1 .1-.4 2.4-.1zM299.1,22.5l2.2-.1 1.3 .1-.2 .3-1.5 .2-2 0zM296.3,8l-1.1-.2-.4-.3 2-.2 2 .1-1 .4zM336.8,21.9l1.4 .2-.8 .3-1.4 .1-.8-.2 0-.2z"/>
<path fill="#1e8aea" d="M248.7,16.9l-1.3 .2-1.7 0 0-.2 .9-.2 1.3 0zM236.1,19.9l-.8-.2 .7-.2 1.7 0 1.2 .1-1.3 .3zM241.4,20.7l0-.3 1.1-.2 1.9 0 .1 .2-1.1 .3zM351.5,14.8l1.8 0 .5 .3-1.2 .2-1.6 .1-.4-.3zM302.9,16.2l2-.1 1.7 .2-1.1 .3-2 .2-.8-.3zM253.5,21.8l.1 .3-1.3 .2-1.2-.1 0-.2 1-.2zM297.8,17.2l-.2 .2-1 .1-1.4 0 .3-.3 1.4-.1zM286.5,21.9l-.8-.1 .6-.3 1.4 0 .9 .2-.7 .2zM228.2,24.3l2.9 0 .8 .3-2.2 .4-2.6 .2-.1-.4zM275.1,19.6l-.2 .3-2 .2-1.5-.2 .1-.4 2.5-.2zM269.4,25.2l2.3-.1 1.2 .2 0 .4-2.4 0-1.8-.1zM262.2,7.5l-2.5 .3-2.5-.1 .8-.3 1.6-.4 2.4 .1zM352.4,14.5l.8-.3 1.5 0 .7 .2-.2 .2-1.5 0z"/>
<path fill="#1ebaae" d="M241.5,19l2.1-.1 1.3 .2-1.1 .3-1.7 .1-1-.1zM239.7,19.8l2.3 .1-1.6 .5-2.9 .2-1.4-.3 1.2-.4zM292.2,11.7l1.1-.2 1.2 0 .6 .2-.7 .2-1.5 0zM257.3,12.3l1.2-.1 1.4 0-.3 .3-1.7 .1-1.3-.1zM275.7,10.2l-.1 .4 .5 .3 .4 .4 1.9 .1 2.5-.1 2.2-.2 1.7-.3-.1-.3-.7-.4-1.1-.2-1.7-.3-2 0-1.8 .3zM264.5,7.4l-1.1 .3-1 .4-.1 .2 1.9 .2 1.8 .1 2 .1 2.3-.2 1.5-.2 .2-.3-.4-.4-.1-.3-2-.1-2.4 .1zM250.6,22l-2.4 .5-1.9 .6-2.4 .6-2 .5 2.4 .2 3-.1 3.6-.2 3.2-.3 1.2-.5 1.7-.6 .6-.6 .2-.5-3.7 .2zM329,7.8l-1.4 .3-1.4 .2 .5 .3 .5 .3 2.1-.1 1.9-.1 2-.1 .7-.2-.3-.3-.4-.3-2.2 0z"/>
<path fill="#1e7ef6" d="M208.7,26.5l.1 .3-1.2 .2-1.6 0-.2-.3 1.4-.2zM324.4,16.3l1.1-.3 2.4 0-.1 .3-1 .3-1.8 0zM280.7,16.5l1.5-.2 1.9 0-.2 .3-1.2 .2-1.5 0zM266.4,24.6l.5 .3-1.1 .3-2 .1-1-.3 1.7-.2zM325.3,16.8l1.7-.1 .9 .2-.8 .3-1.3 0-1.3-.1zM277.1,11.6l-1.7 .4-2.5 0-.7-.4 1.8-.3 2.4 0zM284.3,10.9l1.6-.2 2.2 0-.5 .4-1.7 .2-1.3-.2zM352.7,9.8l.6-.3 2 0 1.2 .2-1.2 .4-1.7-.1zM282.4,19l2 .2-1.8 .4-2.6 .3-1.6-.3 1.8-.4zM323,19l1.3 .1-.7 .3-1.3 .2-.8-.2-.1-.3zM270.4,27.2l-2.3 .3-2-.2 .8-.5 2.2-.2 2 .1zM245.7,17.3l-1.1 .3-1.3 .1-1.1-.1 .4-.3 1.7-.1zM306.6,18.9l.9 .1 .3 .2-1.4 .1-1.2 0 .3-.2z"/>
<path fill="#1e72ff" d="M306.6,28.1l-.3 .2-1.3 .1-.8-.2 .6-.2 1.4 0zM286.3,20.9l-.9-.3-.3-.4 2.5-.2 1.3 .3-.7 .3zM356.5,14.3l-.9 .1-1.3 0-.2-.3 1.3-.1 1.4 0z"/>
<path fill="#1eaec6" d="M273.9,6.7l.7-.2 1.4 0 .4 .2-1 .2-1.4 0zM218.2,20l2.2-.4 2.4 0 .9 .3-2.3 .3-2.8 .2zM288.9,25.4l-1.7 .2-.9 .3-.2 .5-.8 .4 .5 .3 2 .1 2.3-.2 2.4-.2 1-.4-.6-.3-1.1-.3-1.6-.2zM300,22.5l-2.5 .2-1.4-.3 .7-.3 2-.1 1.5 .1zM317.4,27.4l-1.4 .3-.5 .4 1.6 .2 2.5-.1 2-.1 2-.1 1.6-.4 .3-.3-.6-.3-1.6-.1-2.1 .1-2.1 .1zM224.2,27.1l-1.3-.3 2.3-.3 2.2 0 .6 .3-2.1 .3zM312.6,7.9l-1-.3 2.1-.1 1.8 0-.2 .3-1.4 .3zM273.4,13.1l-2.3 .1-1.8-.1 1.2-.3 1.6-.2 1.7 .1zM311.4,8.5l.2-.3 1.9 0 1.2 .1-.6 .3-1.9 .1zM275.6,6.8l-.6 .3-1.6 .1-.8-.2 .3-.3 1.9-.1zM302.7,5.8l-1.2 .3-.2 .3 1 .3 2 .1 1.8 .2 2-.2 1.6-.2 1-.3 0-.3 .5-.4-1.4-.1-2.5 .1-2.4 .1zM232.7,11.7l-1.8 .1-1.5 .3-1.4 .3-.1 .3 1.9 0 2-.1 2.3 0 1.8-.2 1.1-.2-1.4-.2-1.3-.2zM296,26.3l-2 .5-.3 .5 1.1 .5 1.9 .2 3.2-.1 3.2-.2 1.4-.6 2.2-.5 2.3-.5-.8-.4-3.3 .1-3 .2-2.9 0zM283,22.9l1.7 .2 3.1-.2 3.1-.3 2.6-.1 2.8-.3 .4-.5-.1-.4-1.5-.4-2.5 .1-2.7 .4-2.5 .2-3.1 .3 0 .5z"/>
<path fill="#1ea2de" d="M282.2,16l1-.3 1.6 0 0 .3-.7 .2-1.3-.1zM259.5,15.8l-1.2 .2-1.5 0-.1-.2 1.3-.3 1.1 .1zM312.4,15l-.8-.1 .5-.2 1.5-.1 .2 .2-.2 .2zM340.8,12.2l-1.4 .1-.1 .4-.5 .3-.3 .4 1.3 .1 1.9-.2 2.1-.2 .6-.2-1.3-.3-1-.2zM332.7,20.4l-1.1 .5 0 .5-.4 .4 .3 .4 1.5 .4 2.6-.1 2.4-.3 2.5-.3-.9-.5 .4-.4-.7-.4-1.4-.2-2.5 0z"/>
<path fill="#1e96de" d="M331.9,13l-1.8 .1-.7-.3 1.2-.3 1.9 0 .5 .3zM342.1,22l1 .3 1.3 .3 1.4 .2 1.2 .3 2.2-.1 2.1-.1 .4-.4 .2-.3-.1-.4-1.1-.3-1.6-.2-2.3 .2-1.9 .3z"/>
<path fill="#1eaeba" d="M294.5,19.3l1.1-.3 1.2 .2 1 .2-1.6 .2-1.7 0zM254.4,24.8l-1.4 .2-2 0 .2-.4 2-.2 1.7 .1zM254.4,26.9l1.2-.2 1.3 0 1.2 .1-1.3 .3-1.7 0zM281.6,24l1 .2 2.1 .2 2.2 .1 2.5-.1 2.3-.3 1.4-.3 .8-.4-.7-.4-1.1-.2-2.4 .2-2.5 .2-2.4 .1-1.7 .3zM346,10.9l-1 .1-.9-.1 .2-.2 1-.1 .7 .1zM356.8,8.9l-1.6 .1-1.5 .3-1 .3-.8 .3 .9 .3 .9 .3 1.5 .2 1.7-.3 1.5-.3 1.2-.3 1-.3-.8-.2-1.7-.2zM312.2,9.1l-1.4 .3-1.6 .3-1.2 .3-.2 .4 1.9 .1 1.9 .2 2.3-.1 1.6-.3 1.2-.4 1.1-.3-.6-.4-.9-.3-1.9 0zM237.9,27.7l-2.8 .2-2.5 .5-3.2 .4-2.8 .4 1.1 .4 2 .1 2.5 .2 2.6 .1 3.2-.2 1.8-.5 2-.5-.5-.4-1.9-.3zM236.5,27.2l2-.3 1.7-.5 1.3-.4-.3-.4-.5-.4-2.2 .1-2.6 .3-2.5 .3-2.7 .4 .2 .4 .8 .3 2.8 0zM335.4,25l-2.2 .4-1.8 .5-2.6 .3-1.5 .5 1.9 .4 1.5 .3 2.6 0 2.3-.2 3-.2 1.2-.5 0-.5-.9-.4-1.7-.3z"/>
<path fill="#1ebaa2" d="M334.7,16.9l-1.6 .3-1.9 0-.4-.3 1.5-.2 2-.1zM317.9,7.2l-.1 .3 .5 .3 .7 .3 1.8 0 2 0 1.9 0 1.1-.3 .9-.3-.8-.2-.9-.2-1.4-.1-1.9 0-1.8 .1zM235.3,21.4l-2 .2-1.8 .3-2.1 .4-2.2 .4-1.1 .4 1.1 .3 2.2-.3 2.3-.4 2.2-.4 2.1-.3 1.3-.5zM328.7,27.2l-2.1 .4-1.7 .5-1 .4 1.8 .4 1.3 .3 2.8 0 1.4-.4 1.2-.5 .1-.5-1.7-.3zM196.8,24.1l-1.3 .4-1.4 .4-.6 .5 .6 .3 2.5 0 2.6 .1 2.5-.1 3-.2-.5-.5-.4-.3-.8-.4-.7-.4-2.7 0zM203.5,26.1l-1.2 .5-.8 .5-1 .4-.9 .5 2.1 0 2.9-.1 2.7-.3 2.3-.3 2.6-.4-2.1-.3-.8-.3-1.2-.3-1.8-.2zM335.4,8.9l-3.7 .1-3.5 .2 .3 .6 2.2 .3 3.3 .1 2.4 .3 1.1 .6 2.8-.3 2.7-.5 3.7-.5-2-.5-4 0-3.4 .1zM281.1,5.7l-1.4 .1 0 .3 .3 .4-.1 .3 .5 .3 1.6 .2 1.6 .1 1.1-.3 .3-.3-.2-.3 .1-.3-.4-.3-1.7-.1z"/>
<path fill="#2ac68a" d="M327.1,18.5l-.9 .5-.5 .4 .3 .4 2.3 .2 2.1 .1 2.3 .1 1.3-.4 1.2-.4 1.2-.5-.2-.4-1-.3-2.5 .1-2.7 0zM299.2,30.4l-2.4-.3-3.3-.1-2.5 .6-2.8 .6-.5 .5 3.1 .3 3.9-.4 3.1-.2 1.3 .6 3.6-.1 2.4-.5-.4-.6-3.2-.2zM226.2,13.2l-.8 .4 1 .5-1.1 .6 .9 .4 3.2 .1 3.4 .3 2.7-.6 1.5-.5 .1-.5-.9-.5 .7-.6-3.4 0-4 .1zM335.9,7.7l-1.3 .3 .7 .4 .6 .3 1.1 .3 1.2 .3 2.3-.1 1.6-.3 .8-.4 .3-.4 1.1-.4-1.3-.2-2.5 0-2.4 .1z"/>
<path fill="#36d266" d="M243.2,24.6l-1 .5 .8 .4 1.6 .3 2 .1 3 0 2.6-.2 2.1-.4 2-.4-.2-.4-1.2-.3-2.7 0-2.7 .2-2.7 .1zM314.7,14.4l-1.6 .3-.9 .5-1 .4-1.2 .5 .3 .4 2.6 0 2.1-.3 2.3-.2 2.2-.3 .9-.4-.7-.3-.3-.5-2.1-.1zM356.2,15.5l-2 .1-1.5 .4-1.8 .3 .2 .4 1.8 .1 1.9 .1 1.9 .2 2-.1 1.4-.4 1.5-.3-.2-.3-2.2-.1-1.2-.3z"/>
<path fill="#2ac67e" d="M278.8,20.4l.1-.6-1.7-.5-3-.3-3.6 .4-1.4 .5 1.2 .4 .8 .5-3.3 .4-2.2 .5 1.5 .6 4-.2 3.5-.4 2.3-.7zM362.7,9.7l-1.7 .3-2 .3-1.7 .3-.2 .3 1.5 .3 1.8 .1 2.2-.2 2.2-.2 2.1-.3 .9-.3 .2-.4-1-.3-1.9-.1zM346.3,7.7l-1.2 .1-.2 .3-.7 .3-.6 .3 .7 .2 1.8 0 1.4-.2 1.3-.2 1.3-.2 1.8-.3-.9-.2-1.2-.1-1.8 0zM343.6,20l-1.8 .2-.9 .4 .1 .5 .6 .3 1.4 .2 2.2-.2 2.1-.3 2.3-.2 .5-.4 .5-.4-.8-.3-1.7-.2-2.4 .1zM255.8,6.6l-1.9 .2-1.9 .4-.7 .3 .2 .4 .7 .4 2.9-.1 2.3 0 2.4-.2 1.4-.4 .2-.3-.2-.4-1.1-.3-2 0zM222.6,16.8l-2.2 .2-2.2 .2-2.1 .2-.6 .3 1.9 .1 2 .1 1.9-.3 1.6-.3 1.2-.3zM218.5,20.5l-3.1 .3-3.1 .4-3.5 .2-2.3 .4 .7 .5-.9 .6 2.3 .1 3.4-.2 3.3-.1 2.6-.5 1.8-.5 1.8-.6-.7-.4zM240,13.9l-.5 .4-.4 .3 2.2 .1 2.4 0 2 0 2.1-.1 1.9-.3-.2-.3-1.4-.2-1-.3-2.5 .1-2.4 .2zM296.9,28.2l-1.2 .4 .2 .5 .3 .4 1.8 .2 2.2 .1 2.2-.3 1.7-.4-.1-.4-1-.3-.8-.4-2.6 .2z"/>
<path fill="#ffc642" d="M223.7,21.2l-1.4 .3-1.4 .4-.4 .3 1.8 .2 1.4 .2 1.7 .1 1.8-.3 1.5-.4 2.4-.3 .9-.3-1.5-.2-2.1 0-2.4 0zM285.9,7.9l-2.5 .3-2.6 .4-.8 .4 0 .5 2.3 .2 2.5 .1 2.9-.2 3.2-.1 2.2-.4-.5-.4 .2-.5-1.2-.4-2.6-.1zM342.1,10.9l2.7 .1 3.3 0 3.5-.3-.2-.6-.3-.4 2.4-.6 1.8-.6-2.1-.2-2.6 .3-2.7 .5-.5 .4-.3 .4-2.4 .5z"/>
<path fill="#2ad272" d="M246.8,17.7l-1.4 .4-.9 .4 .8 .3 2.4 .1 1.8 .2 2.2-.2 1.6-.4 2.4-.3 1.1-.5-2.6-.1-2.4 .1-2.5 0zM214,16l-.5 .3 .3 .3 .1 .4 1.5 .1 2.3-.2 2.3-.2 1.8-.2 .3-.4 .1-.4-1.2-.1-2.2 0-2.4 .2zM236,17.1l-2.3 .4-2 .5-1.6 .4 .9 .4 3.2 0 2.3 .2 2.7 0 2.6-.3 1-.5 1.4-.5-.8-.4-1.6-.3-2.8 0zM304.5,13l-1.1 .3 .5 .3 1.9 .1 1.8 .1 1.7 .1 1.8 .1 1.5-.2-.4-.3-.3-.3-.1-.3-1.8-.1-2 .1-2 0zM274.4,7.3l-1.3 .3 .5 .3 .4 .4 .9 .2 2.2 .1 2.2 .1 2-.3 1.3-.3 1.7-.3-1.9-.2-1.8-.2-1.7-.1-2.4-.1zM275.7,6l-1.3 .2-1.1 .3-1 .3 .9 .2 1.8 0 2 0 1.7-.1-.1-.3-.2-.3 0-.3-.7-.2zM309.2,30.7l-1 .4 .2 .4 .9 .3 1.8 .1 2.2 0 2-.1 1-.4 .3-.5-.4-.4-2-.1-2.4 .2zM234.2,15.5l-.3 .5-.2 .5 1.2 .4 3-.1 3 .1 2.4-.4 2.2-.4 1.5-.5-.5-.4-.9-.4-3.4 .1-2.8-.1-2.7 .3zM188.3,28l4.6 .4 3.5-.4 1.7-.9 3.3-.9-4.7-.1-4.1-.2-5 .2-4.3 0-4.1 .1-2.4 .8-1.8 .9 5.3-.1 5.6-.3zM362.6,12.6l-1.5 .3-.8 .4-1 .4-.3 .4 1.8 .1 2 .1 2.3-.2 2.1-.1 1.8-.4 .4-.3-.7-.4-1.4-.3-2.5 .1zM299.3,6.9l-2.3 .2-2.2 .3-1.9 .3 .7 .3 .7 .3 2.5 .1 2.5 0 2.4-.1 2.5-.2 .7-.4 .1-.3-1.2-.2-2.5-.1z"/>
<path fill="#a2ea36" d="M287.5,6l-.5 .4 0 .3-.6 .4 .5 .3 1.3 .1 2.4 0 1.9-.3 2.4-.2 1.5-.3-1-.2-2.2-.1-1.7-.2-1.9-.2zM356.7,7.9l.3 .5 .4 .3 1.9 .3 1.8 .2 1.8 .2 2.3-.1 2.9-.1 .2-.4-.6-.3-2.1-.2-2-.1-2-.2-2.2-.2zM238.6,12.6l-.4 .3 .1 .4 0 .3 2 .1 2.4-.2 2.2-.2 1.8-.2 .1-.4 .2-.3-1.1-.3-1.4-.1-2.1 .1-2.1 .2zM265.4,11.1l-1.2 .3 .1 .4 .5 .4 2 .1 2.3 .2 2.6-.1 1.4-.5 1.7-.3 .1-.4-.8-.3-.8-.3-2.7 .1-2.6 .2zM257.4,10.8l-2.9 .2-3 .1-2.8 .2-1.4 .3 1 .3 1.9 .3 2.4 0 2.9 0 3 0 1.8-.3 .6-.3 1.1-.5-2.3-.1z"/>
<path fill="#5ade4e" d="M278.8,17.5l-1.4 .3-.9 .3-1.2 .4 .4 .3 1.8 .1 1.6 .2 1.6-.2 1.1-.4 1-.3 1.4-.3 .1-.3-1.9 0-1.7-.1zM260.2,22l-1.7 .4-1.5 .5-.5 .6-.7 .5 2.2 .4 2.8 .2 3.2-.2 3.4-.1-.4-.6 .4-.6 0-.5-2.2-.3-2-.3z"/>
<path fill="#36d25a" d="M312,19.8l-1.1 .5-.4 .5 2.4 .3 1.7 .3 2.1 .4 2.3-.5 2.4-.4 1.9-.5 1.9-.5-1-.4-3.3 .1-2.9 .1-2.9 0zM272.2,12.5l1.6 .2 1.9 .2 2.4 0 2.5 .2 2.5-.1-.1-.4 .6-.4-.3-.4-.6-.3-2.2 0-2.5 0-2.1 .3-2.3 .3zM223.7,26l-2.1 .2-1.9 .3-2.4 .3 .3 .4 1.1 .3 1.4 .2 2.1 0 2.3-.3 2.1-.3 1.3-.4-1.2-.3-1.5-.2z"/>
<path fill="#eaea36" d="M349.9,14.1l-1.9 .3-1.8 .2-1.2 .3 .2 .3 1.2 .3 1.6 .2 1.2 .3 1.7-.2 1.7-.3 1.5-.3 0-.4-1.1-.2-1.4-.2zM289.1,13l-.1 .9 1.3 .9 5.5 0 4-.8 1.7-1 3.1-.8 2.1-.8 .7-1-5.5-.2-4.1 .8 .9 .8 1.2 .8-4.6 .3zM301.5,15.7l-1.6 .2-.8 .5-1.4 .4-.3 .4-.1 .5 2.4 .1 2.8-.3 2.4-.1 2-.4 1.3-.4-.7-.4-2.3-.1-1.8-.2zM240.1,21.8l-1.5 .3-.4 .4-.1 .5 0 .4 .4 .4 1.9 .3 2.4-.3 1.9-.5 1.7-.5 1.2-.4 .1-.4-2.6-.1-2.6-.1z"/>
<path fill="#1ec696" d="M367.6,10.7l.5 .4 .2 .3 .7 .4 1.3 .2 2.1-.2 1.5-.4 2.2-.2-1.4-.3-1.6-.2-1.3-.2-1.4-.3-1.9 .1zM243.6,26.1l-2.1 .3-1.5 .5-1.8 .5 2 .3 1.4 .3 2 .2 2.1-.5 1.7-.5 2.4-.5 1.8-.5-2.2-.2-3.1 .1zM306.4,29.2l-2.1 .3-1.6 .4 0 .4 2.4 0 2.2 .1 2.1 0 2.4-.1 2-.3 .3-.3-.9-.4-.6-.3-1.3-.2-2.4 .2zM255.6,5.1l-1.1 .3 .1 .3 .7 .2 1.5 .2 2.3 0 1.9-.2 1.4-.3 .5-.3 .3-.3-.2-.3-1.2-.1-2.2 .1-2.2 .2zM310.3,26.4l-2 .3-1.5 .4-1.4 .4-1.3 .4 .6 .4 1.3 .3 1.8 .1 2.5-.1 2.6-.3 .3-.5 .6-.4-1.2-.3-1-.4zM284.3,11.4l.2 .3-.1 .4 .2 .3 0 .4 1.7 .1 1.8-.3 .9-.3 1.2-.3 .6-.4 1.3-.4-1.6-.1-2.2 0-2.1 0z"/>
<path fill="#42de4e" d="M310.5,10.8l-1.6 .4-1.2 .4-1.4 .3-1.1 .4 1.3 .2 2 .1 2.5 .1 2.5-.1 1.2-.4-.2-.4-.1-.3-.1-.4-1.4-.3zM227.2,16.9l-2.5 .3-1.5 .4-1.4 .4 1.9 .2 1.5 .3 2.4 .1 1.9-.4 1.6-.4 1.6-.4 1.2-.4-.9-.3-3.1 .1zM254.9,9.7l0-.6-2.8-.2-3.4 0-3.9 .7-4.3 .2-3.9 .2-3.8 .7 2.1 .5 3 .5 4.5-.1 3.1-.6-.9-.7 4.6-.3zM206.7,19.4l.9 .3 2.6 0 2.1 .1 2.3 0 1-.3 .3-.4-.1-.4 .5-.5-2.1 0-1.9 .1-1.7 .4-1.7 .3zM265.7,5.8l-1.7 .2-1.5 .2 1.2 .3 .4 .3 .9 .2 2.1-.1 2.1-.1 1.4-.2 1.4-.3 .4-.3-.7-.2-2 0-2-.1zM214.2,20.8l-.3-.6-4.2-.1-4.1-.2-4 .6-3.3 .8-2.5 .7-.3 .8 .3 .7 4.4-.1 4.5-.2 .9-.8 .2-.7 5.3-.5z"/>
<path fill="#c6ea36" d="M310.5,17l-1.9 .3-2.3 .3 .7 .4 1.3 .3 .6 .4 1.1 .3 2.2-.3 2.1-.3 1.4-.4 1.6-.3-.8-.3-1.9-.2-1.8-.2zM329.4,13.7l-3.9-.3-2.6 .7-1.4 .5 1.3 .6 3.1 .2 .9 .6 1.1 .7 3.1 .2 3.4-.6 1.8-.7-1-.5-2.8-.2-1.5-.7zM340.3,11.5l-.7 .3 2 .3 1.5 .3 1.7 .2 1.7 .4 1.7-.3 1-.5 1-.4 .8-.5-.5-.3-2.7 .2-2.6 0-2.4 .2zM278.7,24.6l-3.6 0-3.7 .1-3.1 .4-1 .7 0 .5 4-.1 3.9-.1 1.6 .4 2.9 .2 2.9-.3 .9-.7 1.8-.7-3.3-.2z"/>
<path fill="#36de4e" d="M285.9,9.9l-.8 .3 .8 .4 1.3 .2 2.5 .1 2.6-.1 2.6-.1 2.2-.2 .6-.4-1.2-.2-2-.2-1.3-.3-2.6 .2-2.4 .1z"/>
<path fill="#96ea36" d="M322.3,15.6l-1.8 .2-1.9 .2-1.9 .3-2 .3 .2 .3 1.6 .2 1.5 .2 1.9-.1 1.6-.4 1.9-.3 2-.3 .2-.3-1.3-.2zM269.8,22.6l-1.1 .4-.2 .5-.2 .5 1.3 .3 3.1-.1 3.1 0 2.9-.1 1.2-.6 1.2-.4-2.1-.3-2.3-.2-1.8-.3-2.3 .1z"/>
<path fill="#d2ea36" d="M219,18.3l-1.5 .3-.5 .4 .1 .4-.4 .4 1 .2 1.7 .2 2.3-.1 1.3-.5 1.7-.3 1-.4-1.4-.2-1.3-.2-1.9-.2zM267.5,4l-2 .3 .5 .5-.1 .4 1.6 .3 3.4 0 2.7 .1 3.3-.1 2.7-.3 .1-.5-.3-.4-3.7 .1-3 0-2.4-.1zM261.2,10.7l1.9-.5 1.1-.5-.2-.5-2.2-.2-2.9-.2-1.3 .5-1.6 .4-2.9 .3-4.5 .2 .3 .5 2.3 .1 3.7-.2 3.3-.1zM319.4,18.1l-2.2 .1-2.2 .3-1.3 .4-2.2 .4 .7 .3 2.5-.1 2.3 0 2.6-.1 2.4-.1 2.2-.2 .2-.5-.9-.2-1.8-.3zM291.8,15.2l-1 .5-.4 .4-.2 .4-.8 .5 1.8 .3 2.5 .1 2-.3 1-.4 1.1-.4 1-.5 .6-.5-2.1-.2-2.6 0zM331.9,6l-1.5 .1-1.4 .2-1 .3-.4 .3 .7 .2 .3 .3 1.8 0 2 .1 1.5-.2 .1-.3 .3-.3-.8-.2-.7-.3z"/>
<path fill="#deea36" d="M259.8,27.4l-3.9-.5-3.3-.3-3.3 .9-5.6 1 4.8 .2 6.9-.4 4.7-.5 4.1 .4 5.6 0 3.6-.9 1.7-.9-5.9 .2-5.6 .1zM267,29l-3.6-.5-3.8 .1-4.3 .6-.3 .9 2.5 .6 4.6-.2 3.9-.1 1.8 .6 3.6 .5 4.4-.6 .2-1-2.6-.3-4.5-.1zM260.5,15.8l-1.4 .9-1.7 .8 4.2 .3 1.5 .7 .7 .9 5.1-.5 3.7-.5-2.7-.3-4.2-.5 2.7-.6 3.9-.8-.7-.7-5.6 .3zM338.2,19l-1.6 .1-.7 .4-.5 .4 .6 .2 1.9 0 1.9-.1 1.6-.2-.8-.3-1.2-.3z"/>
<path fill="#8aea42" d="M323.9,22.9l-.4 .4-.3 .3 .1 .4 1 .3 2.1-.1 2.2 0 1.9-.2 1.2-.3 .2-.4-.3-.4-1.2-.3-2.2 .1-2.1 .1zM309.1,23.3l4.3-.4 2.5-.6-2.2-.5-2.6-.3-2.8-.1-3.5 .5-3.5 .3-3.5 .1-2 .6-.6 .8 2.6 .4 4.3-.6 3.6-.4zM326.5,16.4l-1.9 .2-1.5 .2-1.8 .3-1.6 .3 .8 .3 1.6 .1 1.5 .2 1.8 .1 1.2-.3 .8-.3 .2-.4-.5-.4zM299.3,24.2l-.3 .4 .3 .5 .6 .3 1.8 .2 2.6-.1 2.4-.2 1.6-.3 0-.5 .4-.4 0-.4-2.1-.2-2.5 .1-2.1 .3zM337.3,11.9l-2.5 0-3.4 .2-3.2 .2-2 .4 .6 .5 3.1 .1 1.1 .6 1.2 .3 2.7 .2 1.4-.6-1.2-.5-2.3-.3 2-.5z"/>
<path fill="#7eea42" d="M314.5,12.7l-.1 .4 .3 .4-.1 .4 1.2 .2 2.5 0 2-.3 1.7-.3 1.6-.3-.1-.4-.5-.3-2 0-2.1-.1-2.3 .1zM246.7,7.8l-2.4 .4-1.9 .3-2 .2-2.8 .3 .2 .3 .6 .3 2.8-.1 2.3 0 1.9-.3 1.7-.3 2.5-.3-.5-.3-.4-.4zM250,12.4l-1.7 .4-.6 .5 .9 .4 1.8 .3 2.4 .1 3-.1 2-.5 1.7-.4 1.8-.4 .2-.4-2.4 0-3.1 0-3 .1z"/>
<path fill="#2ad266" d="M316.7,11l-.9 .2-.1 .3 .6 .3-.1 .4 2 0 2-.1 2.1 0 .5-.3 .6-.3-.3-.3-.9-.2-1.8 0-1.9-.1zM358.9,12.4l-2 .2-1.9 .3-1.9 .2-1.9 .2-.6 .4 1.4 .2 1.4 .3 1.9 .1 1.8-.2 .9-.4 1.2-.3 .7-.4 .2-.3zM319.8,31.5l-1 .4-.8 .4 .5 .4 2.6 0 2.2 .1 2.3-.2 1.9-.3 1.5-.4 .7-.5-.7-.4-2.3 0-2.3 .1-2.7 .1zM278.1,17.1l1.8-.4 1.8-.5-.3-.3-2.7 0-2.7-.1-2.6 .2-.1 .5-2.3 .4-2.6 .4 1.8 .3 1.9 .3 2.7-.1 1.4-.4zM352.6,11.2l-1.1 .3-.8 .4-.7 .3-1.1 .4 .2 .4 1.8 0 2-.3 1.9-.2 1.5-.3 1-.2-.2-.4-1.5-.2-1.1-.3zM292.8,29.6l1-.6-.4-.6-1.6-.4-2-.4-3.5 .3-1.9 .7-2.1 .6-1.5 .7-.1 .6-.4 .7 3.6 .1 3-.6 2.5-.7zM295.4,8.7l-1 .2-.2 .3 1.2 .2 1.1 .2 1.2 .2 1.4 .1 1.3-.2 .5-.3 .6-.3 .4-.3-.7-.2-2.1 0-1.9 0z"/>
<path fill="#36de5a" d="M318.8,8.3l-2.1 .2 .2 .4 .9 .3 1.3 .2 2.2 .1 2.2-.2 1.7-.2 .6-.4-.1-.4-2.2-.1-2.5 .1zM357.8,14.7l-.9 .3 1.2 .2 1.4 .2 1.6 .2 1.5 .2 1.5 0 .6-.3 .2-.4 .3-.3 0-.3-1.9 0-1.7 0-2.1 0zM225.6,15.3l-1.7 .3-.4 .4 0 .4 2.1 .2 2.3 .1 2.7-.1 2.4-.2-.3-.5-.1-.3-2.5-.1-2.2-.1zM259,24.7l-2.6 .4-2.3 .5-1.9 .5 1.7 .3 1.8 .3 1.9 .2 2.2 .1 2.1-.3 .9-.6 1.5-.5 1.2-.5-1.2-.3-2.2-.2zM247.8,16.2l-1.9 .4-1.8 .3 1.2 .4 1.9 .1 2.3 .1 2.5-.2 2.8 0 1.4-.3 .5-.5 .3-.3-1.7-.1-2.7 .1-2.4-.1zM338.8,18.1l-.4 .3 .5 .3 1.2 .2 1.1 .3 1.2 .2 1.8 0 .9-.3-.4-.4 0-.3-.2-.3-.4-.3-1.9 0-1.9 .1zM268.5,9l-1.5 .3-.5 .5-1.5 .5 0 .5 3.1-.2 2.9-.1 3.2-.2 2.6-.4 2-.4-.4-.4-1.7-.3-2.6-.1-2.8 0z"/>
<path fill="#baea36" d="M222.5,24.4l2.2-.6 0-.6-3.9-.3-2.3-.5-4 .5-4.7 .2-4.6 .3-1.8 .6 1.1 .7 1.7 .6 3.9-.1 4.3-.7 4.7 0zM215.3,26.6l3.6-.3 5-.7 4 .4 4.1-.3 6.5-.6 1.2-.6-3.2-.4-6.7 .4-5 .2-5.1-.1-5.4 .1-3.9 .7 1.6 .7zM326.9,29.4l-2.5 .3-2.5 .3-2.6 .4-.8 .4-.3 .5 3.6-.3 2.6-.1 2.7-.2 2.7-.1 .8-.6 1.2-.5-1.9-.3z"/>
<path fill="#72ea42" d="M184.4,24.4l-3.1 .3-2.6 .4 .5 .4 2 .2 2.4 0 2.6 .1 2.9 .2 1.6-.5 1.1-.5 1.5-.5 0-.5-3.3 .2-2.7 0zM277.6,27.3l-2.6 .3-3 .4-2.5 .4-.9 .6 1.9 .3 2.8 .1 3.3-.1 3-.1 2.6-.4 1.3-.5 2.1-.6-2.3-.3-2.8-.2z"/>
<path fill="#66de42" d="M280.5,20.8l-1.8 .2-1.4 .4-1.5 .3-.4 .3 1.4 .3 1.7 .2 1.7 .2 2-.1 .4-.4 .3-.4-.4-.4-1.2-.2zM309.2,19.4l-1.9-.6-1.7-.8-3.8 .1-4.4 .3 1.1 .6 2.8 .6 2.3 .5-4.5 .6-.8 .7 2.5 .4 4.2-.5 4.6-.3 .2-.9zM315.9,28.5l-1.5 .4 .6 .5 .5 .5 1.2 .3 2.2 .1 2.6-.2 2.8-.4 1.8-.4-1.2-.4-1.3-.4-2.5 0-2.6-.1zM339.6,15.6l.4 .2 1.4 .3 1.3 .2 1.1 .3 1.2 .2 1.6-.1 1.6-.2-.6-.3-1.4-.3-1-.2-1.3-.3-1.5-.2-1.9 .2z"/>
<path fill="#4ede4e" d="M286.1,15.6l-1.2 .3-1.2 .3-1.4 .4-.9 .3 1.3 .2 2.1 0 2.1 .1 1.6-.2 .3-.4 .1-.4 .7-.4 .1-.3-1.5-.1zM292.4,5.3l-1.4 .2-1.7 .3 1.9 .1 1.7 .2 2 .1 1.7 .1 1.8 0 1-.3 0-.3-.8-.2-2-.1-2 0zM271.9,15.3l3.4-.5 3.2-.6 2.7-.6-1.4-.3-3.3-.1-3.7-.2-2.4 .5-.8 .6-3.8 .2-3.8 .3-.5 .6 1.5 .4 4.5-.2zM346.7,17.6l-.6 .4 .8 .5 .1 .5 1.8 .2 2.3 .2 2.2-.2 1.3-.5 1.5-.5 .4-.4-.8-.4-2.5-.1-2.3-.1-2.3 .1z"/>
<path fill="#1eaed2" d="M329.9,17.3l-1 .3 0 .3 0 .2 1.3 .1 2.1-.1 1.8-.1 1.9-.1 1.3-.3-.3-.3-.8-.2-1.1-.2-1.7 .1-1.7 .1z"/>
<path fill="#ff8a42" d="M215.5,27.2l-5 .5-1.3 .8 .6 .7 2.1 .5 5.3-.4 4.4 0 4.7-.3 5.6-.7 2.9-.8-3.4-.3-5.7 .3-4.3 .6-3.3-.4z"/>
<path fill="#2ac696" d="M294.5,11.2l-1.2 .3-1.1 .3-.9 .4-1.5 .4 1.3 .2 2.4-.1 2.2 0 2.6 0 .3-.4-.4-.3-.6-.4-.5-.3-.5-.4z"/>
<path fill="#f6d242" d="M261.7,18.6l-3-.1-3.1 .4-2.8 .6 2.3 .5 3.1 .2 .8 .5 1.1 .5 3.5-.1 3.1-.5 .4-.4-.6-.5-3.4-.1-.7-.5z"/>
<path fill="#2ad27e" d="M304.2,8.6l-.4 .4-1 .3-.7 .3 .5 .3 1.7 .1 2-.1 1.2-.3 1.6-.2 .6-.3-.5-.2-1-.3-1.3-.2-1.5-.1z"/>
<path fill="#aeea36" d="M311.8,14.3l-2.3 .2-2.2 .2-2 .2-2.3 .3-.1 .3 1.6 .2 1.8 .2 2 .1 1.4-.3 1.3-.4 .9-.4 1-.4z"/>
</g>
<polygon points="376.7,26 498.7,30 498.2,168.5 392.7,139" fill="#060606"/>
<g clip-path="url(#kcf)">
<path fill="#127eae" d="M500.8,127.5l-.6 1.1-1.6 .1-.7-1.6 .3-1.4 1.9 .2zM395.5,48.8l-1-.9 0-1.3 .9-.6 .7 1.1 .3 1.3zM417.7,130.3l.4 1.2-.6 .9-1.3-.5-.5-1.5 .9-.5zM473.8,165.2l-1.1-1.4 0-1.2 1.2-.1 1.2 .9-.1 1.3zM464.1,44.4l-.5 1.4 .1 1.7 1.3 2.2 .4 2.4 1.1 1.8 1.7-.5 1.6-1.1 1.7-1 1.3-1.4-1.6-1.3-1.8-1-1.7-1.2-1.9-1.3zM470.5,137.7l.6-.8 1.1 .2 .4 1.1-.4 .6-1.1 .1zM432.5,98.3l-.6 1-.1 1.5 .5 1.9 0 1.7 1.1 1.2 1.6 .1 1.5 .2 1.4-.1 .3-1.6-.3-1.6-.9-1.5-1.4-1.1-1.6-1zM428.2,96.7l.7 .8-.7 .5-.7-.1-.5-.9 .3-.8zM470.9,94.9l-1.8 .1-.6-2 .7-1.8 1.9 .9 1.7 1.9zM389.2,34.4l-1 1.2-.6 1.5-.8 1.3 1 1.4 1.4 1.1 1.5 .7 1.4 1.2 1.4-.3-.2-2.1 .2-1.8-.2-2-.9-1.3-1.6 0z"/>
<path fill="#1266c6" d="M447.2,124.2l-1.4-.2-.8-1.3 .1-1.3 1.4 .1 1 1.3zM485.8,81.4l1.1-1.1 1.6 .8 .1 1.6-1 .8-1.7-.4zM491.3,118l.3 1.9-1.6 .2-1.4-.6-.4-1.6 1.3-.9zM392.5,135.3l.1-1.4 1.2 .3 .7 1 .2 1.3-1.1-.1zM407.8,73.7l-.7 .7-1-1-.1-1.1 .8-.3 .9 .5zM459.1,87.9l-1.3-.8-.8-1.4 1-1.2 1.5 .8 .4 1.4zM464.1,158.7l1.2-.1 1.2 .9-.1 1.2-1 .6-1.5-1.2zM469.6,157.3l.7 2.1-1.8 .2-1.3-.8-.4-1.4 1-.7zM407.8,49.3l.7-.6 .8 .5 .3 1-.6 .7-1.1-.3zM395.7,127.6l.4 1.5-.9 .5-1.2-.7-.2-1.4 .6-.9zM431.2,113.8l.4 2-1.3 .2-1.4-.5-.5-1.7 1.1-1.1zM476.5,163.4l.7-.8 1.5 .4 .3 1.4-.8 .6-1.1-.5z"/>
<path fill="#12968a" d="M395.4,90.1l-.3-1.6 1.3-.7 1.5 1.5-.1 1.8-1.4 .4zM423.6,145.8l-.5-.8 .3-.7 1 .1 .4 1.2-.5 .4zM420.4,117.8l-.8 1 0 1.9 0 1.8 1 1.8 1.7 .6 1.5 .2 1.8 .2 1.8-.1-.2-2-.5-2-.9-2.1-2-.4-1.8-.7zM484.9,44.5l-1.4-1.4-.3-1.9 1.6-1.3 1.8 1.5-.1 2.1zM429.9,107.9l.6 1.7-1.3 .4-1.4-.6 0-1.4 .7-1.3zM452.1,97.9l1.3 .3 .9 .8-.3 1-.9 .4-1.3-1zM480.2,27.6l-1.3 2.2 1.3 2.2 1.7 1.6 2.2 1 2.2 .9 1.5-1.6 2-1.6 1.4-2.1-1.2-1.8-1.8-1.2-2.2-1.1-2.3-.2-2.4-.4zM469.8,133.4l.5 .7 0 .8-.9 0-.6-.8 .3-.7zM378.6,67.1l.4 1.8 .6 1.7 .9 1.8 1.1 1.2 1.4 .6 1.1-.6 .9-1.1 .2-1.3-.8-1.7-.9-1.7-1.1-1.7-1.3 .1-1.3 .2zM390.3,94.1l-1-.4-.7-.7 .3-.8 .7-.3 .5 1zM422.4,105.8l-1.2 .3-.9 .9-.7 1.3-1.1 1.1 .6 1.9 1.1 1.4 1.6-.1 1.6 0 1.7 .2 .8-.7-.4-1.5-1.2-1.6-1-1.5zM396.7,120l.3 1.6-.3 1.5 .8 1.2 1.2 0 1.2 0 1.2 .2 1.2-.1 .5-.9-.7-1.5-.8-1.5-1-.9-1.4-.2-1.3-.1zM394.6,67.2l.8-.1 .6 .9 0 1.1-1 0-.7-1zM396.9,104l1 2.2 1.2 2 1.4 1.9 1.2 2.2 1.8 1.3 .8-1.3 .6-1.7 .1-2.2 .4-2.1-1.4-1.7-1.7-.5-1.7 .1-2-.6zM391.5,53.8l-.8 .2-.8-1 .3-1 .8-.2 1.1 1zM452.1,68.4l1.2-2 1.4-2.1-.2-2.7-1.1-2.4-2.5-.6-1.8 .1-1.4 2.3-1.5 1.5-.2 2.5 .6 2.7 .6 2.6 1.5 .7 1.6-1.5zM387.9,105l.1 1.6 .5 1.8 .8 1.6 1.2 .3 1.3 .2 1.2-.6 .4-1.4 .3-1.5 .7-1.6-.9-1.5-1.5 .2-1.4 .2-1.3 .4zM410.8,137.6l-.7 .7 0 1.5 .2 1.4 1.1 1 1.4 .7 1-.5 .9-.5 1-.4 1.1-.5-.6-1.2-1.4-.6-1.5-.4-1.2-.7zM411.4,111.5l-2.4-2.2-2.4-1.4-.5 2.6-.7 2.4 1.5 2.3 2.2 .6 2.1 .8 2.4 1.8 2.6 2 1.8-.5-.3-3.1-2.5-1.8-2.4-1.3zM493.9,22.2l.5 2.3 .6 2.2 1.8 1.2 2.2-.2 2-.5 1.1-1.7 .9-2.1-1.2-2.2-1.2-2-1.3-1.5-1.6-1.6-1.3 2-1.1 2.1z"/>
<path fill="#1272ba" d="M441.3,115.4l.6-.9 .9 1 .2 .9-.7 .6-.8-.7zM409,37.9l.7 .4 .5 1.1-.7 .7-1.1-.3-.3-1.5zM381.5,59l-.2 1.4 .2 1.6 .4 1.5 1.3 .3 1 0 1-.6 .9-.6 .2-1.3-.7-1.3-.9-1.2-1-.1-1 .3zM383.2,17.7l-.7 .9 .7 2.1 .5 1.8 .6 1.8 1.2 1.2 1.4 .5 .8-1.4-.1-1.8-.5-1.8-1.2-1.2-1.3-.9z"/>
<path fill="#128aa2" d="M424.1,145.1l-1-1.8 1.4-.2 1.1 .6 .9 1.5-1 .8zM396.5,54.4l.5-.8 1.2 .4-.1 1.3-.5 1-.9-.9zM424.6,133.6l.7-.7 1 .2 1 1.1-.8 .8-1.1-.3zM438.7,100.8l.3 1.8 1.1 1.4 1.7 .5 1.8 .4 1.4-.5-.2-2-.1-2-1.6-.7-1.9-.1-1.6 0zM485.7,112.9l.1-1.6 1.3-1 1.3 1.4 .4 1.7-1.5 1zM397.2,97.9l0 1.5 .3 1.5 0 1.6 1.3 .3 1.2 .2 1.3 0 1.1 0 .3-.9-.9-1-1.1-1.1-1.1-1.2-1.2-1.1zM480.6,116.1l-.5 2-.3 2.1 .5 2.2-.4 2.3 1.4 1.6 2.1-.6 2.1 .1 2.2-.5 1.2-1.3-1.9-2.2-1-2-1.3-1.9-1.9-1.4zM465.6,144.2l-.5 1.3 0 1.7 .2 1.5 2.1 .4 1.7 .4 1.9 .9 2 .7 1.2-.7-1.1-2-.8-1.7-1.7-.9-1.8-.9-1.7-.5zM467.4,64.1l1-1.8 1.7 1.5 .2 1.9-1.3 .9-1.4-.9zM398.2,72.9l-.6 .7-.9-.2-.4-1 .4-.8 .8 .4zM496.8,28.2l1.7-.9 1.8 1 .2 2.2-1.9 .6-1.8-.7zM416.7,124.8l1.6 .5 1 1.8-1 1-1.5-.2-.8-1.8zM423.4,79.1l-.7 .6-.9-.7 0-1 .6-.2 .7 .4zM418.6,27.5l-1.2 1.5-.5 2.2-.6 1.8-.1 2.2 2.1 .6 1.7 .2 1.9 .2 1.6-.5 .2-2.2-.4-2.2 .3-2.7-1.3-1.4-1.8 .1zM406,52.6l1 1.8-.6 1.4-1.2-.1-.9-1.2 .3-1.5zM429.1,115l-.9 .8-1 1.1-.2 1.6 .2 1.6 .6 1.8 1.2 1.3 1.2-.7 1.2-.9 1.4-.7 1.3-.9-1.2-1.6-1.3-1.3-1.1-1.8zM484.3,141.4l-1.1 1.2-.4 1.8-.4 1.5-1.1 1.6 1.2 1.4 1.8 .8 1.8 .3 1.2-.4 .5-1.5 .5-1.4-.2-1.8-.4-2.1-1.6-.7zM396.3,80l-.7 1.2 .4 1.7 1.2 1.2 1.3 1.2 1.2-.3 1.3-.4 .9-.9-.8-1.7-.6-1.7-.7-1.6-1.3 .3-1.2 .4zM497.4,44l0 2.4 .6 2.3 1.2 2 2.2 .9 2.4 .9 1-1.9-.6-2.7-.4-2.6-1.5-1.5-2.3 0zM378.5,70.5l-1.3 .2-.9 1.5-.8 1.5-1 1.1-1.2 1.4 1.2 1.7 1.1 1.7 1.7 0 .9-.8 1.1-1.3 .9-1.4 .5-1.6-1.2-1.9zM431.2,131.1l-1-.2-.9 .9-.5 1-.7 1.1 1.4 .7 1.3 .6 1.4 .4 1.2-.1-.7-1.5-.8-1.5zM395,128.6l-1.5-1-1.9 .9-1.6 .8-2.1 .4 1.8 1.9 2.2 1.1 .6 1.9-.2 2.1 1.6 1.2 1.3-1.2-.3-1.8-.7-2.3 .5-2.2zM400.6,73l1 2 1.5 1 1.5 1.3 1.7 .5 1.7 1.2 1-1.3 .6-1.6-.3-2.1-1.1-1.5-1.7-1-1.7-1-1.7 0-.9 1.5z"/>
<path fill="#125ad2" d="M453.7,34.3l.8-1.5 1.9 .4 .1 2-.8 1.5-1.5-.9zM432.3,94.5l1.4-.2 .6 1.6-.2 1.3-1.3 0-.9-1.3zM402,133.5l.3-.9 1.3-.2 .5 1.6-.1 1.5-1.5-.5zM429.8,78.2l1 .8 .7 1.2-1 .5-.9-.4-.2-1.1zM467.2,132.4l-1.1 .4-.9-.7-.6-1.2 1.1-.5 1 .8zM456.8,135.5l1.7-.1 1.5 1-.1 1.5-1.3 .7-1.4-1.2zM441.2,76.7l1.3 .3 .6 1.3-.6 .9-1-.2-.6-1zM481.9,137.7l-1.1 .3-1.1-.8 .2-.9 .8-.3 1 .5zM448.2,124.1l.9 .6 .5 1.1-.8 .6-1.1-.5-.3-1.2zM431.9,42.1l1.7 1.1 .7 2.1-1.4 1.1-1.9-.4-.5-2.4zM466.4,92.1l-.3 1.5-1.3 .5-1.3-1.1 .4-1.3 1.1-.3zM434.6,33.7l-1.5-.7 0-1.8 1-1.2 1.3 1.1 .9 2zM468.6,93.8l-.7 .5-.8-.6 0-.9 .7-.5 .7 .6zM485.8,79.4l1.3-.1 .6 1.3-.5 1.4-1.5-.3-.4-1.4zM423.5,129.5l-1.2-.9 0-1.3 1-.5 1 1.1 .3 1.3zM416.3,104.7l.8-.4 1.2 .9-.3 1.1-.8 .6-.9-1.1zM491.5,86.3l.7 1.5-.6 1.5-1.7-.5-1-1.5 1.2-.9z"/>
<path fill="#129696" d="M439.6,61.9l-1.1 .3-.9-1 0-1.2 1-.3 1.2 .8zM474.8,42l-1.9-.1-.8-2.1 1.3-1.6 1.9 .4 1.1 2.1zM424.6,144.8l-.8 .8-1.5-.7 0-1.5 .7-1.1 1.5 1.1zM404.4,96.2l-.2 1.5 .3 1.7-.1 1.7 .2 1.9 1.3 .5 1.3-.5 1.3-.4 1.4-.4 .2-1.4 0-1.8-1.3-1.3-1.6-.7-1.5-1.1zM479.2,92.5l.6 1.7 2 1.6 1.7 1.8 2 1.8 1.8 1.1 1.9 0 .1-2.2-.5-2.5-1.1-1.9-1.8-1.5-1.9-2.1-2.2-1-1.6 1.5zM489,10.7l-1.7 1.2-.7 2.2-.1 1.9 1.9 1.4 1.7 1.2 1.6 2 1.6-1.2 1.1-2 1.4-1.9 1.4-2.2-1.8-1.2-2-.7-2.3-.4zM496.7,101.1l1.1 1.5 1.5 .9 1.6 .7-.1-1.4-1.4-1.4-1.5-1.5zM493.8,109.7l-.3 1.7-2-.4-.8-1.8 1.1-1 1.4 .2zM498.7,170.4l-.8-1 .8-.6 1.2 .2 .2 1.1-.5 .7zM381,108l.4 1.8 .3 1.5 .3 1.6 .7 1.3 1.3 .7 1.5 .8 1.1-.5 .8-.9-.3-1.5-.8-1.2-1.5-1-1.3-1.2-1.2-.9zM381,52.9l-.5 1.3 0 1.9 .8 1.5 1.2-.2 1.4-.3 .6-1.6-.7-1.7-1.4-.8zM417.7,36.6l-.5 2.7-.1 2.7-.5 2.8 1.3 2 2.5-.2 2.4 .9 1.9-.4 2-.4-.5-2.6-1.3-2.6-.7-2.7-1.7-1.5-2.2-.1zM423.3,57.6l-.8 1.9 .8 2 1.6 1.4 1.5 1.5 1.3-.5 .8-1.6 .9-1.6 .7-1.6 .4-1.9-1.6-1.5-1.5-1.7-1.4 1.6-1.4 .8zM386.5,141.3l.7 1.3 1 1.2 1 1.2 1.1 1.4 1 1 .8-.5-.1-1.3 0-1.3-.4-1.3-1.2-1-1.3-1-1.3-1.1-1.1 .1zM393,91.2l-.1 1 .9 1.2 1.1 1.3 1.1 1.3 1.2 .1 1.1-.7 .8-.9 .6-1-1-1.5-1-.9-1.3 .1-1.3-.4-1 .4zM392.2,34.3l1.6-1.9 .6-2.6-2.2-1.4-2.5-1-2.1-.3-1.6 2.2-1.6 1.5-1.9 1.2-.6 3 2.5 2.2 2.1-.3 1.4-2.3 2-.8z"/>
<path fill="#1272c6" d="M393.8,41.9l.6-.8 1.1 .4 .9 1.6-1.1 1-1.4-.6zM387.3,40.3l.9 1.4-.6 1.1-1.2 .5-.5-1.7 0-1.8zM487.5,72.8l-.1 1.1-.7 .7-1.2-.5 0-1.3 1-.3zM412,132.6l.9-.5 .9 1 .4 1.2-1 .1-1-.6zM385.1,39.8l.8 2.1-1.1 1.4-1.3-1.2-.8-1.5 .8-1.5zM498.3,139.3l.5 1.6-.3 1.3-1.5-.7-1.3-1.2 1.2-.7zM424.9,23.8l.5 1.1-.1 1.3-1.3 .2-.5-1.5 .3-1.2zM460,31.6l-.2-1.4 .6-1.2 1.1 .6 .5 1.1-.7 .9zM445.4,59l.3-2.1 1.9-.1 1.6 1.7-.6 2.1-1.9-.1zM400.5,118.3l1-.4 .6 1.3 .2 1.3-1.1-.1-.7-1.1zM462.4,120.9l.6 1.5 1 1.5 1.1 1.3 1.7 .3 .6-1.3 .3-1.3-.1-1.4-1.3-1.1-1.1-1.3-1.2-1.1-1.1 0-.5 1.3zM387.2,103.7l1.2 .6 1.2-.3 1.3-.2 1.6-.2-.3-1.5-1.3-1.6-1.4-.5-1.4-.3-.9 .6 .2 1.7zM390.6,75.5l-.6 1-.2 1.3 .3 1.8 0 1.7 .1 1.8 1 1.3 1.4-.5 1.2-.6 1.2-.7-.4-1.9-.2-1.6-1.3-1.3-1.3-1.5z"/>
<path fill="#128a96" d="M403.7,125l-1.3 .2-1.2-.8-.2-1.3 .7-1.1 1.3 1.3zM409.4,37.6l-.1 2.1 .9 2.2 1.1 1.6 1.8 .9 1.7 .3 .8-1.4 .4-1.9 .2-2.2-.1-2.2-1.7-1.3-1.8-1.3-1.7 0-.9 1.4z"/>
<path fill="#128aae" d="M381.7,45.9l.5 1.1-.6 .8-.9-.2-.4-1.3 .6-.6zM432.6,37.7l-1.6-.8-.6-1.6 .7-1.4 1.6 .2 .7 1.9zM366.2,38.3l.4 1.8 1.2 1.1 1.5 .8 1.4 .9 1.4 .2-.4-2.1 .4-1.8-.9-1.5-1.3-.5-1.4-.7-1.5-.6-.7 .8zM389.2,112.5l1.2 1.5 1.1 1.1 1.3 1.2 1.3 1.3 1.3 1.2 .8-.9-.2-1.7 .2-1.6-1.2-1.5-1-1.5-1.4-.4-1.3 0-1.2 .4zM464.7,127.5l-.1 1.9 .6 2.1-.1 1.7 .6 1.8 1.7 1 1.6 .4 1.8 .1 .5-1.5-.4-1.6-.2-1.8-1.1-1.5-1.3-1.7-1.8-.7zM447.9,37.3l-.1 1.9 1.3 2.2 .7 2.4 1 2.2 1.9-.3 2 0 1.7-1.4 0-2.3-1.6-2.1-1-2.1-1.1-2-1.6-.8-1.6 1.2zM497.9,84.7l-.1 2 .3 2.4 1.5 1.5 2 .7 1.7-.3 1.2-1.8 1.2-1.6 1.6-1.6 .1-1.8-2.2-.9-2-.8-2.2-.2-2.1 .5zM503.9,30.3l.5 2.8 .9 2.5 0 2.7 1.5 1.8 2.3 .8 2.5-.1 2.1-.5 .9-1.7-1.2-2.6-.6-2.5-1.6-1.7-2.3-1.1-2.4-.4zM497.9,155l2.3-1.2 3.3-.9 1-1.7 .4-3-4.1-.4-2.3-.1-1.5 2.4-2.4-.3-2.4-1.6-2.3 1.4-.7 2.8 2.5 2.4 3.1-.1zM385.6,53.8l0 1.6 0 1.7 1.1 1.4 1.3 .5 1-.5 1.1-.7 1.3-.6-.1-1.4-.6-1.5-1-1.5-1.2-1.1-1.3 0-.7 1.2z"/>
<path fill="#127eba" d="M438.2,95.9l1.3-.4 .8 1.4 0 1.3-1.2-.2-.9-.7zM390.7,110.6l1 1-.2 1.2-1.1 0-.7-1.2 0-1.2zM436.7,68.8l1.9 .5 .3 2.1-1 1.1-1.7-.3-.2-1.9zM422.2,63l.7-.8 .9-.2 .5 1.2-.3 .9-1 0zM388.3,96.2l-1.2 0-.7-1.8 1-.5 1.2 .2 .6 1.6zM507.5,133.6l-.7 2.4-2 1.5 1.9 2.5 1.3 2.3 1.6 2 2.4-.3 2.6-.5 2.5-.7 .8-2.1-.9-2.3-.9-2.6-2.7-1.2-2.8 0zM393.6,16.1l.5 2.2 1.2 1.9 .8 2.4 1.1 2 1.4-.9 .8-2.1 1.1-1.7 .8-1.9-.4-2.1-1.3-1.7-1.6-.4-1.8 .6-1.9-.3zM395.4,77.6l1.1 .6 1.1-.6 1.3 0 .6-1.1 .5-1.4-.5-1.7-1.3-.9-1.2-.7-1.3-.7 0 1.8 0 1.5 .1 1.5zM404.7,140.6l-.5 .7 .2 1.5 .2 1.4 .1 1.6 1.1 .7 1.3 .4 .8-.8 .2-1.3 .2-1.3 .1-1.2-1.2-.8-1.3-.8z"/>
<path fill="#72ba2a" d="M419.8,93.6l-1.1 .8-.1 1.9 .2 1.9 1.3 1.7 1.3 1.4 1.5 .1 1-.9 .6-1.6 .9-1.4 .8-1.6-1.5-1.3-1.8-.5-1.6-.5zM438.4,79l.8 2.1 .6 2.3 2 .7 2 .5 2.1 .6 .1-2.4 .2-2.2 .1-2.2 .3-2.3-2-.6-1.8-.3-1.5 1.2-1.1 1.5zM385.7,116.6l-.6 1 0 1.7-.3 1.5-.4 1.6 .3 1.6 1.3-.3 .9-.6 1-.6 1.2-.6 .3-1.2-.7-1.6-.6-2.1-1.3-.6zM379.6,34.4l-.4-3.3-.7-3.3-3.1-1.2-2.9-.5-2.5-.9-1.6 2.1-1.9 2.1-.1 3.3 .9 2.6 2.7 .9 2.5 1.3 2.5-.9 2.4-1.2zM422.5,86.4l.5 1.8 .7 1.9 .7 1.7 1 1.2 1.4 1.2 1.3-.1-.8-2.3-.4-1.6-.6-1.9-.6-1.7-.6-1.7-1.2-.6-1.4 .2zM438.6,27.2l.7 2.4 2.1 2.1 2 2.2 2 1.8 2-1.1 2.4-1 1.2-2-.8-2.2-1.6-2.3-2.4-1.5-1.9-2.4-1.9 .7-1.7 1.8zM384.8,142.4l.2 1.5 .3 1.3 .2 1.3 .6 1.2 1.1 .9 .9 0 .8-.4 1.3 0-.1-1.2-1.1-1.2-1.2-1.1-.9-1.2-1-1.1z"/>
<path fill="#1ea266" d="M379.6,58.5l.1-2.5-.5-1.8-1.2-2.3-1.6 0 .1 1.8 .3 2.6-1.2 1-1 1.3 1.2 2.1 1 2.3 1.3 .1 1.5-.4 .5-1.6zM457.9,86l-1.1 1.2-.6 1.5-.9 1.4-.9 1.6 .7 1.7 1.6 .6 1.8 .3 1.8 .2 1.7 .1 .1-1.6-.9-2-.5-2-1.2-1.6zM448.1,133.5l-.8 1.2-.4 1.6-.1 1.5 0 1.8 1.7 1.2 1.4 .8 1.1-1.2 1-1.3 1.2-.9 .9-1.4-.8-1.6-1.8-.6-1.7-.8zM412,104.7l-1.7 .1-2.1 .2-1.8 .9 1.9 2 2.4 1.5 1.2 1.8 1.8 1.5 1.9 1 2.4 1 .3-2.2-1.1-2.8-2.1-1.4-2-1.3zM410.5,143.6l-.8 .6-.2 1.4-.2 1.3 .2 1.5 1.2 1.3 1 1.9 1.3-.4 1.3-.1 .5-1.3 .2-1.3-.6-1.6-1.4-1.2-1.2-1.2zM407.8,140.1l.8-.7-.5-1.9 0-1.5-.9-1.3-1.6-.4-1.6-.8-1.4-.1-.7 1 0 1.7 .4 1.5 1 1 1.6 .5 1.5 .7zM456.1,149.8l.4 1.9 .7 1.9 1.2 1.8 2.1 .2 2.1 .7 1.7 .2 .9-1-.9-2.3-.4-1.9-.6-2.1-2.2-.3-1.9-.1-1.6 .4zM443.8,157.3l-1.1-.6-.6 1.2-.5 1.2-.6 1.1 .2 1 1.2 .4 .8-.7 .8-.8 .1-1.4zM427.7,148.7l1-2.2-.3-2.3-.7-1.7-2.6 .5-2.5 .3-1.9 1.2-2 1.1-2.3 .9 1.6 2.3 2.1 1.2 2.3-.7 .4-2.3 1.8 .1zM460.5,24.3l.2 1.7 1.7 1.5 1.5 1.7 1.7 1.6 1.4 .4 .7-1.4-.1-2.2-.8-2.3-.2-2.5-1.7-1.5-1.8 0-1.3 1.5zM491.2,103.5l1.2 1.5 1.4 1.3 1.5 1.5 1.7 1.1 1.6 .4 2.4 .3 1-1.1-.3-1.9-1.9-1.4-1.7-1.2-1.9-.9-1.9-.5-1.8-.1zM490.9,156.2l-1 1.3-.6 1.6 0 1.9 1.9 1 2.1 .3 2.1 .4 1.6-.5 .5-1.7 1.1-1.4 0-2-1.9-1.4-2.2 .5-1.8 0zM510.4,84.5l-1.8 1.5-1.4 2-1.5 1.8-1.1 1.7-1.4 2.1 1.9 1.8 2.3 .9 2.3-.3 1.3-1.4 .8-2.3 1-2.3 .3-1.9-.5-2.4zM440.3,92.2l-.6 1.5-.5 1.5 .4 1.8 .2 1.7 1.5 .5 1.7-.2 1.7 .1 .9-1.5-.2-1.9-1.5-1.4-1.8-1zM408.8,79.8l0 2.2 .1 1.9-.2 2.2 1.7 1.3 1.8 .5 1.6-.4 1.1-.9 .8-1.5 .5-2-1.1-1.7-1.8-1.1-1.7-.9-1.7-1zM501.7,124.9l.6 1.8 1.4 1.6 1.3 2 1.5 1.3 1-1 .3-1.8 .6-1.8 .1-2-1-1.5-1.9 .1-1.9 .7zM417.2,83l-.8 1.4-.2 1.8-.5 1.6 1.1 1.6 1.4 1.3 1.1-1.2 1-1.4 1.1-1.3 .2-1.6-.9-1.5-1.8-.2zM392.9,70.2l-.9 .7-.6 1.2-.9 1.1 .6 1.3 1.1 1.2 1.2 1 1 .3 .2-1.4 0-1.4 .2-1.5 .1-1.7-.8-1.2zM381.7,18.4l-1.5 .5-1.7 .5 .1 2 .9 2.6 .4 2.2 .2 2.2 1.1 1.6 1.4-.6 1.5-1 1.1-1.3-1.3-1.7-.9-1.9-.7-2.4z"/>
<path fill="#1ea25a" d="M403.2,41.3l-1.1 .5 1.3 2.1 1.1 1.8 1.2 1.9 1.3 1.6 .8-1.6-.3-1.7-1.6-1.5-1.3-1.7zM463.1,58.1l.1 2.3 0 1.8 .4 1.9 .2 1.9 .9 2.3 1.7-.8 1.4-1 1.6-.8-.7-2.2-.2-2-.8-1.9-1-2.2-1.8-.1zM459.8,157.3l-.3 1.2-.3 1.2 .5 1.5 .8 1.3 1.6 .9 1.3 .9 1.1-.2-.1-1.5 .2-1.2 0-1.4-.4-1.3-1.3-.7-1.6-.3zM401.2,78.2l.2 1.6 .6 2 .8 1.9 1.5 1.2 1.4 .2 1.7 .3 .2-1.9 .3-1.7-.4-1.8-1.6-.9-1.4-.9-1.5-.9-1.7-1zM448.4,76.6l-1.2 .8 0 2-.3 2-.4 2.2 1 1.3 1.6-.7 1.8-.4 1.5-.9 .9-1.5-1.7-1.7-1.6-1.8zM410.3,72.8l-.3 2 .1 2.2 1.4 1.5 1.7 1 1.8 1.5 1.1-.9 .4-1.9 .4-1.8 .4-1.9-.4-2-1.9-.8-1.6-.4-1.4 1zM388.2,135.8l-.8 .5 .1 1.7 .1 1.3 1.2 1.1 1.4 1 1.3 .8 1.4 .7 1-.8-.3-1.5-1.4-1.5-1.2-1.3-1.4-.9zM500.5,122.4l1.5 .6 1.8-.7 1.8-.4 .6-1.4-.7-2-.5-1.9-.6-1.8-.7-2.3-1.7 .4-.3 2-.3 1.9-.3 1.8-.1 1.7z"/>
<path fill="#1ea272" d="M450.5,75.6l.7 2.3 2.8 2.7 2.9 1.9 2.6 2.6 3.5 1.6 2.4-.9-.4-3.6-.8-1.9-3.9-.4-1.3-2.5-1.5-3.4-2.6-1.3-3 .4zM476.3,161.9l-1.5 0-.9 1.4-1 1.5-.5 1.4-.6 1.6 2.1 1 1.9 .9 1.9 .8 1.3-.4 1.2-1-.8-2-.7-1.9-.9-1.7zM496.2,60.4l-1.2 2-.8 2.5-.8 2.8 .7 2.2 2.3 1.5 2.5 .2 2.6-1 2.4-1.3 .7-2.9 .1-2.6-.4-2.5-2.5-.8-3 .1zM425.5,156.1l-.2 1.1 .1 1.2 .9 1 1.2 1 1.1 .5 1.1 .4 .2-1 0-1.3-.3-1.3-.1-1.2-.9-1.2-1.2 .2-.9 .5zM396,60.1l-.3 2.5-.6 2 0 2.5 .8 2 1.7 1.8 2 1.5 1.7-.9 1.5-1.3 .4-2.3-.7-2.7-.7-2.6-1.8-1.7-1.9-.7zM480.2,171.8l.6 1.6 .8 1.6 1 1.6 1.5 .9 1.7 .3 .3-1.5 .4-1.3-.1-1.5-.4-1.4-1.8-.6-1.8-.9-1.4 .1zM456.7,59.5l-.1 1.8 0 1.8 1 1.3 1.7 .4 1.8 .9 .6-1.3-.2-1.8-.3-1.7-.1-1.8-1.3-.7-1.4 1zM410.3,128.8l1.9 1.7 2.3-.5-.2-2-1.5-2.9 1.2-1.2 2-.4-.6-1.9-2.5-1.6-2.3-1.3-1.7 .6 .7 2.6 1.6 2.4-.6 2.6zM381,85.9l.3 1.9 .4 1.5 1.6 1 1.3 1.3 1.5 .5 1.5-.3 1.3-.5 .6-1.4-.7-1.8-1.6-1-1.7-.8-1.5-.8-1.2 .5z"/>
<path fill="#12a27e" d="M485.9,17.5l-1.4 1-.2 2.3-.7 2 1.1 1.5 1.5 .9 1.8 .9 1.9 .6 2 .8 0-2.1 0-1.9-1.1-1.8-1.7-1.2-1.6-1.3zM384.5,39l-.5 2.1 .1 2.5 .2 2.3 1.2 2.3 1.6 1.8 1.9 1 1.2-1.2 .5-2.2 1.2-1.8-.1-2.2-1.8-1.3-1.7-1.7-2-1.4zM399.5,45.9l.4 1.5 1 1.3 .9 1.6 1.3 .8 1.4-.2 1.2-.4-.2-1.7-.8-1.4-.8-1.5-1-1.7-1-1.5-1.2 .4-.5 1.6zM382,103.9l-.1 1.5 .1 1.5 1.2 1.1 1.1 1.2 1.3 .8 1.3 1.3 .9-.4 .1-1.3-.7-1.7-.3-1.5-1-1.2-1.3-.8-1.3-.6zM390.2,122.7l-1.1 .2-1 .6-.9 .8-.7 .9 .6 1.4 .7 1.1 1.1-.4 1.2-.3 1.2-.4 .8-.6 1-.4-.1-1.2-1.4-.9zM379.5,89.5l.2 2-.1 1.6 .6 1.6 1.1 1.4 .9 1.9 1.3-.4 1.3-.2 .5-1.3 0-1.6-.2-1.7-1.5-1.1-1.4-1-1.5-1.3z"/>
<path fill="#1eae4e" d="M403,17.8l-1.3 1.1-.8 2-.7 1.8 0 1.8 1.5 .7 2 0 1.9 .7 2 .5 1.5-.8-.4-2.5-.3-2.3-1.7-1.3-2-.5zM507.6,62l-1.2 2-.9 2.1-.5 2.4-.2 2.4 2.3 1.3 2.3 .9 2.7 1.1 1.7-1.7 1.3-2.1 1.8-2.2-2.5-1.7-2.2-1.4-2.2-1.2zM480.8,33l-1.3 2.4-.8 2-.3 2.6-.6 2.4-.3 2.2 1 1.7 2.1-.6 2.1-.8 1.1-1.9 .9-2.6 1.1-2.4-.4-2.3-2.4-1zM413.9,34.1l2-3.1 1.1-3.8-3.2-2.4-3-.7-1.7 2.5-3-.2-3.4-.8-3.8-.7-.5 3.2 2.7 1.7 2.9 1 3.1 1.2 3.3 .6zM395.5,105.7l-.5 1.1-.6 1.2-.3 1.5 .7 1.4 1 1.5 1.3 .7 1.2-.4 1.1-.4 .8-.7-.5-1.4-1.2-1.5-.8-1.8-1-1.7zM440.2,84.7l-.8 1.7 0 2.2-.3 2 1.6 1.7 2.1 1 1.9 .9 1.9-.2 1.5-1.2 .6-1.7-1.1-2.1-1.2-2.1-2.1-.9-2-.5zM387.8,131.1l-.5 1 .4 1.6 .3 1.5 1.3 1 1.3 1.1 1.1 .3 .1-1.5 .1-1.3-.2-1.3-1.2-.7-1.3-.7zM403.9,114.5l-.8 1.2-.7 1.3-.1 1.6 .1 1.6 .8 1.7 1 1.6 1.2-.2 1-1.3 1.5-.4 .1-1.5-.4-1.8-.6-1.9-1.6-1.4zM404.4,124.3l.8 1.4 1.2 1.3 1.1 1.6 1.2 .8 .7-.6 .2-1.4 .5-1.2 .4-1.5-.6-1.4-1-1.7-1.3 .3-1 .9-1.1 .8zM496.7,46.2l-2.7-.2-2 2.7-.6 2.9 .1 3.3 2.4 2.1 2.7 1.6 2.9 0 3.5 1.1 1.8-1.5-.3-2.9-2.2-2.3-2.8-1-1.8-2zM418.7,74.9l-.8 .9-.4 1.5-.3 1.5-.1 1.5 .3 1.4 1.3 .7 1.4 .1 1.6 .5 1-1-.2-1.5-1-1.8-.8-1.5-.6-1.8zM404.2,148.2l.1 1.2 .9 1.6 .8 1.5 .9 1.5 1.4 .5 1.4 .5 .7-.9 .5-1.1-.6-1.6-1.2-1.4-1-1.7-1.4-.3-1.3 0zM454.2,151l-1.3-.5-1.4 .5-1.3 .7-1.2 .6-1.4 .5-.1 1.3 1.5 1.3 1.7 1 1.3 0 1.3-.5 1.4-.6 .7-1-.3-1.7zM487.5,76.3l-2.8 2-2.6 2.1-2.1 2.8 1.2 4.2 3.4 0 3-2.7 2.7-2.1 4.1 1 2.1-1.7 .9-3.5-1.1-4.2-3-3-3.4 2.8zM416.2,46.7l-.4 2-.3 1.8-.1 1.9 1.7 .7 1.7 1.2 1-.7-.8-2.1-.6-1.8-.6-2.1zM445,21.4l1.3 1.8 1.6 1.5 1.5 1.7 1.4 1.3 1.5 .1 1.2-1.5-.5-2.3-1.1-2.2-.5-2.2-1.1-1.8-2-.9-1.6 1-1.3 1.2zM507.3,74.9l-.8 1.1-.4 1.6 0 1.8 .6 1.6 1.7 .7 1.6 .6 1.6-.3 .5-1.6 .1-1.8-.1-1.9-1.3-1-1.8-.5zM473.2,95.7l1.6-2.2-.7-2.8-2.2-2.5-1.7-2.9-2-.4-.1 2.9-1.5 1.3-3.4-.8-.7 1.9 1.3 3.1 1.6 2.6 2.9 1.7 2.6-.5zM487.7,37.4l-1.6 1.1-.9 1.9-.8 2.2-.9 2 1.6 1.4 2.1 .6 2 1.1 1.8-1.2 1.4-1.7-.3-2-1.1-1.9-1.7-1.5zM447.5,85.9l.3 1.8 .7 2.2 1.6 1.5 1.9 .3 1.6-.5 1-1.4 .7-2 .4-1.7 .5-2.2-2-1.3-1.9 1-1.7 .6-1.7 .9z"/>
<path fill="#a2c62a" d="M428.8,47.7l-.5 3.3 2 2.7 2.1 3.1 3.1 1.7 2.3-1.9 .7-3.2-.8-3.6 .9-2.7 1.1-3.8-3-1.9-2.6-.6-1.1 3.6-1.4 2.6zM424.6,37l.3 2.4 .8 2.7 .9 2.8 1.3 1.8 2.1-.4 1.8-1 .7-2.5 1.3-2.2 .5-2.6-1.6-2-1.9-.5-2.4 .1-2.2 .1zM505.3,110.4l1.3 3.5 .9 3.9 2.6 2.4 3.4-.2 .9-3.4-2.1-3-2.1-3.3 2.9-2-.6-3.2-1.6-3.3-3.7-1.4-1.9 2.2-.5 4.1zM412.2,89.2l-.3 1.3 .2 1.6 .3 1.7 .3 1.7 1.4 .4 1.3 .3 1.5 .3 .3-1.4 0-1.6 0-1.5-1-1.4-1.2-1.4-1.4 .2z"/>
<path fill="#5aba36" d="M449.7,121.9l-1.3 2.1 1.5 5 1.3 3.7 3.2 1.6 3.1 2.8 3.3 2.7 4.3 2.7 1-3.9-1.6-3-4.1-1.4-3.9-1-1.7-3.9-2.5-3.7zM450.1,143.1l1 1.7 1.4 1.4 1.3 1.5 1.5 .8 1.5-.6 .9-1.1-.3-1.8-1-2-.5-2.1-1.1-1.2-1.3 .1-1 1.4-1.1 .9zM432.6,130l.9 2.6 1.2 2.3 .1 2.3 1.7 1.9 1.8 2.1 1.8 .7 .8-2.1-.5-2.7-1.5-1.7-.1-2.2 .2-2.6-2.1-.7-1.9 .3zM470.4,81.5l.1 1.6 1.5 2 1.4 1.8 1.2 2 1.4 1.8 1.7-.3 1.3-1.5 .1-2.1-.9-1.9-.5-2.3-1.9-1.7-2-.6-2.3-.2zM431.8,157.3l-.4 .8 0 1.1 0 1.2 .1 1.3 1.2 .4 1.3 .4 1-.4 .6-.9 .2-1-.3-1.4-1.3-.6-1.2-.7zM379.4,116.3l-.1 1.3 .8 1.7 1.2 1.1 1.2 1 1.4 1.4 .4-1.3 0-1.7 .4-1.3-.1-1.3-.7-1.3-1.3-.9-1.1 .5-1 .4zM400.1,139.7l.1 1 .4 1.4 .5 1.3 .4 1.5 .7 .8 1.1 .5 .8-.5-.3-1.4-.1-1.3-.2-1.3-.2-1.5-1.2-.4-1.2-.8zM468.1,34.9l1.2 2.5 1.6 2.5 2 2.4 1.8 1.8 2 .7 .8-2.4 .5-3 1-2.9 .8-3.2-2-1.9-2.7 .8-2.6 .3-2.6 .7z"/>
<path fill="#d2a236" d="M409.8,71.5l2.5-.1 2.2-.9 2.6 1.9 2.9 .8 1.2-2.5-1.1-3.7-1.1-3.3-2.2-.7-2 2.1-2.4-1.1-2.8-1.6-1.5 2.2 .9 3.6z"/>
<path fill="#4eba36" d="M431,83.9l.6 1.7 .7 1.6 1.1 1.6 1.3 1.2 1.6-.5 1.5-.4 .2-1.8 .3-1.9-.4-1.9-1-1.7-1.5 .2-1.5 .8-1.3 .7z"/>
<path fill="#1eae5a" d="M393.5,144.2l-.3 1.1 .3 1.6 .3 1.4 1 1.3 1.3 1.5 1.3-.2 .8-.8 .2-1.3 1-1-1.1-1.4-1.3-1.3-1.4-.7-1.4-1.2zM394.1,35.1l.2 2.5-.4 2.3 .6 2 1.1 2.2 1.9 .8 1.2-1.4 1.1-1.5 1-1.7-.2-2.2-1.2-2.1-1.5-1.7-1.4-2.5-1.1 2.2zM402.7,62l-.1 1.9 .3 1.9 .6 1.9 .6 1.8 1.6 1 1.7 1.1 1.4-.1 .1-1.7-.7-2.2-.3-2-.4-1.9-1.4-.8-1.7-.7zM490.8,126l-.4 1.7 0 1.9 .2 2.1 .5 1.9 .9 1.8 2-.5 1.9-.1 2-.1-1-2.2-.4-1.9-.7-2.1-.9-1.9-1.9 0zM372.9,38l-.3 1.6-.1 1.8-.1 2 .7 1.5 1 1.7 .8-.8 .5-1.4 .4-1.8 .4-1.7-.3-1.8-.5-2.1-1.3 .4zM426,83.7l.2 2.1 .4 1.7 .7 2 .7 1.9 .5 2.4 1.4 .8 1.2-.9 .9-1.5 .7-1.6-1.3-1.9-.9-1.9-1.1-1.5-1.7-1.8zM418.8,141.3l-1.2 .4-1.1 .6-1.1 .5-1.1 .5-.9 .8 1.3 1.2 1.1 .9 1-.3 1.1-.6 .9-.6 1.2-.4 1.1-.8-1-1.3zM459.5,113l-1.5 0-1.5 1-1.5 .6-1.1 .9-1 .9 .4 1.5 2.1 .9 1.6 .9 1.7-.2 1.9 .3-.2-2.1 .7-1.6 .1-1.9zM383,98.8l-.1 1.3-.3 1.3 .9 .9 1.1 .7 1.1 .4 1-.1-.2-1.5 .1-1.4-.3-1.4-1.2-.9-1 .5zM403,52.6l-1.2 1.5-.4 2.4-.7 2.1 .5 2.2 1.7 1.4 2.2 .2 2-.1 1.9-.6 .1-2.4-.4-2.6-.4-2.5-1.5-1.7-1.9-.4zM384.3,65.5l.2 1.6 .8 1.8 1.1 1.8 .9 1.8 1.6 1 1.1-.9 .6-1.7 1.1-1.2-.5-1.7-1.4-1.4-1.4-1.5-1.5-.8-1.4 .4zM491.1,95.5l-.8 1.6-.1 2 1.1 1.5 2 0 1.8-.2 1.4-1.2-.3-1.8-.5-1.9-1.2-1.3-1.8 .4zM456.2,139.1l.4 1.6 .7 1.8 .7 1.8 .6 1.6 1.5 .9 1.9 .6 1.5-.3-.1-1.9-.2-1.6-1.2-1.5-1.7-1-1.5-1.3-1.4-1.1zM449.6,52.3l.6 2.3 1.4 1.8 1.9 1.4 2.1 .6 2-.8 2-.7 .1-2-1.7-2.3-1.1-2.5-1.6-1.5-1.9-.4-2.1 0-1.5 1.7z"/>
<path fill="#7eba2a" d="M436.9,158.6l2.2 1.2 .7-2.1 1.3-1.6 1.1-1.9-1.6-2.1-2.2-.1-1.4 1.2-1.9-.1-2.7-1.4-.9 .8-.7 2 2.1 1.5 2.5 .9zM362,14.1l1 1.6 1.7 1.2 1.6 1 1.6 1.8 1.5 .3 .8-2-.1-2.1-1.2-2.1-1.4-1.8-1.3-1.5-1.6-1.4-.9 1.9-1.4 1zM462.8,68.6l-2.8-2-3.1-1.2-2.2 1.7 .4 3.3 2.4 1.8 1.7 2.3 .7 3.3 2.2 1.3 3.2 .9 2.6-.7-.3-3-.6-2.8-1.6-3.2zM420.5,62.6l.2 2.1 .5 1.9 .5 1.9 .3 1.9 1.1 1.3 1.6-.2 1.3-.9 1.5-.3-.2-1.7-.8-1.9-1.5-1.4-1.4-1.1-1.5-1.9zM483.2,127.6l-.1 1.6 1.1 2.1 1.1 2.2 1.3 1.7 1.3 2.5 1.7-.8 .4-2.3 .3-1.7-.4-2.2-.1-2.4-.8-1.8-2 0-2.1 .2z"/>
<path fill="#7ec62a" d="M418.1,98.1l-2.4-.5-2.2-.2-1.7 .6-.5 2 .5 2.4 .9 2.5 1.6 2 2.2 1.5 1.9-.2 1.4-1.4 1.4-1.7 .3-2.3-2-2.2zM432.6,59.2l-1.2 1-1.1 1.6-1.1 1.8-1 1.9 .2 1.9 .9 2.3 1.8-.9 1.6-.7 1.4-1.5 1.6-1 .9-1.9-.8-2.2-1-2z"/>
<path fill="#12967e" d="M493,29.2l-1.7 1.9-1.3 2.1-1.4 1.8 .3 2 1.5 1.7 1.5 2.1 1.8 1.7 1.4-1.2 0-3.1 .8-2.1 .2-2.4 .6-2.5-1.6-1.1zM470.4,123l-.3 1.8-.8 1.4 .7 1.6 1.6 1.2 1.4 0 1.5-.3 1.6-.6 1.6-.7 .6-1.2-1.5-1.4-1.7-1.2-1.7-1.2-1.6-.1zM470,107.5l-1.3-3.2-3.2 .1-2.4 1.3-1.9 1.4-.6 2.8 1.5 2.6 1.9 2.2 2.1 2.4 2.1 2.3 2.1-.8 .3-2.7 .2-2.6-.6-2.8zM445.2,99.6l-.1 1.9 .3 2.1 .6 1.9 1.4 1.7 1.6-.5 1.4-.9 1.3-.9 .5-1.7-1.4-1.5-1.4-1.6-1.7-.9-1.7-1.1zM464.1,16.2l.3 2 .7 1.8 1.7 1.5 2-.4 1.9-.8 1.2-1.7 .5-1.9 1.1-2.3-.4-2.4-1.9-.1-1.9 1.1-1.7 1.4-1.6 1zM372.5,18.2l-1 1.5-.6 1.8-.4 2.2 1.6 1 1.8 .6 1.7 1 1.5 .3 1.4-.2 0-2.1-.9-2.4-.2-2.6-1.7-1-1.7-.7zM458.9,128.7l-.8 1.3-1.2 1 .3 1.4 1.2 .8 1.6 .6 1.7 .2 1.7 .6 .6-1.3-.3-1.7 0-1.7-.3-1.8-1.5-.3-1.5 .8zM476.5,15.3l-1.5 .9 0 2.3-.5 1.9 1.5 1.4 1.2 1.8 1.5 1.6 1.6-1 1.1-1.7 .4-2.1 .5-2.1-.5-1.8-1.8-.5-1.9-.8zM487.6,105.5l0 1.8 .4 1.8 .5 1.8 .9 1.4 1.7 .9 1.7-.3 1.6-.4 1.2-1.2-.1-1.5-1.5-1.4-1.6-1.3-1.6-1.6-1.7-1zM471.5,61.4l-.5 1.3-.3 1.9 1.2 1.7 1.5 .9 1.7 .8 1.7 .2 1.4-.9 .4-1.8 .8-1.7-.8-1.5-1.7-.4-1.9-.1-1.7-.1zM483,156.8l-1.4 .6-1.2 .9-1.7 .7-1.4 1 .6 1.4 1.7 1.1 1.8-.4 1.6-.1 1.8-.1 2.1-.1 .4-1.1-.5-1.7-2.1-1zM452.8,16.3l.3 2.4 .3 2.6 1 2.3 1.2 1.6 1.8-.3 1.8-1.3 1.2-2.1 1.9-1.6-.5-2.6-1.4-2.2-1.8-1.5-2.1-.1-1.6 1.9z"/>
<path fill="#baba2a" d="M426.9,153.8l.7-2-.4-2.4-2.9-.8-1.7 .1-.3 2.2-2.1-.2-2.7-.8-.6 1.9 1.3 2.2 2.1 2.2 2.6 1.1 1.1-1.1 1.3-1.5zM465.3,149l.1 2.1 .6 2.2 .4 2 .8 2.1 2.3 .6 2.3 .7 2.3 .4 .1-2.1-.2-2.1-.1-2-1.7-1.2-2.1-.8-2.2-.9z"/>
<path fill="#8ac62a" d="M440.2,129.2l-.3 1.7-.1 1.8-.1 1.8 1 1.5 1.4 1.7 1.7 .9 1.1-1.1 .6-1.3 .5-1.6 .4-1.7-1-1.5-1.6-1.4-1.7-.4zM496,86.8l-3.2-1.3-2.7 1.7-2.8 1.7 .2 2.5 3 2.5 3.4-.4 2.3 1 1.4 3.1 2.8 3.4 2-2.1 .7-3.6-3.6-2.7-2.7-2.1zM493.3,172.8l-.5 1.4 .5 2.2 .9 2.4 1.2 2.1 1.9 1.4 2.1 .2 2.5-.1 1-1.5 1-1.8-2-1.9-2.2-1.3-2.1-1.7-2.3-1.3zM490.7,163.1l-.6 1.9 1.3 3 .7 2.8 2.8 .9 2.7 1.7 3.3 2.5 3.2 1.9 .9-2.2-1.9-3.2-2.1-3-2.3-2.5-2.1-2.4-3.5-1.8zM418.9,90.8l.8 1.2 1.4 .4 1.6 .4 1.1-.4-.5-1.8-.8-1.6-.9-1.1-.9 .8-1 1z"/>
<path fill="#42ba36" d="M439.1,107.2l.8 2.2 .2 2.3 1.8 1.6 2.1 .7 2.1 1.4 1.8 .1-.2-2.3 0-2-.4-2.3-1.2-2.1-2-.8-1.9 .1-2.2-.6zM430.8,96.4l-2.4 .4-2.2 2.5 .2 2.4 2.4 2.2 3 .1-.1-3-.4-3.5 2.9 1.4 3 .8 0-3.1 .2-3.4-2.7-.7-2.4 1.5zM419.6,47.8l0 1.6 .7 1.8 .5 1.8 .6 1.9 1.4 .6 1.2-.8 .9-1.4 1.5-.8 .1-1.8-.4-1.9-1.6-.4-1.6 0-1.5-.2zM510.2,124.1l-1.2 1-.4 2.1-.1 2.1-.4 2.1 .5 2 2.3 .6 2.4 .2 2.4 .3 .3-2.2-.1-2.2-.8-2.1-1-2.1-1.7-1.3zM410,54.9l-.2 1.5 .4 1.8 .1 1.6 .7 1.3 1.2 1 1.2 1.1 1.2-.3 1.1-.9-.1-1.5-.7-1.5-1.1-1.4-.9-1.6-1.3-.3zM422.1,133l-.5 3 .2 2.6 1.1 2.1 2.5-.3 2.4-.6-1.3-2.5-2-2.9 2.2-1 1.6-2 .2-2.6-2.8-1.1-3-.3-.8 2.5zM452.5,32.4l1.5 2.9 1.1 2.3 1.5 2.2 1.2 2.3 2.3 .7 1.9-1.1 1.4-2 1.2-2.3-.7-2.2-2.8-.9-2.1-1.7-2.5-1.3-1.9-.1zM507.5,153.4l-1.8-.3-1.7 .9-1.6 .9-1.7 .7-.4 1.3 .8 1.7 1.8 1.3 1.9 1.2 1.9 .1 1.3-1.1 1.6-1 0-1.9-1.2-1.8zM466.3,169.6l.6 1.6 .7 1.4 1.6 .7 1.4 .5 1.3 .7 1.2 .1 .6-.9-.2-1.1-1.3-1-1.2-1-1.2-1.1-1.3-.6-1.6-.4z"/>
<path fill="#2aae42" d="M435.4,16.1l.1 2.3 .5 2.5 .7 2.1 .4 2.7 1.7-.2 1.6-1.5 1.3-1.9 1.2-1.7 .3-2.3 0-2.5-2-1.3-1.9 .6-1.9 .5zM501.4,112.7l-3.5 1.2-2.8 1.6 .5 4.4 .6 3.9 .2 3.8 1.6 3.5 2.2 3.2 4.2 1.4 1-4.2-2.2-2.8-3.2-3.7 0-3.6 .7-4zM457.6,121.6l-.2 1.1 .4 1.4 .4 1.6 .9 1.3 1.3-.2 1.3-.5 1.2-.5-.2-1.3-1-1.6-1.3-1.2-1.6-.4zM377.3,41.8l-1.1 .3-.5 1.5-.1 1.8-.5 1.7 .8 1.5 1.5 .2 1.2-.6 .8-1.1 1.2-1-.9-1.7-1.2-1.6zM410.8,16.6l-.6 1.8-.9 1.6 0 2.3 1.7 .7 1.5 .7 1.8 .3 1.3-1.2 .5-1.9 .8-1.6 1.1-2.2-1.7-.9-1.9 .2-1.8 .2zM474.3,131.8l-.1 2.1 .6 2.4 2.5 .6 2.5 .7 2.1 .5 2.4 .5 1.4-1.2-1.3-2.3-1.5-2.2-1-2.6-1.9-1.5-2 1.1-2.2 .7zM489.1,141.2l1 3.3 2 3.3 4 2.5 2.2-2.7 3-1.4 4.6 1.2 2.3-2.5-2.6-4.1-2.7-3.5-4.3 0-.4 3.2-.4 3.5-3.7-1.3zM430.4,113.7l.8 1.7 1.3 1.6 1.4 1.2 1.5 .7 1.2-.8 .4-1.7 .8-1.2 .6-1.4-1.2-1.1-1.7-.5-1.7-.3-1.5-.3-1.3 .6zM446.4,60.5l1.9-2.2 .7-2.7-.9-3.4-3.2 .7-3 .9-2.8 .7-.6 3.3-2.1 2.2 1 3.2 .9 3.6 2.6-.3 2.5-1.3 1.4-3zM497.7,72.3l-.1 2.1 .7 2.2 .8 2 .9 2.3 2.3 .2 1.8-.9 .2-2.2 .5-2-.1-2.2-.9-1.9-1.8-.8-2 1zM387.5,13l-2.6 .2-2.3 1.2 2 3.2 1.6 1.6 2 2.4 1.1 3.4 2.5 .9 2.3 .9 2.4-.3-1.1-3.5-1.9-3.3-1.7-2.7-2.1-1.6zM451.3,157.6l.6 1.6 .6 1.7 .9 1.6 1.6 0 1.6-.4 1.6-.3-.2-1.7 0-1.6-.2-1.6-.8-1.7-1.6 .7-1.2 .6-1.2 .6zM467.7,70.4l.3 1.8 .4 2 1.2 1.7 1.1 1.4 1.8 .3 2 .1 .2-2.2 .5-2-.1-1.9-.7-1.7-2-.5-1.8-1.2-1.7 .9zM396.9,125.4l.3 1.4 .9 1.2 1.2 1.3 1 1.3 1.1 .8 1.4 .4 .1-1.3-.2-1.5-.3-1.5-.2-1.5-1.3-.3-1.2 0-1.1 .1zM389.3,113.9l-.6 1.3-.2 1.5 1 1.8 .8 1.7 1.2 1.5 1.4 .8 1.4 .9 1.1-.1-.4-2-.1-1.6-1.2-1.4-1.4-1.1-1.3-1.4zM480.4,151l.7 1.8 1.1 1.8 1.5 1.5 1.8 1.1 2.1 1.6 1-1.3 .5-1.7-.4-1.8-1.3-1.8-1.9-1-2.1-.8-1.8-.4zM491.8,137.1l-1.4 .7-.6 1.2-.3 1.4 1.6 .7 1.7 .7 1.8 .7 1.7 .3 .9-1-.1-1.7 .4-1.7-.6-1.6-1.9 .1-1.7 0z"/>
<path fill="#12a272" d="M415.4,132.8l-.4 1.2 .8 2 .7 1.9 .9 1.5 1.5 1.1 1.6 .8 0-2 .1-1.6 0-1.7 0-1.6-.7-1.4-1.6-.3-1.7-.6zM399.1,59.6l1-3.2 .9-3.7-2.7-3.1-2.3 2.4-2.2 2.3-.8 2.9-2.7 1.8-2 1.8 1.1 3.3 2.7 2.9 2.5 .1 .3-4.4 .9-3.1zM451.8,162.1l-.7-2.6-1.5-2.6-2.4-1.9-2.4-1.7-.9 1.3 .4 2.9 .4 2.7-1.7 1.8 .9 2 1.7 2.8 2.3 .8 1-2.3 .6-2.4zM436.2,120.6l-.3 1.2 .7 1.7 .7 1.7 .7 1.8 1.5 1.1 1.5-.2 1-.8 0-1.6 .6-1.4-.4-1.6-1.7-.6-1.5-.5-1.5-.7zM498.6,31.3l-.8 2.3-.4 2-.6 2.1-.1 2-.1 2 1.9 .2 2 .4 2.2-.5 .9-1.8-.8-2.3-.5-2.2-.6-2.1-.9-2zM446.4,95.1l.3 1.9 1.4 1.4 1.6 1.1 1.5 1.4 1.4-.1 1.1-1.1 1.1-1.3-.2-2-.9-1.7-1.3-1.3-1.7-.7-1.4 .7-1.2 1z"/>
<path fill="#66ba2a" d="M404.3,40.7l.4 1.8 2.3 2.5 1.4 2.2-.9 2.9 1.7 2 2.6 .6 1.8-1.6 0-2.9-.2-2.3-2.6-.8-1.4-2.4-.8-2.7-2.2 0zM381.5,46.6l-.9 .9-1 1-.2 1.4 1 1.5 1.3 .5 1.3 .3 1.3 .2 .9-1 .4-1.3-.6-1.5-1.1-1.4-1.1-.5zM486.6,116.7l.3 1.6 1 1.9 1.1 1.9 1.4 1.4 2.1 .6 2.2 0-.1-2.2-.4-2.1-.4-2.1-.4-2-2-.7-2.1-.5-1.9 .4zM477.4,52.1l-3.4 1.5-3.1 2.2 1.2 3.6 3.8 1 3.6 .7 3.8 1.6 3.5 2.6 3.5 1.4 1.1-4.1-1.6-3.9-3.4-1.1-3.5 .9-2.8-2.3zM475.2,151.6l.1 2.4 .3 1.8 .4 2.4 1.7-1.3 1.5-1.1 1.5-1-.7-1.9-.5-2 .5-2.1-2.2-1.3-2.1-1.3-1.5 .7 .4 2.6z"/>
<path fill="#36ba42" d="M441.3,42.5l-.3 2.2 1.7 1.5 1.8 1.6 2 1.4 1.6 .4 1.3-1.4 .7-1.8-1.2-2.4-1-2.3-1-2.4-1.4-.9-1.6 .6-1.4 1.8zM439,48.9l.2 1.9 .8 1.8 1.3 .6 1.7-.6 1.5-.3 1.7-.2 1-.9-1-1.3-1.5-1.2-1.7-.8-1.6-1.3-1.2 1zM397,114.1l-.4 1.3 .4 1.6 .4 1.5 1.4 .2 1.4 .1 1.4 .1 .3-1.5 .8-1.3 0-1.2-.8-1.3-1.2-.3-1.3 0-1.1 .6zM429.2,124.1l.1 1.5 .9 1.5 1.4 .8 1.4-.3 1.5 0 1.1-.6 .5-1-.4-1.7-.8-1.7-1-1.3-1.2 .8-1.1 .6-1.3 .6zM456,95l-.8 1.2 .4 1.9 1.4 1.4 1.5 1.2 1.4-.2 .6-1.6 1-1.4-.6-1.5-1.5-.4-1.8-.5zM463.1,95.9l-1 1.6-.9 1.7-.7 1.7 .7 1.6 1.5 .7 1.8 0 1.8-.1 2.1 .1 1.3-1 0-1.9-.9-1.6-2-.7-1.7-1.3z"/>
<path fill="#96c62a" d="M383.9,78.3l2.4 2.2 2.1 1.7 .8-2.8-1.1-3.1-1.8-1.7-1.7 .7-2.2 1-2.2 .6-1.4 2.2-.2 2.7 2 2.8 2.4-.6 .7-2.5zM479.1,48.5l-.8 1.9 1.2 1.9 .9 2.3 1.6 1.7 2 0 2-.5 2.1-.5 .1-2.2 .5-2.3-1.7-1.6-1.9-1-2.2-1.2-2.2 .5zM397,127.2l-.9 1.3-.3 1.7-.5 1.5-.3 1.6 .4 1.9 1.4 1.7 1.6 1.2 1.5-.2 .9-1-.1-2.1 .5-1.8-1.2-2-1.6-1.4zM387.1,93.9l.2 2.2 .7 1.9 1.4 .8 1.6 .8 1.4 1.7 1.9 1.5 1.1-1.1-.2-2.2-.4-2.1-1.3-1.9-1.5-1.9-1.6-.6-1.4 .9zM464,41.9l1.4 1.8 2 1.3 2.1 .9 2.2 1.6 2.2 1.3 1.7-1.2-1.1-2.4-1.5-2.1-1.7-2.1-1.6-2.1-1.5-1.5-1.9 .5-.9 2.1zM377.1,36.8l-.2 1.5 .8 1.8 .8 1.6 1.2 1.1 1.2 1.7 1.3-.2 .5-1.5 .2-1.6-.2-1.7-.9-1.4-1-1.2-1.2-.8-1.1 .6z"/>
<path fill="#36ba36" d="M480.4,163.8l0 1.8 .4 2.1 1.9 1.5 2.1 .7 2.2 1.2 2.4 .2 .9-1.2-.5-2.1-.6-2.3-.9-2.1-1.8-.9-2.2 .6-2 .3zM401.4,94.8l-1.1 .4-1 .9-.4 1.1 1.1 1.3 1.3 1.1 1.3 1.4 .8-.7-.1-1.5-.1-1.6-.3-1.7zM473.3,113.6l-.8 1.4-.3 1.8-.3 2.2 1 2.1 2 1.5 2 .8 2.2 1.4 .4-1.9 .1-2.3 .1-2.3-.3-2.2-1.9-1.4-2.2-.7zM455.3,163.3l-.3 1.3 1.2 1.7 1.4 1.3 1.7 .4 1.8 .3 1.6 0 2.3 .5-.4-1.9-1.6-1.3-1.4-1.3-1.9-.9-1.7-1-1.4 .5zM410.2,132l-.5 1.2-.4 1.3 .7 1.5 1.1 .9 1.4 .3 1.4 .7 1.3 .5 .9-.4-.8-1.8-.4-1.5-.5-1.5-1.3-.8-1.3 .1z"/>
<path fill="#2aba42" d="M481.2,107.4l.1 2.3 0 2.3 .1 2.3 1.9 .8 2 .5 1.7-1.3 .4-2.2-.3-2.2-.3-2.5-.6-2.3-2.2-.2-1.7 .5z"/>
<path fill="#66ba36" d="M413.9,54.3l.2 1.8 1.3 1.8 1.1 1.7 1.1 2.2 1.7-.5 1.7-.3 .7-1.7-.3-2.1-1.4-1.4-1.5-1.2-1.7-.5-1.9-1.1z"/>
<path fill="#aec62a" d="M442.8,149.4l1.9 2.1 2.1-.1 2-.7 1.3-1.4 2.3-.5-2-2.2-1.3-2.3-2.2-1.4-1.8-1.6-2-.3-.6 2-1.1 1.7 .4 2.4z"/>
<path fill="#d2ba2a" d="M424.5,18.3l.5 2.8 2.1 1.7 1.7 1.5 2.3 .5 2.2 1.1 2.8 1.3-.9-3.3-.4-2.7-.6-2.8-1.3-2.2-2.1-.3-2.3 .5-2.5 .1z"/>
<path fill="#c6ba2a" d="M506.1,23l-1.2 2.4 .6 2.2 2.7 .5 2.4 .7 2.6 .6 1.7-2.1 1.3-2.2 .2-2.3-.9-2.4-.9-2.4-2.8 1.1-2.3 .4-2 1.7z"/>
</g>
<polygon points="498.7,30 544.2,10 539.2,119 498.2,168.5" fill="#060606"/>
<g clip-path="url(#kcr)">
<path fill="#12668a" d="M501.4,145.5l1.1-.4 .1 2.3-.7 2-.9 1-.5-1.9zM507.7,137.3l-.5 2 .1 1.5 .5 .8 .7-1 .8-1.2 .8-1.5 .9-1.5 .6-1.9-.7-.6-.8 1-.8 .6-.8 1zM527.7,120.3l.8-.9 .4 .4-.1 1.9-.7 1.8-.5-1zM511.9,137.2l-.6-1.5 .7-2.6 .8-.8 .4 .9-.2 2.7zM529.7,30l.2-1.9 .4-.7 .4 .3 .1 1.6-.6 1zM542.2,11.7l-.6 2.4-.7-.4-.2-1.8 .5-2.1 .6-.1zM513.8,120.8l0 2.1-.7 2-.8-.2-.1-2.2 .9-2.5zM513.8,102.8l-.1 1.8 .1 1.8 .4 .8 .7 .3 .7-.5 .6-1.4 .2-2.1 .3-2 .3-2-.4-.8-.7 .3-.7 1.2-.8 1.1zM542.2,107.6l-.4 2.1-.3 2.2 0 1.6 .3 1.1 .3 1 .6-.9 .6-.9 .1-1.9 .1-1.6-.1-1.7-.1-1.7-.4-.3zM509.9,48.3l-.1 2.6 .3 2.5 .5 2.3 1.1-1.4 1-1.7 1-1.4 .9-1.9 .1-3.1-.5-2.2-1 .8-1.1 1-1 1.6zM523.5,24.3l.6-4.5 .4-4.3-.1-4.2-1.5 1.8-1.4 2.3-.7 4.6 .1 3.5-.2 4-.7 4.9 .7 2.2 1.3 .7 .8-1.9 .2-5.3z"/>
<path fill="#124ea2" d="M540.6,86.4l-.3 1.3-.4-.1-.1-1.2 .4-1.3 .5-.2zM519.7,62.1l.6-.2 .4 .9-.3 2.1-.8 .4-.3-1.5zM511.4,66.1l-.6 0-.2-1.3 .3-2.2 .8 0 .3 1.8zM528.6,106l.5-.7 .3 1-.3 1.7-.5 .8-.3-1zM533.4,83.9l.4-.8 .3 .4-.1 1.5-.5 .9-.4-.5zM531.8,119.3l-.3 1.1-.4 .1 0-1 .3-1 .4-.3zM534,18.1l.2 2.4-.7 1.6-.7-.1-.2-2.3 .7-1.8zM517.9,92.2l-.2-1 .2-1.5 .5-.5 .2 1-.1 1.3zM503.6,40.6l1 .8-.6 2.9-.9 1-1.1-.6 .4-3.7zM540,112.2l-.3 1.4-.4 .8-.3-.2 .3-1.4 .3-1zM509.2,31.5l.6 .5-.2 2.1-.7 1.5-.5-1.5 0-2.2zM514.3,138l.3 1.4-.3 2.1-.8 1.3-.3-1.4 .2-2.2zM526.8,69.9l-.7-.8 .2-2.1 .6-1.8 .5 .8-.1 1.9zM520.5,98.9l-.4-.9 .4-1.7 .6-1.3 .2 1.5-.1 2zM505.2,147l-.3 1.6-.7 1.3-.3-1.4 .4-1.8 .7-1.1zM525,57.1l.2 1.9-.7 1.6-.6-.7-.1-2.1 .7-1.7zM508,151.9l.4-2 .7-.5 .3 1.1-.3 2.1-.8 .5zM502.3,101.1l-.2 2.2-.9 .7-.5-1.2 .5-1.9 .8-1.5z"/>
<path fill="#125a96" d="M506.3,100.7l.8 .6 0 2.4-.8 1.3-.8 .2 .1-2.4zM508.7,69.6l.1-2.1 .8-.7 .4 1.1-.3 1.7-.6 1.2zM536.9,89l.3-.7 .3 .1 .1 1.3-.5 1.1-.2-.8zM517.6,84.9l-.5 1.1-.6-.6 .2-2.3 .8-1.1 .3 1.3zM498.2,76.6l-.8 .2 0-1.8 .4-1.5 .8-.2 .3 1.8zM497.6,126.2l-.8-.2 0-1.5 .4-1.4 .6-.2 .4 1.2zM537.3,43.3l.5-.1 .3 1.4-.4 1.9-.6 .2-.1-1.7zM515.8,14.9l-.8 1.6-.7 2.2-.7 2.6-.7 2.6 .2 2.4 .8-.2 .9-.8 1.1-1.3 .9-1.4 1.1-1.1 .1-2.3-.8-1.4-.7-1.5zM501.8,159.5l-.6 .2 0-1.4 .3-1.7 .6 .1 .1 1.1zM532.7,19.6l.8-1 0 2.3-.3 1.9-.6 .3-.4-1.4zM513.4,71.3l.7-1.9 .7 .4 0 2.1-.6 2.2-.7-.8zM510.3,36l.8 1.3 .3 2.3-.8 2.7-1.1-.6 .2-3zM538.1,103.6l-.4 1.4-.5 .3 0-1.2 .3-1.6 .5-.4z"/>
<path fill="#126696" d="M520.6,125.4l.4-1.3 .5-.4 0 1.4-.4 1.1-.5 .6zM508.7,82.6l.6-.2 .2 1.2-.5 1.4-.6 .4-.1-1.5zM540.6,13.1l-.7 1.7-.7-.2-.2-2.4 .7-2 .6 .7zM512.2,114.6l-.1 2.1 .3 2 .9-1 .5-2 .7-2.3 .5-2.3-.1-1.5-.7-.3-.8 1-.7 2zM512.3,146.3l-.4 2.2-.8 .7-.2-1.3 .2-2.3 .9-.8zM532.7,84.9l-.1 1.9 .5 .6 .6 .2 .7 .1 .4-2.1 .4-2.3 .1-1.7-.4-.1-.7 1-.8 1.2zM522,59.5l.4-.2 .2 1-.2 1.2-.5 .7-.1-1.2zM521.4,28.9l-.9 .9-.5-1.5 .3-2.5 .8-.6 .3 1.3zM525.7,90.9l-.2 2.3-.3 2-.3 2.4 .2 1.5 .7-.1 .7-1.2 .7-1.1 .4-1.9 .2-2 .2-1.9 0-1.7-.8 .5-.7 .7zM507.4,26.7l.5 .5-.1 1.5-.4 1.3-.4-.7-.1-1.3zM539.6,31.3l.2-2.6 .6-1.1 .5 .3 0 2.2-.6 1.7zM535,52.3l.3 1.6-.1 2.3-.8 1.4-.6-1.4 .4-2.9zM511.1,70.7l-.4 2.8-.1 3.2-.2 2.9 .3 2.2 .7 2.2 1.2-2.4 1.2-1 1-2.4-.3-2.6-.6-2.3-.6-2-.5-2.1-.8-1.3zM507.7,146.9l.1 1.6-.6 1.9-.7 .1 0-1.9 .6-1.8zM526.4,86.4l.7-.7 .7 .3-.5 2.1-.5 1.5-.6-.7zM498,72.2l-.7-.4-.1-1.9 .8-1.2 .8 0 0 2.3zM527.1,99.8l-.5 1.4-.4 .8-.3-.9 .3-1.7 .5 0zM497.1,168l-.2 2.6-.1 2.4-.3 2.8 .4 1.3 1-1.3 1-1.6 1-1.5 .8-2-.1-2.3 .2-2.4-.8-.5-1 .3-.9 .6z"/>
<path fill="#125aa2" d="M507.3,91l.9-.3 .6 1.3-.6 2.3-.9 1.1-.7-1.5zM521.6,65.9l-.3 1.2-.5 .3-.2-1.2 .4-1.4 .5 0zM511.3,146.4l-.3 2.1-.6 .4-.4-.5 .2-1.7 .6-.6zM527.7,50.6l.3 1-.3 1.5-.5 1.1-.4-1.1 .2-2.2zM535.3,23.3l.4 .7 .7-1 .6-.3 .5-1.5 .5-1.8-.2-1.4-.6-.5-.4-1.2-.6 .4-.3 2.2-.3 2.1zM521.6,125.8l-.4 2.2-.7 1.9-.3-1.5 .2-1.7 .6-1.2zM534.5,112.4l.2-1.4 .5-.8 .3 .8-.3 1.9-.5 .5zM534.5,18.1l-.6 1.8-.5-1.2-.1-2 .6-1.7 .8 .4zM535.2,109.1l-.4 1.1-.1-1.3 .1-1.4 .5-.4 .2 .7zM511.8,142.3l-.3 2.6-.9 .8-.8-.4 .6-2.7 .9-1.6z"/>
<path fill="#12727e" d="M538.3,89.4l.5 .2 0 2-.7 1.8-.3-1.2-.1-1.6zM508.8,120.8l.7-.7 .4 1-.3 2.1-.7 .4-.5-.8zM527.7,98.1l.2 1.4 .3 1.2 .2 1.5 .6-.1 .6-1.1 .6-1.6 .5-1.8 0-1.8 .1-2-.6 .2-.7 .7-.7 .4-.7 1zM534.4,120.6l-.2 2.3 .3 1.1 .7-.9 .7-.4 .5-1.4-.2-1.6-.2-1.6-.3-1.2-.6 1.6zM499.4,115.2l-.8 1.3-.7 2.2-.7 1.8-.5 2 .6 .6 .7 .5 .8-.8 .8-1.6 .7-1.6 0-1.6-.4-1.2zM534.1,61.5l-.4-.5 .1-1.4 .4-1 .3 .6 0 1.2zM527.3,41.5l-.2 1.4-.5 .1-.2-.9 .3-1.2 .4-.2zM527.1,131.5l-.1 2.4 0 2.2-.1 2.2 .1 2.2 .7-.2 .7 0 .8-2 .4-2.5 0-2 .1-2-.4-1.1-.7 0-.7 .3zM513.5,44.3l-.8 1.8-.7-.8-.2-2.6 1-1.6 .7 .9zM536.8,75.4l.1-2 .6-.6 .6 .2-.4 2-.5 .8zM502.2,30.1l.3 3.2-1 2.1-1 0-.2-2.6 .8-2.1zM520.8,99.3l-.5 2.4-.7 .2-.3-1.4 .3-2.5 .9-.3zM527.6,78.6l-.7 2.9-.7 2.4-.5 2.4-.5 2.8 .7 .3 .8 0 .9-1.4 .8-.3 .3-2.5 .2-2.4 .3-3-.1-1.9-.7 .1zM521.5,133.7l-.5 2.5-.2 2.6 0 2.3 .8 0 .7 .6 .8 .2 .7-2 .3-2.8 .1-2.5 0-2.1-.6-1-.5-1.3-.9 .9zM540.2,0.6l-.5 1.7-.6 2.1-.4 2.5-.3 2.5 .6 1 .8 .4 .5 1.2 .7 .6 .2-2.9 .5-2.3-.3-2-.2-2.4-.3-2zM508.5,157.6l0 1.9 0 1.9 .1 2.1 .8-.8 .8-1.2 .6-1.6 .4-2.1 .2-2.2 .4-2.5-.1-1.5-.7 .3-.8 2.1-.8 1.8z"/>
<path fill="#12728a" d="M535.8,102.1l-.1-1.3 0-1.9 .7-.6 .4 .9-.3 2.3zM522.2,94.4l-.9 1-.2-1.8 .3-1.9 .6-.7 .5 1zM525.9,5l-.3 2.4 0 2.4 .8 1 .7 1 .6-1.2 .7-1.6 .7-1.9-.2-1.9-.5-1.8-.8-.1-.9 .7zM527.2,36.5l.3 2.1-.6 2.4-.7-.6-.2-1.7 .5-2.1zM519,20.4l-.4-.5-.2-1.2 .4-1.5 .4 .8 .2 1zM527.9,53.3l-.1-1.1 .4-.7 .3 .2 0 1.1-.4 1.1zM514.3,68.4l-.3-2.1 .6-2.7 .8 .6 .5 1.5-.7 2.3zM520.8,68.9l-.5 1.3-.5-.7 .2-1.8 .5-.6 .4 .2zM496.4,29.2l.8-2.4 1.1 .4 .1 2.5-.6 2.5-.9-.8zM497.8,102.1l-.9 1.7-.7 2.8-.4 2.7-.3 2.4 .9 .3 .9 .4 1.1 .2 .9-1.5 .5-2.7 .1-2.7-.5-1.6-.7-1.2z"/>
<path fill="#127272" d="M529.3,120.4l.5-2.2 .7-2 .3 1.7-.3 2.1-.6 .8zM506.8,86l-.2-2.2 .6-2.6 1 0 .1 2.4-.7 1.9zM516.5,138.3l-.3-1 .2-1.6 .6-.7 .1 1-.2 1.1zM506.6,128.3l-.3-1 .3-1.8 .7-.4 .3 1.1-.4 1.8zM511.5,108.1l.1 1.6-.4 1.8-.7 .6-.4-1.3 .6-2.1zM535.1,91.5l-.6 1.6-.5 2.1-.7 2.2-.1 1.9 .3 1.1 .5 .8 .7 .1 .6-1.7 .2-2.4 .5-2.2 .2-2 .1-2-.6 0zM541.8,12.1l-.4-.8-.1-1.9 .6-1.4 .3 1 .1 1.6zM523.5,85.3l.2 1.3 .7 .4 .6 .2 .7-1.7 .5-2.2 .4-2 .2-2-.6-.4-.8-.1-.7-.1-.4 2.5-.5 2.1zM540.5,104l.2 1.3 .5 .3 .4 .6 .5 .4 .6-1.4 .2-1.8 0-1.8 .1-2.1 0-1.7-.4 .2-.6 1.1-.6 1.3-.6 1.6zM531.5,7.4l-1.1 .8-.9 1.6-.8 2.2-.6 2.6 .4 2.9 .1 3.1 .4 2 1-.5 .9-2 1-1.7 .4-3.5 .4-3.3-.6-2zM511.1,105.1l-.7 1.2-.3 2.4-.4 2.1 .1 1.5 .6 .9 .7 .4 .7-.7 .6-1.9 .5-2.2-.1-1.9-.2-2-.8 .2zM522,126.1l.1 1.6 .2 1.4 .5 .2 .6-.6 .6-1.3 .5-1.9 0-1.7-.1-1.7-.2-1.5-.5 .4-.5 1.5-.6 1.8z"/>
<path fill="#72961e" d="M536.8,65.4l-.3 2.2 .2 1.5 .5 .4 .7-.3 .7-.4 .7-1.2 .6-2 .3-2.5-.3-1.7-.6-.3-.6-.1-.7 .5-.6 2zM499.8,59.8l.6-4 .5-4.2 .4-4.3-1.2 .5-1.3 4-1.2 4.1-1.5-.1-1.9 1.2-1.1 3.6 1 3.4 1.2 2.7 1.5-2.8 1.2-3.4zM539.2,94.1l-.5 1.6-.5 2.6-.4 2.4-.1 2.1 .6 .2 .5 .6 .6 .5 .5-1 .6-1.9-.1-2.2-.1-1.8-.1-1.9-.4-.7zM525.1,58.2l-.2 2.1 .6 1.7 .4 1.6 .4 1.6 .8 .1 .7-.8 .6-.8 .3-2.1-.4-1.8-.4-1.5-.6-.9-.6-1.7-.8 1.1zM521.2,119l-.3 2.4-.1 2.2 .4 1.5 .7-.2 .7-2.2 .6-2.2 .7-2 .5-2.2 0-1.8-.4-1.4-.7-.1-.7 2-.7 2.3zM539.4,91.5l.5 .4 .4 .5 .6-1.1 .6-1.2 .7-1.2 .2-2 .3-2.1-.4-.8-.5-.2-.5 0-.4 2-.5 1.6-.5 1.8zM536,104.8l.7-1.8 .6-1.5 .5-2.4 .3-2.4 .5-2.6-.4-1-.6-.5-.6-1.3-.5 2.3-.4 2.6-.3 2.4-.3 2.3 .2 2zM499.4,78.8l-.6 2.4-.4 2.5-.6 2.6 .2 2.1 .3 2 .6 .9 .9-.6 1.1-1 .5-2-.2-1.9-.3-2.1-.5-1.9-.4-1.9z"/>
<path fill="#36962a" d="M536.7,14l.4 1.3 .6 1.1 .6 .7 .7 .3 .9-.3 .6-1.2 .2-2.1-.4-1.1-.7-.8-.7-.7-.6-.9-.8 .1-.8 1.1zM533,47.9l-.9 1.9-.6 3.5-.4 4-.8 4 1 .8 .8 1.4 .8 1.5 .9-3.1 .9-2.7 .7-3-.8-1.1-.6-1.9-.6-2zM511.5,4.5l-.6 2.5 0 3.6-.1 3.7 0 3.4 0 4 .9 2 .9-3.4 .9-2.3 .7-3.3 .8-3-.2-3-1.1-1.5-1.1-.6zM532.3,106.1l0 1.6 .4 .9 .5 .8 .5 .6 .6-1.5 .7-1.2 .3-1.7-.1-1.3-.2-1.6-.5-.6-.7 .4-.6-.4-.4 2.1zM502.5,145.6l-2 5.8-2.2 6.3 0 6.2 2.7-1.9 1.3-4.5 .8-6.8 .4-5.8 2.7-3.9 .6-5.9 .4-7.1-2.6 3-2.6 2.7-.7 7.2z"/>
<path fill="#127e5a" d="M539.2,53.4l-.4 1.8 0 2-.2 2.2 .6 .1 .6 .1 .5-.7 .4-1.8 .3-1.9 .4-1.9-.4-.5-.6 .3-.6-.1zM534.6,125.1l-.3 1.5-.3 2-.1 1.8 .2 1.3 .6-.4 .6-1.4 .7-1.1 .4-1.6 .3-1.9 .2-1.8-.6 .2-.6 .3-.5 .6zM497.7,99.8l.6 2.1 1 1.4 1.2 .8 1.3-1.3 1.2-2 1.2-2-.6-2.6-.6-2.3-.6-2.2-.8-1.1-1.3 1.3-1.2 1.8-.9 2.6zM516.7,120.1l.1 2.3 0 2.3 .2 2.4 .4 1.2 .9-1.3 .9-1.5 1-1.4 .1-2.6-.3-1.9-.5-1.4-.5-1.5-.6-1-.9 2.2zM529.3,88.2l-.4 1.7-.3 2.1 .2 1.4 .6-.3 .6-.2 .6-.5 .6-1 .2-1.9 .3-1.8-.5-.1-.7 .4-.6-.1zM511.8,85.1l-.6 2.3-.3 2.6-.5 2.8 .1 2.3 .6 1 .9-2 .9-1.2 .8-1.8 .3-2.5-.2-2.1 .1-2.6-.5-.8-.7 .6zM529.6,47.2l1-.2 .8 .9 .9-.5 .8-2.5 .7-2.7 .3-2.9-.4-2.2-.1-3-1 .9-.9 1.3-.8 2.2-.7 2.8-.4 2.9zM506.9,64.5l-.4 3.2-.6 3.1 .2 2.5 1.3-1 1.2-1.2 1.1-.8 1-1.2 1-2.2-.1-2.7-.6-2.5-.8-1.5-1 1.1-1 1.6zM505.5,55.8l.5 2.4 .2 2.8 .5 2.2 1-1 1-1.6 .9-2 .8-2.3-.7-2.2-.4-2.3-.2-3.2-1.1 1.5-1.2 .4-1.1 2zM515,80.3l-.1 2.4 0 2.2-.2 2.6 .5 1.1 .9-.6 .7 .1 .7-.9-.1-2.3 0-2.1-.2-2.1 0-2.5-.6-.4-.9 .8z"/>
<path fill="#2a962a" d="M518,138.1l-.3 1.9 .1 1.9 .1 1.9 .4 .5 .7-.6 .7-1.4 .4-1.9 .3-2.1 .2-1.9-.2-1.1-.9 1.3-.7 .5zM510.8,57.9l.3 2.3 .4 2.1 .5 2 .7 .4 .9-1.3 .5-2.5 .2-2.8 .1-2.5 .4-3.1-.7-.4-.7 .5-.9 2.1-.9 1.2zM492.6,118.1l-.1 2.6 .7 1.6 .7 1.2 .9 .6 1.1-2 .9-2.5 .8-2.4 .7-2.4-.3-1.6-1.2 .4-1.1 .2-1.1-.3-1 2.4zM519.8,71.2l.1 1.6 .6 .8 .5 .6 .6 .5 .7-.6 .6-1.2-.2-1.8-.2-1.5-.1-1.9-.2-1.8-.6 .4-.6 1.4-.5 1.9zM507.5,152.4l.1 2 .3 1.6 .6 .7 .8-1.7 .9-2 .6-1.9-.1-1.7-.7-.8-.9 .3-1 1.2z"/>
<path fill="#1e8a42" d="M502.4,45.7l1.1 1.6 1 1.2 .8 1.5 1 .4 1.1-1.3 1-1.6 .1-3-.3-1.9-1-.6-1.1-.3-1.1-.7-1.1-.5-.7 2.4zM531.3,92.3l-.1 2.5 .1 2 .4 1.5 .8-.3 .7-.7 .6-2.2 .4-2.4 .4-2.2-.1-1.9-.7-.1-.7-.5-.7-.5-.5 2.3zM518,130l-.7 2.3-.1 2.5 .1 1.9 .8-.3 .9-1 .9-1 .8-1.2 .5-2.1-.1-1.8-.2-1.8-.5-1.3-.8 .7-.9 1.6zM533.6,65.5l-.2 2.2 0 2.1 0 2.2 .7-.5 .7-.1 .6-1.7 .4-2 .3-2.3-.4-1.6-.1-2.3-.2-2-.7 1.8-.6 2.3zM541.4,76.6l0 1.8 .1 1.8 .3 1.4 .6 .1 .5 .3 .6-.8 .7-1.7-.2-1.7-.4-1.4-.3-1.1-.3-1.4-.5-.6-.6 1.3zM529.5,85.3l.4 .7 .7-.2 .8-.1 .6-1.3 0-2.2 .1-2.1 .4-2.7-.5-.8-.8 1.1-.8-.3-.6 1.3-.2 2.2-.1 2.2zM504.3,106l-.7 .9-.5 2.6-.6 2-.5 2.2-.3 2.3 .6 .8 .7 .4 .8-1.5 .7-1.8 .1-2 0-2-.1-1.7zM502.9,48.7l-.7 1.5-.3 2.7-.2 2.5-.4 2.6 .3 2.1 .8-.3 .8-1.5 .8-1.4 .9-1.7 .1-2.6-.7-1.1-.7-1.3zM537.8,122.7l-.4 1.8-.2 2 .3 .8 .3 .5 .5-.7 .5-1.6 .5-1.6 .3-1.6-.3-.9-.2-.9-.4-.4-.5 .8zM545,56.2l-.2 1.9 0 1.9 0 2 .5-.4 .5 .3 .5-1.3 .5-1.4 .1-2 0-1.7-.4-1-.5-.2-.5 .6zM496.9,43.5l-.6 2.8-.3 3-.7 3.3 .6 1.9 1.1 .5 1-1.6 .7-2.5 .7-2.5 .8-2.4-.2-2.3-1.1-.7-1-1.6zM506.6,74.2l-.4 2.4-.2 2.7 .7 1.6 .7 .8 .9 0 .9-.3 .5-1.9 .3-2.4 .2-2.6 .1-2.6-.8-.2-1 .7-.9 1.1zM525.9,11.8l-.6 2.1-.4 2.8-.3 3-.4 3.3 .9 .7 .8 .9 .9 .1 .9-.2 .4-2.4-.3-2.9-.1-2.6-.4-2.3-.6-1.8zM522.7,62.9l.2 2.3 .1 2 .3 1.6 .1 2.3 .4 1.5 .6-2.4 .5-2 .5-1.9-.1-1.8-.4-1.7-.4-1.1-.4-2.2-.7 1.7zM506.6,35.4l-.7 3.5 1 1.3 1.3 .7 1.2 1.2 0 3.8 1.5-.8 1.6-1.5 .7-3 0-3.4-1-2.4-1-2.1-1.5 .9-1.4 1.3zM521,106.9l.1 1.6 .6 1.1 .6 .9 .7 .5 .8-.1 .2-2.9 .4-2.4 .1-2.5-.1-2-.6-.4-.9 1.1-.8 .8-.7 1.9zM493.8,29.9l-.6 2.4-.5 2.5-.4 3.2-.2 3 .7 1.4 1.2-.5 1.1 .2 1.2-.8 .9-2.1-.1-3.1-.3-2.6-1-1.2-1-1.6zM528.2,34.8l-.5 1.5 0 2.3-.2 2.3 .1 2.1 .6 1.2 .6 .2 .5-1.5 .6-1.9 .2-2.3-.1-1.6-.6-.8-.6-1zM511.5,117l-1.2-2.3-1.3 .3-1.2 2.8-.1 4.4-.1 4 1.1 .8 1.1 1.3 1 2.1 1.1 1.2 1.1-3.6 .5-4.6-.5-2.5-.9-1.3z"/>
<path fill="#128a4e" d="M529.4,104l-.5 2.2 .3 1.6 .3 1.6 .6-.4 .7-1 .7-1.6 .3-2.1 .7-2.2-.2-1.6-.5-.7-.5-.5-.7 1-.6 2zM516.4,150l-.1 2.4-.1 2.2 .4 1.5 .6 .1 .8-2.5 .8-1.9 .8-2 .3-2 0-2.1-.1-2.2-.9 1.7-.8 .8-.8 1.9zM542.3,7.4l-.4 2.4-.3 2.6 .1 2.2 .6 1.1 .6 1.1 .6-.2 .3-2.8 .2-2.8 .4-2.6 .1-2.3 0-2.3-.8 1.2-.7 1.5zM503.2,19.5l-.9 4 0 3.9 1 3.4 .8 3.7 1.4-1.8 1.6-1.2 1.8-.1 1.6-1.3 0-4.3-1-2.7-1.6-.8-1.5-.9-1.5-.4zM504.6,99.6l-.1 2.7 .5 2.1 .5 1.9 1.2-1.9 1-1 1.1-1.4 .8-1.5 .3-2.5-.3-2.1-1.2 .3-.9 .2-1 0-.9 1.2zM499.8,111.6l.6 1 .5 1.2 .7-1.2 .5-2.6 .6-2.1 .5-2.4 .5-2.5-.6-.8-1 1.4-.9 1.3-.7 1.6-.2 2.5z"/>
<path fill="#5a962a" d="M540.5,60.3l0 2-.1 2.2 .6 .2 .7 0 .6-.3 .4-2.2 .3-2.4 0-2-.4-1.3-.4-1.1-.4-1.7-.5 2.1-.4 2.3zM521.3,78l-.9-1.7-1.1-2.2-1.2 1.4-.1 4.2 0 3.5 .1 3.8 .5 2.9 .2 3.1 1.2-.5 1.3-2.2 1.2-3.3-.6-2.9-.6-2.5z"/>
<path fill="#127e66" d="M504.1,160.9l.1 2 .9 .7 .8 .5 .7 .5 .8 1.1 .7-2-.2-2.3 .2-2.2-.2-2.2-.5-1.6-.4-1.8-1 2.5-.8 2.5zM546.4,-0.4l0 1.5 .5 .3 .7-.1 .5 .1 .6-.2 .4-1.7 .4-2.2-.2-1.6-.7 .7-.6 .3-.6 .4-.6 .9zM533.6,123.1l.3-2.9-.8-1.5-.7-1.4-1.2 2.7-1 1.7-1.1-.7-.6 3.2-.8 3.9 .6 1.3 .9 .5 1.1-2.1 1-2.2 1.2-1.2zM538.9,29.8l-.5 2.8-.3 2.7-.3 2.5-.2 2.8 .8 .1 .8-.6 .9-.6 .8-.7 .2-2.3-.3-2.3-.2-2.2-.3-1.7-.7-.5zM500.8,75.8l.3 2.5 .3 2 .3 2.3 .4 2.3 .8-.2 .7-1.9 .9-1.7 .7-2.3-.2-2.4-.1-2.5-1 .2-1-.3-1 .6zM523.7,39.7l-.2 2.8-.1 3.2 0 3.1 1-.7 .9-1.8 .8-1.5 1.1-1.5-.2-3 .2-3.2-.1-2.2-.6-.9-.9 2.2-1 1.7zM536.3,80.7l-.4 1.2-.4 1.9-.4 2.1-.1 1.7 .3 1.3 .5 .2 .6-.2 .5-1.7 .4-1.8 .4-2 .2-2.1-.6-.1-.5-.3zM503.5,152.5l-.6 2.7-.5 2.7-.6 2.9-.3 2.8 .8 .4 1.1-2 1-2 .8-2.4 1-2.4 .2-2.1-.9-.2-1 .3zM530.4,110.7l.2 1.3 .3 .6 .5 .5 .5 .4 .5 .1 .4-1.7 .1-1.3-.4-.9-.4-.6-.4-.7-.6 1.1zM543.2,-6l-.6 1.4-.7 2.3-.6 2.3 .3 2.2 .5 1.7 .5 .8 .7-1.3 .7-1 .8-1-.1-2.5-.1-2.1-.1-2.7-.5-.9z"/>
<path fill="#4e962a" d="M528.4,25.4l-.6 2.6-.1 3.3 .2 2.1 .9 1.2 .8 .9 .9 1.5 .9-1 1-1.9-.5-2.5-.5-1.9-.6-2-.6-2.2-.8-.6zM536.4,3.5l-.2 2.1-.3 2.1 .5 1.1 .5 .3 .6-.6 .6-1.6 .4-2 .5-2.1 .1-1.6-.1-2.2-.7 .9-.6 1.3-.6 1.3zM518.8,113.3l.1 1.8 .6 1 .5 1 .4 1.7 .7-1.5 .9-1.5 .8-2.1-.3-1.6-.5-.8-.6-.9-.6-1-.6-.4-.8 2zM537,88.9l.3 1.7 .6 .7 .6 .9 .6-.5 .5-2.3 .1-2.3 0-2.4-.3-1.7 0-2.4-.3-1.9-.8 2.8-.5 2.2-.3 2.8zM539.9,74.9l1-.7 .8-2.1 .4-2.9 .3-2.6 1-1.6 .2-2.6-.3-2-.7 1.9-.3 2.8-.9 .8-.9 .4-.8 2.8 .1 3z"/>
<path fill="#1e8a36" d="M497,18l-.9 3-1.2 2.6-.8 3 1.2 1.5 1.2 1.2 1 1.7 1.1-2.2 .8-2.7 1.1-2.8 .7-3.3-.5-2.2-.9-.7-1.4 .7zM530.2,129.5l-.1 2.5-.1 2.6 .6 .3 .9-1.2 .8-.7 .8-1.2 .4-2.4 .3-2.6 .1-2.4-.7 .1-.8 .8-.8 .8-.9 .7zM520.4,143.3l-.1 1.7 .2 1.6 .2 1.4 .5 .2 .5 .7 .6-.5 .6-1.6 .5-2.1-.2-1.5-.5-.6-.5-.3-.6 .2-.6-.2zM490.5,107.8l0 3.3 .4 2.8 .3 2.5 1.2-.1 1-1.3 1.1-3 .8-3.2 .6-3 .5-3-1.1-.3-1.1 .2-1.3-.4-1.2 2.4zM530.8,24.2l-.2 1.9 .6 1.7 .4 1.8 .6 1.4 .5 1.1 .8-.3 .5-2.6 .2-2.6-.4-1.6-.4-1.7-.6-1.3-.6-1.4-.8 1.7zM524.7,72.9l0 2.6 .6 1.7 .9-.1 .8 .3 .8-.4 .9-1.6-.1-2.9 0-2.6 .2-3.2-.9 .2-.9 .2-.9 .6-.7 2.6zM513.2,29.3l0 1.9 .5 1.4 .5 1.4 .6 .8 .7-.2 .4-2.2 .5-2.1 .4-2.3 .4-2.3-.7 0-.9 1-.8 .7-.8 1zM517.5,156.7l-.4 2.3 .1 1.9 .5 .5 .9-.8 .8-1.1 .5-2.6 .5-2.1 .7-2.3-.3-1.1-.5-.7-.7 .3-.8 1.7-.7 2zM529.4,50l-.9 1.5-.6 2.2-.1 2 .4 1.6 .7 1.3 .2 2.3 .5 .9 .7-2.1 .4-2.6 .3-2.9 .5-2.9-.4-1.2-.8-.4zM539.8,118l0 1.3 .2 1.2 .2 1.1 .5-.5 .3-1.4 .2-1.7 .2-1.6-.2-1-.4-.4-.5 1.6zM525.4,100.9l-.4 2.8-.4 2.7-.3 2.8 .3 1.8 .6 .8 .9-1.6 .9-1.1 .9-1.5 .4-2.3-.4-1.7-.3-1.8-.5-1.3-.8 .3zM540.9,93l-.1 1.7 0 1.6 .1 1.4 .2 1.2 .5-1.2 .5-.8 .5-1.2 .5-1.3-.3-1.1-.2-1-.2-1.3-.4 .1-.5 .9zM490.8,46.3l-.4 3.3-.2 3.7-.2 3.9 1 1.3 1.3 .5 1.3-2.2 1.2-2.2 .4-3.6 .8-3.7 .1-3.4-1.2-.5-1.5 .4-1.4 .8z"/>
<path fill="#a27e2a" d="M530.7,113.1l-.8 3.2 .1 2.8 1 .3 1-1.6 1-.5 .6 1.4 .9-2 .6-3.3 .1-3.6-.7-.4-1.1 2.6-1 2.7-.9-.8z"/>
<path fill="#a2961e" d="M507.7,84.2l-.3 2.6-.5 2.3-.1 2.3-.1 2.4 .7 .4 .9-.8 .9-.4 .6-1.6 .2-2.6 .6-2.6-.5-1.1-.5-1.6-.9 .7zM498.5,33.1l.1 3 .1 2.6 .8 1.1 .8 1 .9 1.1 1-.9 .4-2.9-.1-2.2-.4-2-.5-2.3-.6-1.6-.7-.5-.8 1.8zM493,81.8l-.7 2.7-.3 3.1 1 1 1.1-.2 1.2-.9 1-1.4 .8-2.4 .6-3.1 .1-2.7-1.1-.3-.8-1.8-1.1 1.6-.9 2.3zM512.1,137.2l-1 .8-1.3 2.2-1.2 2.3-.5 3 .2 2.9 1.1-.2 1 .3 1 .7 1.1-.3 1-3 .4-3.4-.6-1.7-.9-1.3z"/>
<path fill="#2a9636" d="M538.3,113.8l.1 2 .3 1.5 .4 1 .7-2 .7-1.6 .7-2 .3-2.3 .4-2.6-.7 0-.5-.6-.6-.6-.7 2.2-.5 2.5zM537.9,29l-1.2 .1-1.1 .2-.8 2.7 0 3.9 1 .9 1.1 .5 .8-2.8 .5-4.3 .9-3.4 .3-3.8 0-3.3-1.3 2.2-.5 3.2z"/>
<path fill="#127e4e" d="M538,41.8l-.3 2.5-.2 2.5-.4 2.7 .3 1.6 .7 .4 .7 .2 .4-2.6 .4-2.3 .4-2.5 .5-2.4-.4-1-.5-.2-.8 1zM540.8,17l-.3 2.7-.4 2.6-.2 2.6-.1 2.2 .6 .7 .7-.9 .7-1.3 .6-1.6 .7-1.9-.2-2.2-.3-1.5-.6-.9-.6-.9zM533.7,11.5l-.4 2.4-.4 2.4-.2 2.6 .5 1.6 .6 .9 .5 1.6 .5-1.5 .4-2.1 .4-2.3 .4-2.6-.3-2-.5-1.8-.7-.3zM512.6,137.5l.5 1.4 .5 1.7 .6 1 .9-1.2 .9-1.9 .6-2.4 .2-2.6 .4-3-.7-.3-1.1 1.4-1 .9-.9 1.2-.7 1.5zM494.8,126.2l-.7 1.9 .1 2.6-.2 2.4 .1 1.9 .7 .6 .9 .1 1-1.4 .9-1.7 .1-2.4 .1-2.4-.5-1.5-.8-.3-.8-.5zM495.6,151.2l-.1 2.6 1 1.1 .6 2 1.1-.1 .9-2.9 1.1-2.7 .9-2.9 .5-2.7-.7-1.6-.9-.1-1.1 1.3-1.3 1.3-1.2 1.9zM544,18.8l-.2 2 0 1.9 .1 2 .4 .9 .6-.5 .6-.8 .2-2.4 .4-2 .4-2.4-.1-1.4-.5 .2-.6 .8-.7 .7zM519.2,17.3l.7-1.4 .5-2.6 .3-2.5-.3-2.2-.6-1.7-.7-1.5-.9-.9-.7 2.1-.8 2.1-.2 2.6 .6 1.7 .9 1.2 .6 1.9zM519.6,22.5l-.8 1.2-.6 1.6-.4 2.2-.5 2.3-.3 2.1-.5 2.7 .9-.4 .7 .4 .8-.9 .4-2 .4-2.4 .3-2.6-.1-1.9z"/>
<path fill="#5a961e" d="M533.4,46.6l.3 2.3 .3 2.3 .4 2 .8 .6 .8-1.8 .8-1.6 0-3.2 .4-3 0-2.7-.9-.2-.8-.7-.9 .2-.6 3zM525.3,114.7l.2 1.6 .5 1.5 .6 .6 .6 1.2 .9-1.2 .6-2.6 .3-2.7 0-2.1-.2-2-.5-1.2-1 1.6-.9 1.6-.9 1.5zM535.6,57.2l.3 2 .1 2.4 .2 2.1 .5 .5 .7-1.5 .6-2.2 .4-2.3 .1-2.5 .2-2.8-.7-.4-.7-.7-.8 .6-.5 2.5zM502.2,164.5l-.5 3.2-.3 3.2 .2 2.6 .7 1.4 1 .9 1.2-1.1 1-3.2 .9-2.9 .7-2.9-1-.6-.8-.9-.9-.7-.9-.7zM523.4,99.8l.6-4.1 .2-3.9-1.2-.8-1.1 .5-1.3 3.2-1.3 1.6-.8 3.1-1 4.4 .3 3.3 .7 2.9 1.3-2 1-3.9 1.2-3.3z"/>
<path fill="#7ea21e" d="M524.4,25.9l-.4 2.2-.1 2.6-.3 2.7-.3 3 .6 .6 .8-.9 .8-1.8 .8-1.6 .8-1.9-.1-2.4-.1-1.9-.8-.3-.9 0zM493.6,91.8l-.7 2.2 0 2.9 .2 2.8 .6 1.3 1.3-.9 1-.3 1.1-.2 .3-2.9 .3-2.7-.5-1.9-.3-2.6-1.1 .9-1.1 .5z"/>
<path fill="#2a8a36" d="M536.5,115.7l-.3 1.7 .3 1.4 0 1.7 .2 1.2 .6 .1 .5-.9 .5-2-.1-1.7-.2-1.3-.3-1-.6 .6zM509.5,5.4l-.7 3.5-.6 2.3-.6 2.4-.8 2.7 .3 1.9 .9 .8 .9 1.2 .8-.4 .4-2.2 .1-2.6 0-2.8-.1-2.4 .2-3.7z"/>
<path fill="#66961e" d="M514.6,43.1l0 3.4 .5 2.5 .9 1.4 1.2-.5 .9-1.9 .6-3.2 .5-3 .3-3.1-.5-2-.9-.8-1.3 .6-1.2 .7-.6 2.7zM512.9,131l1.4-.9 1.4-1.3 .9-2.2-.4-3.6 .1-3.2 1.3-3.7-.5-2.5-.7-3.1-1.1 2.9-1 3.8-.4 3.4 .5 2.4-.9 4.5zM504,71l.8-3.6 .3-3.9-.8-3-1.2 .9-1.5 2.8-.9-1.6-1.6 .4-1.1 3.3-.8 3.8 .9 2.3 1.5 .9 1.4-1.7 1.6-.2zM503.8,145.7l-.4 2.2 .2 2.2 .4 1.4 .7 .4 .8 0 .8-.1 .8-1 .4-2.2-.4-2 0-2.2-.6-.9-.8-.4-1 1.1zM535.3,25.9l-.2 1.9 .4 .7 .7-.1 .7-.2 .5-.5 .1-1.8-.3-1.8-.5 .1-.7 .9zM522.2,76.8l-.4 1.9 0 2 .4 1.4 .4 1 .5 1.3 .5-2.3 .3-2.3 .4-2.1-.2-1.8-.4-1.2-.8 .9zM515.8,51.5l-.6 1.7-.1 2.8-.1 2.4-.3 2.8 .8 .1 .9-.7 .8-.1 .6-1.9 .4-2.2 .4-2.5-.5-1.8-.6-1.2-.8 .5z"/>
<path fill="#42962a" d="M536,71.5l0 2.2 .2 2.1 .1 2.4 .6 .6 .7 .6 .7 .3 .6-2.1 .2-2-.2-2.3-.2-2-.4-1.2-.8 .4-.8-.3z"/>
<path fill="#8a961e" d="M526.8,130.8l.6-3.7 .6-3.8-.5-2.1-1.2 2.1-1.1 3.3-1 3.5 .6 2-.1 2.9-.6 4 .4 1.8 1.2-1.4 .8-2.7 0-2.9z"/>
<path fill="#96961e" d="M519.2,69l1.8-3.9 1.2-3.1 1.3-4.3 1.6-1.6 1.7-3.2 .7-3-.6-3.1-1.8 2.2-1.5 2.8-1.6 1.6-1.8 1.2-1.2 4.5 0 5zM520.4,40.9l-.8 1.7-.5 3.1-.3 2.9 .2 2.6 .8 1 .9 0 1-.8 .9-.8 .4-2.5-.2-2.9 0-2.9-.5-2-1 .7z"/>
<path fill="#7e961e" d="M515.9,152.1l-.8-1.6-1-1.3-1.2 1.8-.7 3.9-.5 3.7-.4 3.7 .6 2.2 .6 2.2 1-.5 1.3-2.2 1.1-2.7 .3-3.2-.5-2.5z"/>
<path fill="#127e72" d="M494.6,170.7l-.7 2.2-.7 2.2-.7 2.2-.8 2.7 .3 1.7 .9-.2 .8-.7 .9-1.4 .9-1.4 0-2.2 .3-2.4-.1-1.8-.2-1.4zM541,28.9l-.1 2.4 .3 1.9 .1 2.4 .2 2.1 .7 .4 .5-2 .3-2.6 .3-2.6 .2-2.4-.2-2.1-.3-1.8-.6 .7-.7 2.2z"/>
<path fill="#8aa21e" d="M545.7,30.6l-.5-1.5-.9 .3-.6 3.3-.4 2.8-.4 3.2 .1 2.8 .1 2.8 .8-.2 .9 .4 .6-2.6 .2-2.5-.1-3-.1-2.5z"/>
</g>
<polygon points="443.7,5.7 544.2,10 498.7,30 376.7,26" fill="#060606"/>
<g clip-path="url(#kct)">
<path fill="#1e96de" d="M380.2,25.2l-2.1 .4-1.5-.2-.4-.3 2.4-.3 2.3 0z"/>
<path fill="#1e96ea" d="M464.2,7.2l-1.4-.3 1.7-.3 2.3-.1 .8 .3-.8 .3zM444.6,7.6l.6-.3 1.6-.1 .9 .2-.4 .3-1.9 .1zM507.1,16.9l-.3 .3-2.3 .1-.7-.3 .7-.4 2.2 0zM445.7,14.5l-1.7-.1 1.1-.3 2.1-.2 .9 .2-.6 .4zM426.4,13.7l-1.8 .1-.2-.3 1-.2 1.7-.1 .5 .3zM449.6,16.7l1.6 .1-.3 .3-2 .2-1.6-.1 .6-.4zM435.5,9.6l.2-.3 1.7-.3 1.8 .2-.6 .3-1.5 .2zM436,15l2.3-.1-.4 .4-1.9 .4-1.6-.2-.5-.3zM471.9,12.2l.3-.3 1.3-.3 1.8 .1 .6 .3-1.7 .3zM406.9,23.1l1.1-.3 1.7 0 .2 .3-.8 .3-2.3 0zM458.5,10.7l1.3 .1-1.1 .2-1.4 .1-1.3-.1 1.1-.2zM418.8,21.5l-2.8 .2-2.6 .2-2.7 .3-2.7 .3-.7 .5 1.8 .1 3-.1 2.6-.3 2.8-.2 2.1-.3 .6-.4z"/>
<path fill="#1e8aea" d="M439.4,19.1l.6 .4-2.7 .3-2.4-.1-.4-.5 3.1-.3zM480.2,22.2l-2 .4-1.7-.2-.2-.4 2.4-.4 2.4 .2zM456,12.2l1.2-.5 2.7 .1 1.4 .3-2.1 .4-2.9 .1zM477.9,29.7l-1.4 .2-1.3-.2 .4-.3 1.6-.2 .9 .2zM498.9,10.4l1.4-.2 1.5 .1 .3 .2-1.3 .2-2.1 .1zM513.5,22.9l-1.4-.4 1-.5 2.6 0 1.3 .2-1 .4zM498.3,10.3l-1.4 .3 .6 .4 1.4 .4 1.8 .2 1.8 .4 2 .3 1.6-.4 1.5-.4-.3-.5-.7-.4-.8-.4-2.5-.1-2.8-.2zM475.6,9.4l-1.3 .3-1.6 0-1.5-.1 1.3-.3 2-.2zM489.5,25.6l-1.3 .6-2.2 .3-2.1-.1 .6-.5 2-.3zM448.8,21.3l1.4-.1 1.3 .1 0 .3-2 .2-1.5-.2zM479.7,19.5l2.3 .1 .7 .5-2.7 .5-2.1-.3-.2-.4zM441.7,7.6l1.2-.4 2-.2 2.5 .1-1.2 .5-2.4 .1z"/>
<path fill="#1e8af6" d="M407,23.1l1.5-.2 .9 .2-.3 .2-1.5 .2-1-.2zM451.1,13.6l1 .1-.3 .3-1.6 .1-1.4-.1 .7-.3zM464.6,12.3l2.4 .2-1 .4-2.1 .2-2-.1-.1-.4zM496,11.2l.5 .3-1.5 .1-1.2 0-.1-.2 .9-.3zM434,27.4l2.6-.1 1 .3-1.5 .3-2.1 .2-.4-.3zM505.4,17.2l-.4 .4 .7 .3 1.6 .2 2.2 .2 2-.1 1.3-.3 .8-.5 .7-.4-.9-.2-2-.1-2.4 0-1.9 .2z"/>
<path fill="#1e72ff" d="M467.3,22.6l-.7-.4 1.1-.5 2.4 0 2 .2-2 .5z"/>
<path fill="#1ea2de" d="M465.4,25.3l-3 0-.6-.4 1.2-.4 3.1-.2 .6 .5zM484,7.4l2 0 1 .2-1.1 .3-1.9 .1-.7-.2zM510.9,12.7l-1.1 .4 .4 .5-.7 .6 1 .4 3.4-.1 3-.2 2.3-.3 2.2-.4 1.5-.4-.8-.4-2.8-.1-2.8-.1-2.7 0zM480.3,13.5l-1.7-.1-.3-.3 2.2-.2 1.6 .1 .3 .3zM476.3,20.9l-1.5 .4-2.1 0-1.3-.3 1.8-.3 2.3-.1zM521.2,9.3l1.6-.3 1.7 .2 .2 .3-1.6 .2-1.6-.1zM464.8,25l2.3-.3 1.8 .1 .4 .4-2.1 .2-1.9 0z"/>
<path fill="#1eaeba" d="M529.7,10.5l-2-.2 .1-.4 1.6-.2 2.2 .1 .6 .4zM511.4,14.9l-1.3 .3-.5 .4-.3 .4 .8 .2 1.9 .1 2.2 0 2.1-.1 1.3-.3 .7-.4 .1-.3-.4-.4-2.4 0-2.1 0zM445.4,6.1l-2.9 0-1.2-.3 2.2-.4 2.6 0 1.1 .3zM421.8,23.1l-1.8 .1-.9-.2 1-.2 1.7-.2 1 .2zM447,9.6l-1.3 .6-1.6 .4 .6 .4 1.6 .3 1.3 .5 2.4 .1 2.8-.4 1.2-.5 1.2-.4 1.3-.5-1.2-.4-1.6-.3-3.4 .1zM469.5,9.6l.1 .4 .6 .4 2.1 .2 1.9 .2 1.8-.2 1.3-.4 1-.5-1.4-.2-2.7-.1-2.3 0z"/>
<path fill="#1ea2d2" d="M476.5,13.2l-1.2-.1-.9-.2 1.4-.1 1.4-.1 .1 .3zM449.5,18.7l1.7 .3 .8 .4-3 .3-2-.2 .5-.3zM463.8,9l1.7 .2-1.1 .3-1.8 .3-1.4-.3 .5-.3zM447.7,20.6l-1.6 .2-1.6 0-.2-.3 1.2-.2 1.5 .1zM508.9,19.7l-2.7-.1-1.5-.2 1.3-.6 2.6 .1 .8 .3zM462.3,15.6l2.7-.2 1.1 .3-.6 .4-2.4 .2-1.7-.2zM504.5,9.5l-.2-.3 1.5-.3 1.6 .2-.2 .3-1.2 .1z"/>
<path fill="#1ebaae" d="M471.1,12.5l.7-.3 1.4 0 1 .2-.8 .2-1.6 0zM427.9,24.3l-1.6 .2-1.1-.2 .5-.3 1.9-.1 1.1 .1zM501.4,18.1l1.5 .1-.4 .3-1.2 .2-1.7-.1 0-.3zM449.3,28.6l-.7 .6-.8 .6 .9 .5 2.5 .2 3.2-.2 3.2-.4 3.9-.2 1.3-.5-.4-.6-1.3-.4-2.8-.1-2.6-.1-3 .3zM495.6,15.7l-.6-.3 .7-.3 1.8 0 .9 .2-.9 .4zM441.9,21.2l-1.4 .2-.5-.2 .3-.2 1.3-.1 .8 .1zM374.6,23.2l-2.1 .5-1.3 .6 1.8 .4 2.1 .3 1.7 .4 3.2-.1 2.9-.5 2.1-.6 3-.5 0-.6-3-.1-3 0-3.6 .1zM426.8,28.7l-.6 .5-.4 .5-.1 .6 2.5 .1 3.4-.4 2.8-.3 2.3-.6 1.5-.5 1.4-.5-.9-.4-2.7 .1-3.1 .3-3.3 .3zM455.3,16.7l-1.7 .4-1.7 .4 .3 .5 .7 .3 1.4 .3 2.8-.3 2.5-.3 3.1-.1 1.6-.3 0-.4-2.1-.3-1.9-.2-2.1-.1z"/>
<path fill="#1e7ef6" d="M463.8,14.7l2.5-.3 2.5 0-.1 .4-1.9 .3-2.4 0zM488.1,17.1l1.5-.1 1 .1-.1 .3-1.8 .1-1.7-.1zM468.7,8l-.7-.2 1.3-.2 1.5 0 .5 .2-1.5 .2zM456.5,10.9l1-.2 1.1 .1 .2 .2-.9 .2-1.4-.1zM440.4,11.5l-.8-.2 1.5-.2 1.2 0 .4 .1-.7 .3zM440.2,21.6l-.4 .3-2 .1-1-.2 .7-.3 1.7-.1zM464.3,7.4l.7-.4 3-.1 1.1 .3-.6 .4-2.7 .1zM425.8,14.1l1.3 .1-.9 .3-1.2 .1-.7-.1 0-.2zM460.4,15.7l-.8-.2 .4-.2 1.4-.1 .9 .1-.6 .2zM447.3,18.2l2.3-.4 2.4 .2 0 .5-2.7 .2-2.3-.1zM490.4,16.7l2.1-.3 1.9 .2-.2 .4-2.6 .3-1.5-.3zM450.2,28.1l1.2-.2 1.2 .1 .2 .2-1.3 .1-1.1 0zM478.6,17.4l.7-.3 1.7-.2 .9 .2-.3 .3-1.5 .1zM500.2,9.5l-1.1-.2 .4-.3 2-.2 .8 .3-.1 .3z"/>
<path fill="#1ebaba" d="M404,19.3l-.4-.4 2.9-.2 1.7 .1 .7 .5-3.2 .2zM475,8.8l-.4 .3-1.8 .3-1.3-.2-.5-.4 2.5-.2zM487.5,27.8l.3 .5-2.7 .2-1.8-.2 .1-.5 2.6-.2zM427,15.4l1.1-.6 3.2-.3 1.4 .4-.5 .3-2.3 .3zM423.8,15.5l.5-.4 2.2-.3 2.9 .1-.3 .5-2.9 .4zM442,15.7l1.4 .2-.1 .2-1.6 .1-1.4 0 0-.3zM433.1,24.6l-4.5 .5-4.1 .4-4.9 .4 .6 .7 0 .7 1.3 .6 3 .4 4.6-.2 4.4-.6 5.1-.4 .9-.8-3.4-.4-.9-.7zM494.4,28l-1.5 .2-.3 .5 0 .4 1.3 .3 1.3 .3 1.6 .3 2.2-.2 2.5-.2-.4-.4-1.3-.3-.6-.4-.7-.4-2-.1zM462.1,4.8l-2.3 .1-2.3 .4-2.3 .2-1.5 .3-.2 .4 .6 .4 1.6 .2 2.4-.2 2.5-.2 2.6-.2 1-.4 1.1-.4-1.2-.4zM524.1,19.2l-2.4 .5-1.9 .4-.7 .5 2.6 .2 1.9 .3 2.3 .2 2.8 .1 2.4-.3 .8-.5 .2-.5 .4-.6-2.6-.1-2.7-.2z"/>
<path fill="#1ebaa2" d="M440.8,14.9l1.6-.3 2 .1 .8 .3-2.3 .2-2.5 .2zM442.8,13.2l1.2 .5 .4 .5 1.5 .4 3.1 0 3.3-.1 3.2-.3 2.8-.3-1.8-.4-1.4-.4-2.3-.3-2.1-.2-2.4-.2-2.5 .4zM420.5,19.8l-2.1 .3 .6 .4 .6 .4 1.2 .4 1.4 .3 2.4 .2 2.9-.4 2.7-.4-1.5-.4-1.6-.2-2.5-.2-2.1-.2zM487.5,12.4l-.4 .4 .5 .3 .9 .4 .8 .3 1.1 .4 2-.4 1.9-.2 1.7-.4-.2-.3-1.9-.2-1.9-.2-1.9-.2zM493.9,15.9l-1.9 .4-.8 .5-1.6 .5-.1 .5-.7 .6 3.1-.1 3.3-.4 2.8-.2 3.3-.2 1.8-.4-3.2-.3-1.6-.3-2.2-.3zM472.3,15.6l-2.7 .3-1.9 .5-1.7 .4-.8 .5 3 .1 2.6-.3 2.9-.2 2.7-.3 2.8-.3 2.6-.5-.4-.3-3.6 .1-2.7 0zM435.5,13.8l-2.6 .4-1.8 .5-3.1 .5 .4 .6 1.8 .3 3.6 0 3.1 .1 2.1-.6 2.6-.5 2.3-.5-1.6-.4-.8-.5-2.6-.1z"/>
<path fill="#1eaed2" d="M421.7,14.4l2.5-.1 1.7 .2-.5 .4-2.9 .2-2.1-.2zM462.1,14.6l-.2 .4-2.4 .1-1.5-.2 .9-.4 2.1-.1z"/>
<path fill="#1e72f6" d="M440,23.6l-.1-.2 1.4-.2 1 .1 0 .2-1.2 .3zM521.7,15.3l1 .3-1 .4-2 0-.9-.2 .5-.4z"/>
<path fill="#1eaec6" d="M465.1,14.2l-1.4 .2-1.5-.1 0-.3 1.4-.1 1.2 0zM530.7,15.5l-.9-.2 1.4-.2 1.8-.2 .8 .3-1.5 .3zM520.6,14.7l-.6 .2-1.6 0 0-.2 .8-.2 1.2 0zM402.6,27.2l-3.2 .4 .3 .6 .4 .5 1.2 .4 3.1 0 3-.5 3.2-.5 2.4-.4 2.1-.5-.3-.5-2-.1-3.5 .2-3.3 .2zM459.4,27l-2.7 .1-.9-.4 2.1-.4 3.3-.3 .8 .6zM512.8,22.1l1.6 .2 0 .5-2.9 .2-1.9-.3 .4-.5zM464.7,28.3l-1.1 .5 .5 .5 1.1 .4 3.1 0 2.7-.5 1.1-.5 1.3-.5 1.4-.6 .4-.5-2.8-.1-2.9 .4-2.4 .5zM497.1,8.3l-1.5 .3-1 .3-.7 .4-.2 .3 1.3 .2 2 .2 2.2-.2 1.5-.3 .9-.3 .4-.4 1.1-.4-1.6-.1-2.2 0zM422.1,22.6l-1.8-.1-2.5 .3-2.6 .3-1.9 .3 1 .3 1.4 .2 1 .4 1.7 0 1.5-.3 1.7-.4 1.5-.4 .4-.4z"/>
<path fill="#36de5a" d="M444.9,6l-.8 .4-.4 .3 .9 .4 1.9 .1 2 .1 2.3-.1 2.5-.1-.8-.4 0-.4-.6-.3-2.1-.2-2.3 0zM423.3,7l-1.2 .3-.2 .5 .2 .4 2.4 .2 2.6 .2 2.5 .1 1.2-.5 1.4-.4-.1-.4-1.9-.3-1.5-.3-2.7-.1zM475.3,11.3l-2.4-.4-2.7-.3-1.2 .6-1.8 .5 1.3 .4 1.6 .4 1.1 .5 3.5-.1 3.2-.3 2.9-.3 1.4-.5-.5-.5-2.8-.1zM448.8,22.3l-2.1 .4 1 .5 .7 .5 .7 .4 1.4 .4 3.2-.3 3.1-.4 1.9-.5 1.9-.5-.5-.5-2.1-.1-3.3 0-3.2 0zM513,26.9l-.1-.6-2.3-.3-2.6 .2-1.8 .5-1.9 .6-2.6 .4 .3 .7 1.6 .5 1.4 .6 3.6-.4 1.8-.5-.2-.6 .5-.7zM468.2,17.5l-.6 .4 1 .4 1.2 .3 1.8 .1 2.4-.4 2.1-.2 2.7-.3 .4-.4-.1-.5-.9-.2-2.6 .2-2.2 .2-2.4 .2zM451.7,14.8l-.1 .4 .4 .4 .6 .4 1.9 .3 2.8-.2 1.6-.4 1.6-.4 1.1-.4 1.6-.5-.9-.2-2.4 0-2.6 .2-2.7 .1z"/>
<path fill="#2ac67e" d="M426.6,22.9l-2.6 .4-1.6 .6-2 .5-2.5 .6 0 .6 3.4-.2 3.3-.4 3.1-.3 2.9-.3 2.1-.4 1.9-.6-2.5-.2-2.5-.2zM488.3,9.9l-1.6 .5-1.3 .4-.8 .5-.3 .5 1 .3 2.8 0 2.8-.2 1.8-.4 2-.4 1.1-.4 .7-.5-2.6-.2-2.5-.2zM526,17.1l-1.9 .5-1 .5-.3 .6 1 .5 3.4 0 3.1 0 2.8-.2 2.2-.4 1.3-.6 .9-.5-3.2-.2-2.6-.2-2.6-.2zM389.6,23.8l-2.8 .5-2.6 .5-.8 .5 3.3 .1 2.7 .1 2.6 .2 3.5 0 2.1-.5 1.5-.5 1.6-.5-.9-.4-3.8 .1-3-.1zM489.8,19l-2.3 .2-1.8 .5-2 .4-1.3 .5-1.8 .4 .3 .4 3.1 0 2.9 0 2.6-.2 1.9-.3 1.3-.6-1.3-.4-.9-.4zM451.2,24.8l-1.3 .4 .7 .3 2.6 .1 2.1 .2 2.3 0 2-.2 1.2-.4 1.3-.4 .4-.4-2.2-.2-1.7-.2-2.5 .2-2.5 .3zM484.9,24.5l-1.5 .5-.3 .7-.1 .6 2.1 .4 2.8 .2 2.6 .2 2.2-.4 1.7-.6 2.9-.5-1.8-.5-1.1-.5-2.3-.3-3.6 .1zM480.6,18l-2.1 .2-2.4 .3-1.9 .2-.5 .4 1.1 .2 1.8 .2 2.4-.2 2.3-.2 2.1-.2 1.9-.2 .9-.3-1.9-.2-1.8-.1zM487.4,7.9l-1 .4-.6 .4-.3 .3 .4 .4 1.4 .2 2.3 0 1.9-.2 1.1-.4 .9-.3 1-.4-.5-.3-1.7-.2-2.3 0zM501.4,22.9l-1.8 .3-1.8 .3-.9 .4-.2 .4 1.1 .3 .7 .5 2.3-.2 2.4-.3 2.1-.3 1.7-.3-.5-.4-1.8-.2-1.7-.2zM359.5,25.5l-1.5 .6-2.1 .7 .8 .6 1.5 .4 4.4-.1 4.3-.2 4.5-.3 2.2-.7 2.2-.6-1.8-.5-3.1-.2-2.7-.3-4.3 .3z"/>
<path fill="#7eea42" d="M492.1,27.2l3.1 .2 2.7 .1 3.2 0 2.5-.5 1.6-.6 2.1-.6 .6-.5-.5-.5-2.2-.1-3.3 .4-3.2 .3-2.3 .6-2 .6zM467.3,5.3l-.8 .3 .5 .4 1.2 .2 2.1 .2 2 .2 2.2-.3 2-.2 1.4-.4-.6-.3-.3-.4-2.4 0-2.4-.1-2.5 .2zM525.8,13.4l-2 .3-1.8 .4-1.3 .4 .7 .4 1.8 .1 2.3 .1 2.3 .1 2.3-.1 .9-.4 1.4-.4-.2-.5-1.3-.3-2.5-.1zM453.1,30.6l-1.3 .5 .9 .5 .4 .6 1 .4 2.6 .1 3.4-.3 2-.5 .6-.6 1.2-.7 .5-.5-1.7-.3-3.1 0-3.6 .4z"/>
<path fill="#ffba4e" d="M504.5,12.5l-2.5 .2-1.9 .3-2 .3 1.4 .3 1.7 .3 1.5 .3 1.7 .3 2.4-.1 1-.3 .1-.4 0-.4-.1-.4-1-.4zM476.9,9.4l4.4-.2 .3-.7-1.7-.5-3.4 .1-4 .1-3.5 .3-4.5-.1-3.2 .3-2.3 .6 2.7 .5 3.4-.1 4.6-.4 3.3-.1z"/>
<path fill="#2ad272" d="M509.7,23.7l-1.7 .5 .8 .5 1.2 .4 2.3 .3 2 .3 2.3-.3 1.9-.4 1.5-.5 1.5-.4-1.8-.4-1.3-.4-2.7 0-3 .1zM442.6,28.6l-2.4 .2-1.7 .5-2.6 .4 1 .4 1.6 .3 2.3 .2 2.2 .2 2.5-.4 1.2-.5 .2-.5 .1-.5-2.3-.2zM394.4,21.4l-1.6 .6-1.8 .5 0 .5 .4 .4 3.1 .1 3.4 0 3.3 0 3-.4-.6-.6 .7-.5-.6-.6-2.5-.2-3.3 0zM455,18.9l-1.1 .4-1.7 .4 2.2 .2 2.4-.1 2.6 0 2.8-.1 2.4-.3 .9-.4-.1-.4-.9-.4-2 0-2.5 .1-2.7 .3zM466.8,29.9l-2.1 .4 .1 .7-1.2 .5 .1 .6 3.6-.2 3.1-.1 3.1 0 2.5-.3 .1-.5-.3-.5-.7-.5-2.2-.2-3 0zM476.1,24.6l-1.6 .4-1.2 .4-1.6 .5 .4 .3 1 .3 2.4 0 2.2-.1 2.7 0 .4-.5 .5-.4-.1-.4-.7-.3-2-.1zM411.8,15.7l-.4 .5 1.7 .3 1.4 .4 1.7 .3 3.1-.3 2.8-.3 3.1-.3 .1-.5-.4-.4-2.7-.1-3.2-.1-2.9-.1-3 .1z"/>
<path fill="#66de42" d="M514.7,9.3l-2.2 .2-2.1 .2-2.8 .3 0 .4 .4 .3 .9 .4 2.8-.2 2.4-.2 2.3-.2 2.6-.2 .9-.3-1-.3-2.4-.2zM550.7,10.5l-1.1-.5-1.9-.4-2.7-.1-3.1 .5-3.2 .2-3.5 .4 2 .5 1 .5 .6 .4 3.5 0 3.3 0 2-.5 2.1-.5zM465.9,6.2l-1.5 .3-.3 .3 .4 .5-.4 .4 .3 .4 2.4 .2 2.6 0 1.9-.3 1-.4-.1-.4-.3-.3-1.8-.3-2.1-.1zM478.4,20.7l1.6 0 1.4-.3 1.3-.4 1.7-.4 .9-.2-.5-.3-1.8 .1-2.3 .3-2 .2-1.2 .3 .4 .4z"/>
<path fill="#5ade4e" d="M491.7,18.5l-.6 .4 1.6 .4 .5 .4 1.8 .2 2.8-.2 2.3-.4 1.7-.4 1.3-.4 .6-.5-1.4-.3-2.5 .1-2.7 .3-2.8 .1z"/>
<path fill="#c6ea36" d="M540,8.6l-1-.5-1.9-.3-3.3 .1-3.5 .1-1.3 .5-2.2 .5-2.7 .6 1.4 .3 2.1 .5 3.7-.2 2.4-.4 .5-.6 2.1-.3zM544.6,12.6l-2.9-.1-3.2 0-2.8 .4-1.3 .5 .2 .6 1.3 .5 2.9 .2 2.7 .2 3.2 .2 2.2-.6 2.3-.5-3.3-.4-.8-.5zM445.7,14.6l-2.5 .5-2 .4-2.3 .4-1 .5 1.7 .3 2.6 .1 3.5-.2 3.3-.2 2.2-.3-.6-.5-.7-.5-1.6-.3zM485.1,12.5l-4.2 .2-4.4 .5-3.8 .2-4.8 .3 1 .6 1.3 .7 2.5 .5 5.2-.2 4.5 0 5.3-.1 1.4-.8-1.3-.6-.9-.7z"/>
<path fill="#4ede4e" d="M376.5,21.5l-1.8 .4-1 .5 1.6 .4 2.3 .1 3.3-.1 3.1-.1 3.2-.2 1.5-.5 1.7-.5-1-.4-3 0-3.2 .2-3 .1zM506.2,8.3l-1.9 .2-.9 .4-.3 .4-1.1 .4 1.5 .3 2.5 0 2.3-.2 2-.3 2.7-.3-1.2-.3-1.6-.2-2-.3zM474.8,22.1l-4.3 .1-4.3-.1-4.2 .3-.4 1 1.4 .5 2.5 .4-2.5 .9 .4 .6 4.5 0 3.1-.6 2.3-.8-1.6-.6 1.3-.8zM508.5,21.2l-2.1 .2-1.8 .4-2 .4 1 .4 1.9 .2 1.9 .2 1.9 .2 2-.3 .3-.5 .4-.4 .6-.5 .1-.4-1.7-.2zM515.7,8.9l1.9 .2 1.7 .3 2.2 .1 1.8-.3 1.7-.4 1.3-.3 .4-.4 0-.4-2.4-.1-2.3 0-2.6 .1-1.3 .4-.6 .4zM492.3,21.3l1.2 .3 2 .2 2.8 .1 2.5 0 2.3-.4 2.5-.4 .2-.4-1.6-.3-2.3-.3-2-.3-2.9 .3-2.7 .3-1.1 .5zM512.9,18.2l3.6 0 3.7-.3 3-.3 2.8-.5 2.5-.4 .1-.6-.2-.6-3.8-.1-3.3-.1-2.2 .4-.4 .7-2.6 .4-.8 .6z"/>
<path fill="#1ec696" d="M455.1,7.1l-1.5 .4 1.7 .3 1.4 .3 1.8 .2 2.8-.1 2.1-.2 .1-.4-.1-.4-.2-.4-.1-.5-2.7 .2-2.6 .3zM514,18.6l-1 .4 0 .4-.1 .5 .9 .3 2.1 .1 2.4-.1 1.8-.4 2-.4 .4-.4-.3-.5-.8-.3-2.4 0-2.5 .3zM435.2,7.7l-1.5 .4-.9 .4 0 .3 1 .3 2.7-.2 2.5-.1 2.7-.1 1.2-.4 1.4-.4-.7-.3-1.8-.1-1.8-.1-2.5 .2zM491.6,29.4l-2.2 .2-1.6 .5-1.7 .6-1.1 .6 2.5 .1 2.6 .1 2.4-.4 2.7-.5-.9-.4-1.4-.4zM458.6,10.4l-2 .3-.9 .4 0 .4 2 .1 2.9 0 2.5 .1 2-.3 1-.5 1.2-.4 .1-.3-1.3-.2-2.4 .1-2.6 .1z"/>
<path fill="#eaea36" d="M446.3,5.6l2.4-.6 2.9-.8-3.7-.2-3.6-.2-3.4 .5-1.9 .8-3.4 .5-4.6 .4 .5 .6 1.1 .7 4.7-.1 4.9-.4 .9-.7z"/>
<path fill="#a2ea36" d="M414.8,18.2l.8 .4 .7 .5 .9 .4 3-.2 3-.2 2.6-.4 .1-.4 0-.5-.7-.4-1-.3-2.4 0-3.1 .3-2.2 .4zM519.5,10.4l-1.3 .4-1 .5-1.1 .4-1.2 .4 1.6 .2 2.3 .1 2.6 .1 2-.2 .2-.5 .7-.4 .8-.5-1.4-.3-1.8-.3z"/>
<path fill="#36d25a" d="M454,4.1l-1.5 .3-1.2 .3-1.2 .4-.2 .3 1.5 .2 2.4-.1 2.1-.3 2.3-.2 2.2-.3-.8-.3-1.1-.2-2.2-.1zM548.3,8.6l-.3 .4 .9 .5 1.5 .4 2.2 .2 1.6-.5 1.5-.4 1.2-.4 1.7-.5 .8-.3-.6-.4-2.6 .2-2.8 .3-2.7 .2zM508.4,7.6l-1.4 .3 .4 .2 1.4 .3 2 .1 1.7 .2 1.9 0 1-.3 .9-.4 1.4-.3-.1-.4-2.2-.1-2.4 .1-2.3 .2zM427,10.9l-2.9 .3-2.1 .6-1.6 .6-.4 .5 3.5 .2 3.6 .1 3.5 .2 3.2 0 .7-.5-.3-.5-1-.5-.9-.6-2.1-.3z"/>
<path fill="#2ad266" d="M497.1,11.3l-1.9 .2-2 .3-.6 .3 1.4 .3 1.7 .2 2 .2 2.4-.1 1.8-.3 .1-.3-2-.3-1.3-.3zM410.1,17l-2.4 .2-2.4 .3-2 .4-.9 .3 1.6 .3 2 .1 2.7-.2 3-.1 1.3-.4 .1-.4-1.5-.2zM393.2,16.8l-1.9 .6-.9 .5 1.4 .4 3.9-.1 3.7-.2 2.9-.4 3-.4 2.7-.4 1-.6-1.2-.4-4.1 .4-3.4 .2-3.5 .2zM506.6,18.6l-1.5 .3-1.5 .3-1.4 .4 1.8 .2 1.2 .2 1.6 .2 1.8 .2 2.3-.1 .5-.4-.1-.4-.1-.4-.4-.4-2.3 0zM526.6,10.8l-1.3 .6-.5 .5-1.1 .6 1.5 .4 2.4 .3 3.3 .1 2.5-.4 2.2-.5 .6-.5 .4-.6-1.1-.4-2-.4-3.4 .3zM416.5,10.3l-2.7 .2-2.6 .3-1.9 .4-.4 .4 2.2 .2 2.5 .1 2.8-.1 2.6 .1 1.7-.4 1.4-.4 .8-.4-1.4-.2-2.7 0z"/>
<path fill="#2ac68a" d="M497.1,30.6l-2.7 .3-2.2 .5-.5 .4 .7 .5 1.8 .2 2.5 0 3-.3 3-.2 .4-.6 .7-.5 0-.4-1.5-.3-2.7 .2zM441.2,16.9l-1.3 .4 0 .5 .5 .3 2.4 0 2.6-.2 2.6-.2 2-.3 1.8-.4 .1-.4-2.4 0-2.7 .1-2.6 .1zM382.8,25.8l-4.1 .4-1.2 .8 .6 .5 2.6 .4 2.1 .4 3.9 0 4.6-.3 4.5-.4 2.2-.7-1.9-.5-2.6-.3-3.8 0-3.4-.1zM515.2,20.5l-.8 .6-.7 .5-.5 .6-.3 .7 1.2 .4 3.2-.1 2.8-.3 2.1-.5 2.4-.5 .7-.4-2.3-.3-2.1-.3-2.5-.3zM416.6,13.1l.1-.6-4.8-.2-5.3 0-1.3 .8-.3 .8-4.8 .5-2.4 .8-3 .8 1.9 .4 6.6-.6 5.6-.3 2.2-.9 2.2-.8z"/>
<path fill="#8aea42" d="M475.9,10.9l2 .2 2.7 0 2.6-.1 1.7-.3 1.5-.4 .3-.4-2.1-.2-2.1-.2-2.7 .1-1.6 .4-1 .4zM461.3,28.1l5.3-.5 2.5-.8-3.3-.5-5.1 0-4.3-.1-4.3-.2-4.1-.2-5.1 .5-.6 1 1.9 .6 3.8 .4 4.7-.2 4.9-.4zM437,23.3l-1.5 .6 .6 .5 1.1 .5 1.6 .4 2 .3 3-.3 2.2-.5 .5-.5-.3-.5-.6-.5-.9-.4-1.6-.5-3 .5z"/>
<path fill="#72ea42" d="M509.5,11.3l-.9 .3-1.1 .4 .9 .2 1.7 .1 2.2 0 1.4-.3 .8-.4 1.3-.3 .7-.3-.8-.2-2.2 .2-2 .1zM417.3,27.6l-2.8 .2-2.8 .4-2.9 .4-2.6 .5-2.3 .5 1.4 .5 1.3 .5 3.5-.5 2.7-.5 2.6-.5 2.4-.5 .6-.6zM436.6,19.3l-5.1-.1-5.8 .1-2.8 .6 5.1 .5 3.9 .4-4.1 .6-1.8 .8 3.6 .5 5.2-.1 5.9-.4 1.9-.9-1.1-.7-4.5-.4zM473.2,21.6l1.1-.7-.7-.8-4.2-.4-3-.2-4.2 .6-4.5 .2-5.3 .1-4.7 .6 1.2 .8 4.6 0 5-.1 4.4 0 5.2 0z"/>
<path fill="#f6de42" d="M430.4,9l-3.9-.3-5.8-.4-2.9 .8-.2 .8 3.2 .3 5.3 .2 4 .4 5.3 .1 5.3-.1 3.3-.8 .4-.7-5.5-.2-5.9 .3zM485.4,6.2l-.9 .4-.1 .4-.3 .5 2.1 .2 2.7-.2 2.4-.1 2.1-.2 .8-.4 1.8-.4-1.5-.3-1.8-.2-2.3 0-2.3 .2z"/>
<path fill="#2ad27e" d="M429.4,16.5l-2.5 .3 .8 .5 .2 .4 .6 .4 .7 .4 2.9 .1 2.5-.1 1.9-.3 .6-.4 .1-.5-.6-.4-1.8-.2-2.6-.1z"/>
<path fill="#baea36" d="M466.9,14.3l-2.1 .3-1.3 .3-1.3 .4-1.1 .5-1.3 .4 1.6 .3 2.2 .1 2.2 0 1.7-.5 2.2-.3 .2-.4-1.2-.3-.9-.4zM478.5,21.5l-3 .8-1.1 .8-.9 .9 4.7 .2 5 0 4.6 0 5.6 0 1.9-.9 5-.7-3.5-.5-4.1-.3-4.7-.1-4.7-.2z"/>
<path fill="#aeea36" d="M531.3,15.6l-.1 .5-.5 .5 1.6 .2 2.4 .2 2.3 0 2.1-.2 1.6-.4 .9-.5-.2-.4-2.6-.1-1.9-.2-2.1-.3-1.8 .3z"/>
<path fill="#deea36" d="M536.8,9.1l-.5 .3-.6 .4 .4 .3 2-.1 1.9-.2 1.8-.2 2.1-.1 2-.2-.8-.3-1-.2-1.7-.1-1.7 .1-1.9 .1z"/>
<path fill="#36d266" d="M488.8,28.1l-2.6 .4-2.3 .2-2.6 .5-2.2 .4-.4 .5-.2 .6 .8 .5 3.1-.1 2.4-.5 1.4-.5 1.5-.6 .8-.4 .6-.6z"/>
<path fill="#96ea36" d="M437.1,18.8l.6 .6-.1 .6 2.6 .4 3 .1 3.3 .2 3.1-.6 .9-.6 1-.6 .3-.6-.4-.6-3.8 .2-3.6 .3-3.8 .2z"/>
<path fill="#1eba96" d="M451.6,12.1l-.5 .4 2.7 .3 2 .4 2.7 .3 2.7 .4 3.6-.1 2.3-.5 .9-.5-1.2-.4-2-.5-3.5-.1-3.3 .1-4-.2z"/>
<path fill="#36de4e" d="M504.4,15l-2.3 .2-2.3 .1-2.3 .2-.7 .3 1.4 .2 1.8 .2 1.5 .3 1.7 .2 2.1-.2 1-.4 .7-.5 .7-.4-.6-.3z"/>
<path fill="#42de4e" d="M448.3,7.7l-1.9 .3-.7 .4-1.9 .4 1.5 .3 1.2 .3 2.6-.1 2.5-.1 2.7-.1 1.2-.4-.4-.4-1.1-.3-.7-.4-2.5 .1zM435.5,11.3l-.6 .4 .5 .4 .3 .4 .8 .3 1.4 .3 2.7-.1 2.1-.3 2.6-.3 1-.4-1.6-.4-1.8-.2-2-.1-2.5 0z"/>
</g>
<rect x="42.3" y="198.5" width="39.5" height="161.8" fill="#f4f4f4"/>
<rect x="81.8" y="198.5" width="86.9" height="161.8" fill="#ebebeb"/>
<rect x="168.7" y="198.5" width="189.7" height="161.8" fill="#e3e3e3"/>
<line x1="81.8" y1="198.5" x2="81.8" y2="360.3" stroke="#d8d8d8" stroke-width="0.8"/>
<line x1="168.7" y1="198.5" x2="168.7" y2="360.3" stroke="#cfcfcf" stroke-width="0.8"/>
<rect x="62" y="351.4" width="296.4" height="8.9" fill="url(#cbar)"/>
<text class="g" transform="translate(64.0,236.5) rotate(-90)" text-anchor="middle" font-size="11.0" fill="#555" textLength="47.8" lengthAdjust="spacingAndGlyphs">Coarse silt</text>
<text class="g" transform="translate(114.0,236.6) rotate(-90)" text-anchor="middle" font-size="11.0" fill="#555" textLength="43.8" lengthAdjust="spacingAndGlyphs">Fine sand</text>
<text class="g" transform="translate(235.5,236.2) rotate(-90)" text-anchor="middle" font-size="11.0" fill="#555" textLength="63.7" lengthAdjust="spacingAndGlyphs">Medium sand</text>
<polyline points="102.8,348.7 118.7,345.8 131.8,337.0 142.7,324.0 152.8,304.3 160.2,282.4 169.0,251.8 179.0,227.8 184.3,223.4 189.3,226.5 195.4,234.7 202.6,245.0 208.8,253.2 216.0,264.5 221.1,275.8 226.3,288.0 229.4,294.4 235.5,306.7 243.8,318.0 250.0,324.0 257.7,331.7 265.4,338.1 275.7,342.7 286.0,345.0 301.4,346.0 311.7,347.0 319.4,348.4 327.0,348.9 345.6,349.1" fill="none" stroke="#b43cd2" stroke-width="2" stroke-linejoin="round" stroke-linecap="butt"/>
<polyline points="62.6,345.8 71.5,339.6 81.7,336.0 92.0,333.0 99.2,328.3 106.4,319.0 116.7,302.6 129.0,281.5 136.7,263.8 143.5,252.5 150.7,243.6 158.3,240.5 165.1,239.1 171.7,242.2 176.9,248.3 182.0,259.6 188.2,271.7 191.3,280.0 200.6,298.5 210.9,317.0 222.2,334.5 231.4,342.7 241.7,345.4 260.0,347.5 275.7,349.3 314.0,350.2 347.6,350.4" fill="none" stroke="#1a4fc8" stroke-width="2" stroke-linejoin="round" stroke-linecap="butt"/>
<polyline points="77.2,350.0 88.0,347.5 96.0,343.4 103.3,335.5 110.5,319.0 116.7,302.6 124.0,280.0 130.6,251.4 137.8,229.8 144.5,214.0 150.7,209.7 156.9,216.5 163.0,229.8 169.6,239.0 175.4,246.3 181.0,261.7 185.3,274.0 190.3,292.0 196.5,310.8 204.7,322.2 215.0,331.4 225.2,341.7 235.5,346.2 247.9,346.5 260.0,347.9 275.7,349.6 314.0,350.5 345.0,350.8" fill="none" stroke="#2f9e68" stroke-width="2" stroke-linejoin="round" stroke-linecap="butt"/>
<line x1="261" y1="212.8" x2="281" y2="212.8" stroke="#b43cd2" stroke-width="2"/>
<line x1="261" y1="233.6" x2="281" y2="233.6" stroke="#1a4fc8" stroke-width="2"/>
<line x1="261" y1="254.1" x2="281" y2="254.1" stroke="#2f9e68" stroke-width="2"/>
<text x="287.6" y="209.8" font-size="10" fill="#1a1a1a" textLength="55.3" lengthAdjust="spacingAndGlyphs">Fontainebleau</text>
<text x="287.6" y="219.6" font-size="10" fill="#1a1a1a" textLength="65.3" lengthAdjust="spacingAndGlyphs">(Mean = 244 μm)</text>
<text x="287.6" y="229.8" font-size="10" fill="#1a1a1a" textLength="21.2" lengthAdjust="spacingAndGlyphs">Berea</text>
<text x="287.6" y="240.4" font-size="10" fill="#1a1a1a" textLength="65.3" lengthAdjust="spacingAndGlyphs">(Mean = 185 μm)</text>
<text x="287.6" y="250.5" font-size="10" fill="#1a1a1a" textLength="37.5" lengthAdjust="spacingAndGlyphs">Bentheim</text>
<text x="287.6" y="260.7" font-size="10" fill="#1a1a1a" textLength="65.3" lengthAdjust="spacingAndGlyphs">(Mean = 185 μm)</text>
<path d="M42.3,198.5 H358.4 V360.3 H42.3 Z" fill="none" stroke="#6e6e6e" stroke-width="1.5"/>
<line x1="40.1" y1="351.5" x2="42.3" y2="351.5" stroke="#6e6e6e" stroke-width="1"/>
<text x="38" y="355.1" text-anchor="end" font-size="11.2" fill="#222" textLength="12.6" lengthAdjust="spacingAndGlyphs">0.0</text>
<line x1="40.1" y1="321.0" x2="42.3" y2="321.0" stroke="#6e6e6e" stroke-width="1"/>
<text x="38" y="324.6" text-anchor="end" font-size="11.2" fill="#222" textLength="12.6" lengthAdjust="spacingAndGlyphs">0.2</text>
<line x1="40.1" y1="290.5" x2="42.3" y2="290.5" stroke="#6e6e6e" stroke-width="1"/>
<text x="38" y="294.1" text-anchor="end" font-size="11.2" fill="#222" textLength="12.6" lengthAdjust="spacingAndGlyphs">0.4</text>
<line x1="40.1" y1="260.0" x2="42.3" y2="260.0" stroke="#6e6e6e" stroke-width="1"/>
<text x="38" y="263.6" text-anchor="end" font-size="11.2" fill="#222" textLength="12.6" lengthAdjust="spacingAndGlyphs">0.6</text>
<line x1="40.1" y1="229.5" x2="42.3" y2="229.5" stroke="#6e6e6e" stroke-width="1"/>
<text x="38" y="233.1" text-anchor="end" font-size="11.2" fill="#222" textLength="12.6" lengthAdjust="spacingAndGlyphs">0.8</text>
<line x1="40.1" y1="199.0" x2="42.3" y2="199.0" stroke="#6e6e6e" stroke-width="1"/>
<text x="38" y="202.6" text-anchor="end" font-size="11.2" fill="#222" textLength="12.6" lengthAdjust="spacingAndGlyphs">1.0</text>
<line x1="42.3" y1="360.3" x2="42.3" y2="362.5" stroke="#6e6e6e" stroke-width="1"/>
<text x="42.3" y="371.6" text-anchor="middle" font-size="11.2" fill="#222" textLength="5.2" lengthAdjust="spacingAndGlyphs">0</text>
<line x1="105.5" y1="360.3" x2="105.5" y2="362.5" stroke="#6e6e6e" stroke-width="1"/>
<text x="105.5" y="371.6" text-anchor="middle" font-size="11.2" fill="#222" textLength="15.0" lengthAdjust="spacingAndGlyphs">100</text>
<line x1="168.7" y1="360.3" x2="168.7" y2="362.5" stroke="#6e6e6e" stroke-width="1"/>
<text x="168.7" y="371.6" text-anchor="middle" font-size="11.2" fill="#222" textLength="15.0" lengthAdjust="spacingAndGlyphs">200</text>
<line x1="232.0" y1="360.3" x2="232.0" y2="362.5" stroke="#6e6e6e" stroke-width="1"/>
<text x="232.0" y="371.6" text-anchor="middle" font-size="11.2" fill="#222" textLength="15.0" lengthAdjust="spacingAndGlyphs">300</text>
<line x1="295.2" y1="360.3" x2="295.2" y2="362.5" stroke="#6e6e6e" stroke-width="1"/>
<text x="295.2" y="371.6" text-anchor="middle" font-size="11.2" fill="#222" textLength="15.0" lengthAdjust="spacingAndGlyphs">400</text>
<line x1="358.4" y1="360.3" x2="358.4" y2="362.5" stroke="#6e6e6e" stroke-width="1"/>
<text x="358.4" y="371.6" text-anchor="middle" font-size="11.2" fill="#222" textLength="15.0" lengthAdjust="spacingAndGlyphs">500</text>
<text x="200.5" y="383.3" text-anchor="middle" font-size="10.6" font-weight="bold" fill="#111" textLength="95" lengthAdjust="spacingAndGlyphs">Grain diameter (μm)</text>
<text transform="translate(21.0,279.5) rotate(-90)" text-anchor="middle" font-size="10.8" fill="#111" font-weight="bold" textLength="86.5" lengthAdjust="spacingAndGlyphs">Probability density</text>
<text x="11.3" y="203" font-size="11.5" font-weight="bold" fill="#111">d)</text>
<text x="40.8" y="195.3" font-size="10.2" fill="#222">× 10<tspan font-size="7.5" dy="-4">-2</tspan></text>
<polyline points="407.6,360.0 413.1,338.9 416.4,319.3 421.6,265.5 426.7,240.8 433.3,218.6 437.0,240.8 441.1,263.4 445.8,294.2 452.4,310.5 459.2,333.4 464.2,349.3 470.0,354.3 476.7,354.3 482.6,358.8 495.0,359.7 525.0,359.7 531.4,358.3 537.0,359.7" fill="none" stroke="#b43cd2" stroke-width="2" stroke-linejoin="round"/>
<polyline points="407.6,360.0 415.3,343.3 418.5,323.6 422.9,285.0 427.7,253.1 433.3,235.7 436.0,247.0 439.0,262.4 444.8,269.6 449.3,290.0 452.4,301.8 465.0,334.3 475.0,348.5 484.2,355.2 495.1,357.7 503.5,359.3 539.0,359.8" fill="none" stroke="#1a4fc8" stroke-width="2" stroke-linejoin="round"/>
<polyline points="407.6,360.0 416.4,338.9 421.6,290.0 424.7,271.6 427.7,251.0 433.9,241.8 440.1,252.1 445.2,265.5 450.3,290.0 452.4,306.2 464.2,338.4 470.9,349.8 475.0,349.8 481.7,355.2 490.1,357.2 496.8,357.7 501.8,359.3 539.0,359.8" fill="none" stroke="#2f9e68" stroke-width="2" stroke-linejoin="round"/>
<path d="M405.7,198.8 H539.8 V360.2 H405.7 Z" fill="none" stroke="#6e6e6e" stroke-width="1.5"/>
<line x1="403.5" y1="360.0" x2="405.7" y2="360.0" stroke="#6e6e6e" stroke-width="1"/>
<text x="403.5" y="363.6" text-anchor="end" font-size="11.2" fill="#222" textLength="12.6" lengthAdjust="spacingAndGlyphs">0.0</text>
<line x1="403.5" y1="313.8" x2="405.7" y2="313.8" stroke="#6e6e6e" stroke-width="1"/>
<text x="403.5" y="317.4" text-anchor="end" font-size="11.2" fill="#222" textLength="12.6" lengthAdjust="spacingAndGlyphs">0.5</text>
<line x1="403.5" y1="267.5" x2="405.7" y2="267.5" stroke="#6e6e6e" stroke-width="1"/>
<text x="403.5" y="271.1" text-anchor="end" font-size="11.2" fill="#222" textLength="12.6" lengthAdjust="spacingAndGlyphs">1.0</text>
<line x1="403.5" y1="221.2" x2="405.7" y2="221.2" stroke="#6e6e6e" stroke-width="1"/>
<text x="403.5" y="224.8" text-anchor="end" font-size="11.2" fill="#222" textLength="12.6" lengthAdjust="spacingAndGlyphs">1.5</text>
<line x1="405.7" y1="360.2" x2="405.7" y2="362.4" stroke="#6e6e6e" stroke-width="1"/>
<text x="405.7" y="371.6" text-anchor="middle" font-size="11.2" fill="#222" textLength="5.2" lengthAdjust="spacingAndGlyphs">1</text>
<line x1="450.4" y1="360.2" x2="450.4" y2="362.4" stroke="#6e6e6e" stroke-width="1"/>
<text x="450.4" y="371.6" text-anchor="middle" font-size="11.2" fill="#222" textLength="5.2" lengthAdjust="spacingAndGlyphs">2</text>
<line x1="495.1" y1="360.2" x2="495.1" y2="362.4" stroke="#6e6e6e" stroke-width="1"/>
<text x="495.1" y="371.6" text-anchor="middle" font-size="11.2" fill="#222" textLength="5.2" lengthAdjust="spacingAndGlyphs">3</text>
<line x1="539.8" y1="360.2" x2="539.8" y2="362.4" stroke="#6e6e6e" stroke-width="1"/>
<text x="539.8" y="371.6" text-anchor="middle" font-size="11.2" fill="#222" textLength="5.2" lengthAdjust="spacingAndGlyphs">4</text>
<text x="472.7" y="382.3" text-anchor="middle" font-size="10.6" font-weight="bold" fill="#111" textLength="55.4" lengthAdjust="spacingAndGlyphs">Aspect ratio</text>
<text transform="translate(384.5,280.5) rotate(-90)" text-anchor="middle" font-size="10.8" fill="#111" font-weight="bold" textLength="87.2" lengthAdjust="spacingAndGlyphs">Probability density</text>
<text x="377" y="202.7" font-size="11.5" font-weight="bold" fill="#111">e)</text>
<text x="469.9" y="210.8" font-size="9.2" fill="#111" textLength="64.8" lengthAdjust="spacingAndGlyphs">Aspect ratio = a/c</text>
<ellipse cx="500.5" cy="232.7" rx="30.2" ry="16.4" fill="#c8c8c8" stroke="#333" stroke-width="0.9"/>
<ellipse cx="500.5" cy="232.8" rx="30.1" ry="8.2" fill="none" stroke="#333" stroke-width="0.8"/>
<path d="M501.5,216.5 V233 H530.5 M501.5,233 L497.5,240.8" fill="none" stroke="#333" stroke-width="0.9"/>
<text x="497.6" y="225.2" text-anchor="middle" font-size="10" fill="#111">c</text>
<text x="512" y="231.6" text-anchor="middle" font-size="10" fill="#111">a</text>
<text x="495.2" y="238.8" text-anchor="middle" font-size="10" fill="#111">b</text>
<text x="11.8" y="13.8" font-size="11.5" font-weight="bold" fill="#111">a)</text>
<text x="193.6" y="14.5" font-size="11.5" font-weight="bold" fill="#111">b)</text>
<text x="376.4" y="14.5" font-size="11.5" font-weight="bold" fill="#111">c)</text>
<text x="12.3" y="164.4" font-size="12" fill="#1a1a1a" textLength="65.4" lengthAdjust="spacingAndGlyphs">Fontainebleau</text>
<text x="23.2" y="174.8" font-size="12" fill="#1a1a1a" textLength="44.3" lengthAdjust="spacingAndGlyphs">ϕ = 14.7%</text>
<text x="215.4" y="164.3" font-size="12" fill="#1a1a1a" textLength="24.0" lengthAdjust="spacingAndGlyphs">Berea</text>
<text x="207.8" y="174.8" font-size="12" fill="#1a1a1a" textLength="44.7" lengthAdjust="spacingAndGlyphs">ϕ = 19.6%</text>
<text x="389.5" y="164.3" font-size="12" fill="#1a1a1a" textLength="43.7" lengthAdjust="spacingAndGlyphs">Bentheim</text>
<text x="390.0" y="174.8" font-size="12" fill="#1a1a1a" textLength="44.6" lengthAdjust="spacingAndGlyphs">ϕ = 23.4%</text>
</svg>
</body></html>
